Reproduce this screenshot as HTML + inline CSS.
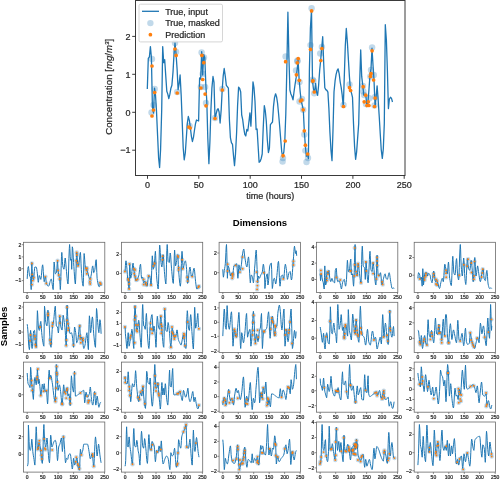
<!DOCTYPE html><html><head><meta charset="utf-8"><style>html,body{margin:0;padding:0;background:#fff;width:500px;height:479px;overflow:hidden;position:relative}</style></head><body><svg width="500" height="479" viewBox="0 0 500 479" style="position:absolute;left:0;top:0;will-change:transform;font-family:'Liberation Sans', sans-serif">
<style>text.t{stroke:#262626;stroke-width:0.22px;paint-order:stroke}</style>
<rect width="500" height="479" fill="#fff"/>
<g>
<defs><clipPath id="ct"><rect x="135.5" y="0.5" width="269.5" height="175.0"/></clipPath></defs>
<g clip-path="url(#ct)">
<polyline points="147.3,89.0 148.3,58.3 149.4,56.8 150.4,46.6 151.4,57.5 152.4,107.0 153.5,113.0 154.5,88.2 155.5,95.0 156.5,111.4 157.6,135.8 158.6,157.9 159.6,167.5 160.6,149.1 161.7,110.0 162.7,46.6 163.7,62.7 164.7,59.7 165.8,76.5 166.8,91.2 167.8,94.1 168.8,98.5 169.9,94.2 170.9,88.2 171.9,85.3 173.0,72.1 174.0,54.6 175.0,43.0 176.0,53.2 177.1,69.2 178.1,89.7 179.1,83.9 180.1,75.0 181.2,95.6 182.2,121.5 183.2,147.8 184.2,159.8 185.3,153.0 186.3,138.2 187.3,123.3 188.3,116.5 189.4,120.7 190.4,128.0 191.4,136.3 192.4,141.5 193.5,137.1 194.5,130.0 195.5,123.7 196.5,120.0 197.6,120.5 198.6,121.0 199.6,78.0 200.7,79.0 201.7,51.7 202.7,75.0 203.7,54.6 204.8,57.5 205.8,83.9 206.8,101.4 207.8,138.0 208.9,163.7 209.9,142.0 210.9,110.0 211.9,88.1 213.0,76.5 214.0,82.4 215.0,118.5 216.0,114.7 217.1,110.0 218.1,108.7 219.1,112.0 220.1,123.0 221.2,109.6 222.2,89.7 223.2,75.9 224.2,68.5 225.3,76.3 226.3,85.3 227.3,86.6 228.4,88.2 229.4,119.7 230.4,137.7 231.4,142.6 232.5,144.3 233.5,155.6 234.5,165.6 235.5,154.0 236.6,132.8 237.6,105.2 238.6,87.1 239.6,88.3 240.7,92.0 241.7,115.0 242.7,119.7 243.7,127.8 244.8,134.4 245.8,136.0 246.8,129.5 247.8,131.0 248.9,122.0 249.9,113.0 250.9,126.2 252.0,104.1 253.0,81.9 254.0,87.9 255.0,101.5 256.1,129.5 257.1,129.0 258.1,145.7 259.1,162.3 260.2,161.3 261.2,158.5 262.2,154.0 263.2,128.5 264.3,105.7 265.3,110.9 266.3,121.3 267.3,139.5 268.4,152.5 269.4,148.4 270.4,124.6 271.4,123.3 272.5,122.0 273.5,106.3 274.5,97.7 275.6,93.8 276.6,96.9 277.6,103.5 278.6,114.0 279.7,126.5 280.7,139.2 281.7,151.5 282.7,157.0 283.8,152.2 284.8,140.8 285.8,114.0 286.8,70.0 287.9,12.2 288.9,56.4 289.9,90.0 290.9,94.0 292.0,96.5 293.0,99.9 294.0,92.0 295.0,84.8 296.1,77.9 297.1,70.0 298.1,60.0 299.1,79.0 300.2,92.0 301.2,101.0 302.2,105.0 303.3,109.8 304.3,130.8 305.3,145.2 306.3,156.3 307.4,154.0 308.4,158.5 309.4,70.0 310.4,28.3 311.5,10.3 312.5,80.8 313.5,89.3 314.5,92.1 315.6,83.3 316.6,92.1 317.6,95.4 318.6,85.5 319.7,70.0 320.7,60.0 321.7,48.0 322.7,36.7 323.8,65.8 324.8,87.7 325.8,89.6 326.9,90.4 327.9,92.1 328.9,108.6 329.9,132.0 331.0,150.5 332.0,160.7 333.0,129.9 334.0,92.0 335.1,80.7 336.1,74.4 337.1,70.6 338.1,68.9 339.2,73.9 340.2,82.0 341.2,87.7 342.2,95.2 343.3,106.7 344.3,76.4 345.3,45.7 346.3,28.5 347.4,42.6 348.4,59.7 349.4,76.4 350.4,89.5 351.5,93.1 352.5,97.3 353.5,123.6 354.6,146.9 355.6,159.3 356.6,152.1 357.6,138.6 358.7,123.6 359.7,81.7 360.7,50.0 361.7,76.4 362.8,85.8 363.8,95.2 364.8,95.2 365.8,95.2 366.9,106.7 367.9,102.7 368.9,90.4 369.9,76.4 371.0,68.9 372.0,48.2 373.0,65.0 374.0,80.0 375.1,106.7 376.1,97.3 377.1,85.8 378.1,99.0 379.2,116.0 380.2,133.0 381.2,149.3 382.3,158.4 383.3,149.0 384.3,123.6 385.3,24.7 386.4,40.4 387.4,70.8 388.4,108.6 389.4,99.0 390.5,97.3 391.5,98.4 392.5,102.0" fill="none" stroke="#1f77b4" stroke-width="1.3" stroke-linejoin="round"/>
<circle cx="215" cy="118" r="3.2" fill="#1f77b4" fill-opacity="0.28"/>
<circle cx="152" cy="59" r="3.2" fill="#1f77b4" fill-opacity="0.28"/>
<circle cx="154.7" cy="89" r="3.2" fill="#1f77b4" fill-opacity="0.28"/>
<circle cx="153.5" cy="105" r="3.2" fill="#1f77b4" fill-opacity="0.28"/>
<circle cx="151.5" cy="112.5" r="3.2" fill="#1f77b4" fill-opacity="0.28"/>
<circle cx="175" cy="43" r="3.2" fill="#1f77b4" fill-opacity="0.28"/>
<circle cx="176" cy="51.7" r="3.2" fill="#1f77b4" fill-opacity="0.28"/>
<circle cx="177.2" cy="92" r="3.2" fill="#1f77b4" fill-opacity="0.28"/>
<circle cx="189.6" cy="126" r="3.2" fill="#1f77b4" fill-opacity="0.28"/>
<circle cx="201.6" cy="52.5" r="3.2" fill="#1f77b4" fill-opacity="0.28"/>
<circle cx="204" cy="57.5" r="3.2" fill="#1f77b4" fill-opacity="0.28"/>
<circle cx="202.7" cy="74" r="3.2" fill="#1f77b4" fill-opacity="0.28"/>
<circle cx="200.9" cy="87" r="3.2" fill="#1f77b4" fill-opacity="0.28"/>
<circle cx="205.1" cy="87" r="3.2" fill="#1f77b4" fill-opacity="0.28"/>
<circle cx="206" cy="103" r="3.2" fill="#1f77b4" fill-opacity="0.28"/>
<circle cx="222.3" cy="89" r="3.2" fill="#1f77b4" fill-opacity="0.28"/>
<circle cx="283" cy="158" r="3.2" fill="#1f77b4" fill-opacity="0.28"/>
<circle cx="282.6" cy="161.5" r="3.2" fill="#1f77b4" fill-opacity="0.28"/>
<circle cx="285.6" cy="56.4" r="3.2" fill="#1f77b4" fill-opacity="0.28"/>
<circle cx="297.5" cy="60.5" r="3.2" fill="#1f77b4" fill-opacity="0.28"/>
<circle cx="297.3" cy="61.5" r="3.2" fill="#1f77b4" fill-opacity="0.28"/>
<circle cx="296" cy="70.5" r="3.2" fill="#1f77b4" fill-opacity="0.28"/>
<circle cx="299.5" cy="82" r="3.2" fill="#1f77b4" fill-opacity="0.28"/>
<circle cx="311.6" cy="8.3" r="3.2" fill="#1f77b4" fill-opacity="0.28"/>
<circle cx="310.5" cy="45.1" r="3.2" fill="#1f77b4" fill-opacity="0.28"/>
<circle cx="313.5" cy="81" r="3.2" fill="#1f77b4" fill-opacity="0.28"/>
<circle cx="321.9" cy="47" r="3.2" fill="#1f77b4" fill-opacity="0.28"/>
<circle cx="320.2" cy="53.5" r="3.2" fill="#1f77b4" fill-opacity="0.28"/>
<circle cx="299.5" cy="101.5" r="3.2" fill="#1f77b4" fill-opacity="0.28"/>
<circle cx="302" cy="99" r="3.2" fill="#1f77b4" fill-opacity="0.28"/>
<circle cx="303.2" cy="109.8" r="3.2" fill="#1f77b4" fill-opacity="0.28"/>
<circle cx="304.3" cy="134.5" r="3.2" fill="#1f77b4" fill-opacity="0.28"/>
<circle cx="305.4" cy="150.6" r="3.2" fill="#1f77b4" fill-opacity="0.28"/>
<circle cx="306.5" cy="162" r="3.2" fill="#1f77b4" fill-opacity="0.28"/>
<circle cx="308" cy="158" r="3.2" fill="#1f77b4" fill-opacity="0.28"/>
<circle cx="312.7" cy="79.7" r="3.2" fill="#1f77b4" fill-opacity="0.28"/>
<circle cx="314.3" cy="93.3" r="3.2" fill="#1f77b4" fill-opacity="0.28"/>
<circle cx="343.5" cy="105" r="3.2" fill="#1f77b4" fill-opacity="0.28"/>
<circle cx="349.5" cy="84.4" r="3.2" fill="#1f77b4" fill-opacity="0.28"/>
<circle cx="363" cy="86" r="3.2" fill="#1f77b4" fill-opacity="0.28"/>
<circle cx="363.4" cy="91.4" r="3.2" fill="#1f77b4" fill-opacity="0.28"/>
<circle cx="364.2" cy="95" r="3.2" fill="#1f77b4" fill-opacity="0.28"/>
<circle cx="366" cy="104" r="3.2" fill="#1f77b4" fill-opacity="0.28"/>
<circle cx="369.3" cy="98.3" r="3.2" fill="#1f77b4" fill-opacity="0.28"/>
<circle cx="371" cy="70" r="3.2" fill="#1f77b4" fill-opacity="0.28"/>
<circle cx="370.4" cy="76.4" r="3.2" fill="#1f77b4" fill-opacity="0.28"/>
<circle cx="373.8" cy="75" r="3.2" fill="#1f77b4" fill-opacity="0.28"/>
<circle cx="372.1" cy="47.4" r="3.2" fill="#1f77b4" fill-opacity="0.28"/>
<circle cx="375.1" cy="97" r="3.2" fill="#1f77b4" fill-opacity="0.28"/>
<circle cx="374.5" cy="105.5" r="3.2" fill="#1f77b4" fill-opacity="0.28"/>
<circle cx="215" cy="118.5" r="1.85" fill="#ff7f0e"/>
<circle cx="152" cy="66" r="1.85" fill="#ff7f0e"/>
<circle cx="154.7" cy="92.5" r="1.85" fill="#ff7f0e"/>
<circle cx="153.5" cy="110" r="1.85" fill="#ff7f0e"/>
<circle cx="152" cy="116" r="1.85" fill="#ff7f0e"/>
<circle cx="175" cy="49" r="1.85" fill="#ff7f0e"/>
<circle cx="176.1" cy="55.4" r="1.85" fill="#ff7f0e"/>
<circle cx="177.2" cy="93" r="1.85" fill="#ff7f0e"/>
<circle cx="188.8" cy="127" r="1.85" fill="#ff7f0e"/>
<circle cx="190.2" cy="128" r="1.85" fill="#ff7f0e"/>
<circle cx="201.9" cy="55.4" r="1.85" fill="#ff7f0e"/>
<circle cx="203.8" cy="62.7" r="1.85" fill="#ff7f0e"/>
<circle cx="202.7" cy="79.5" r="1.85" fill="#ff7f0e"/>
<circle cx="200.9" cy="88" r="1.85" fill="#ff7f0e"/>
<circle cx="205.1" cy="94.1" r="1.85" fill="#ff7f0e"/>
<circle cx="206" cy="105.8" r="1.85" fill="#ff7f0e"/>
<circle cx="222.3" cy="90" r="1.85" fill="#ff7f0e"/>
<circle cx="283.1" cy="155.7" r="1.85" fill="#ff7f0e"/>
<circle cx="285.2" cy="141" r="1.85" fill="#ff7f0e"/>
<circle cx="285.6" cy="61.7" r="1.85" fill="#ff7f0e"/>
<circle cx="298.2" cy="58.6" r="1.85" fill="#ff7f0e"/>
<circle cx="297.3" cy="62.8" r="1.85" fill="#ff7f0e"/>
<circle cx="296.4" cy="74.8" r="1.85" fill="#ff7f0e"/>
<circle cx="299.3" cy="80.3" r="1.85" fill="#ff7f0e"/>
<circle cx="311.6" cy="10.9" r="1.85" fill="#ff7f0e"/>
<circle cx="310.5" cy="49.4" r="1.85" fill="#ff7f0e"/>
<circle cx="313" cy="80.8" r="1.85" fill="#ff7f0e"/>
<circle cx="321.9" cy="48.5" r="1.85" fill="#ff7f0e"/>
<circle cx="320.8" cy="60.5" r="1.85" fill="#ff7f0e"/>
<circle cx="300.4" cy="101" r="1.85" fill="#ff7f0e"/>
<circle cx="301.9" cy="100" r="1.85" fill="#ff7f0e"/>
<circle cx="303.2" cy="109.8" r="1.85" fill="#ff7f0e"/>
<circle cx="304.3" cy="130.8" r="1.85" fill="#ff7f0e"/>
<circle cx="305.4" cy="145.2" r="1.85" fill="#ff7f0e"/>
<circle cx="307.7" cy="154" r="1.85" fill="#ff7f0e"/>
<circle cx="312.7" cy="81" r="1.85" fill="#ff7f0e"/>
<circle cx="314.3" cy="92" r="1.85" fill="#ff7f0e"/>
<circle cx="343.5" cy="106.5" r="1.85" fill="#ff7f0e"/>
<circle cx="349.5" cy="87.7" r="1.85" fill="#ff7f0e"/>
<circle cx="350.6" cy="90.5" r="1.85" fill="#ff7f0e"/>
<circle cx="363.2" cy="86.7" r="1.85" fill="#ff7f0e"/>
<circle cx="365.7" cy="95.2" r="1.85" fill="#ff7f0e"/>
<circle cx="364.2" cy="101.8" r="1.85" fill="#ff7f0e"/>
<circle cx="367" cy="105.5" r="1.85" fill="#ff7f0e"/>
<circle cx="368.9" cy="105.5" r="1.85" fill="#ff7f0e"/>
<circle cx="368.3" cy="101.8" r="1.85" fill="#ff7f0e"/>
<circle cx="371" cy="73.6" r="1.85" fill="#ff7f0e"/>
<circle cx="370.4" cy="76.4" r="1.85" fill="#ff7f0e"/>
<circle cx="373.6" cy="80" r="1.85" fill="#ff7f0e"/>
<circle cx="372.1" cy="50.8" r="1.85" fill="#ff7f0e"/>
<circle cx="375.1" cy="98" r="1.85" fill="#ff7f0e"/>
<circle cx="374.5" cy="106.5" r="1.85" fill="#ff7f0e"/>
</g>
<rect x="135.5" y="0.5" width="269.5" height="175.0" fill="none" stroke="#3a3a3a" stroke-width="1"/>
<line x1="147.5" y1="175.5" x2="147.5" y2="178.8" stroke="#262626" stroke-width="0.9"/>
<text x="147.5" y="188" font-size="9" text-anchor="middle" fill="#262626" class="t">0</text>
<line x1="198.8" y1="175.5" x2="198.8" y2="178.8" stroke="#262626" stroke-width="0.9"/>
<text x="198.8" y="188" font-size="9" text-anchor="middle" fill="#262626" class="t">50</text>
<line x1="250.2" y1="175.5" x2="250.2" y2="178.8" stroke="#262626" stroke-width="0.9"/>
<text x="250.2" y="188" font-size="9" text-anchor="middle" fill="#262626" class="t">100</text>
<line x1="301.5" y1="175.5" x2="301.5" y2="178.8" stroke="#262626" stroke-width="0.9"/>
<text x="301.5" y="188" font-size="9" text-anchor="middle" fill="#262626" class="t">150</text>
<line x1="352.9" y1="175.5" x2="352.9" y2="178.8" stroke="#262626" stroke-width="0.9"/>
<text x="352.9" y="188" font-size="9" text-anchor="middle" fill="#262626" class="t">200</text>
<line x1="404.2" y1="175.5" x2="404.2" y2="178.8" stroke="#262626" stroke-width="0.9"/>
<text x="404.2" y="188" font-size="9" text-anchor="middle" fill="#262626" class="t">250</text>
<line x1="132.2" y1="36.4" x2="135.5" y2="36.4" stroke="#262626" stroke-width="0.9"/>
<text x="130.5" y="39.6" font-size="9" text-anchor="end" fill="#262626" class="t">2</text>
<line x1="132.2" y1="74.3" x2="135.5" y2="74.3" stroke="#262626" stroke-width="0.9"/>
<text x="130.5" y="77.5" font-size="9" text-anchor="end" fill="#262626" class="t">1</text>
<line x1="132.2" y1="112.3" x2="135.5" y2="112.3" stroke="#262626" stroke-width="0.9"/>
<text x="130.5" y="115.5" font-size="9" text-anchor="end" fill="#262626" class="t">0</text>
<line x1="132.2" y1="150.2" x2="135.5" y2="150.2" stroke="#262626" stroke-width="0.9"/>
<text x="130.5" y="153.4" font-size="9" text-anchor="end" fill="#262626" class="t">−1</text>
<text x="270.3" y="198.5" font-size="9" text-anchor="middle" fill="#262626" class="t">time (hours)</text>
<text transform="translate(112.3,86.8) rotate(-90)" font-size="9.7" text-anchor="middle" fill="#262626" class="t">Concentration [<tspan font-style="italic">mg</tspan>/<tspan font-style="italic">m</tspan><tspan font-size="6" dy="-3">3</tspan><tspan dy="3">]</tspan></text>
<rect x="139" y="4.2" width="83.5" height="37.7" rx="1.5" fill="#fff" fill-opacity="0.8" stroke="#cccccc" stroke-width="0.8"/>
<line x1="142" y1="11.3" x2="159" y2="11.3" stroke="#1f77b4" stroke-width="1.3"/>
<circle cx="150.4" cy="23.1" r="3.2" fill="#1f77b4" fill-opacity="0.28"/>
<circle cx="150.4" cy="34.7" r="1.85" fill="#ff7f0e"/>
<text x="165.2" y="14.6" font-size="9" fill="#262626" class="t">True, input</text>
<text x="165.2" y="26.2" font-size="9" fill="#262626" class="t">True, masked</text>
<text x="165.2" y="37.8" font-size="9" fill="#262626" class="t">Prediction</text>
</g>
<text x="259.9" y="225.8" font-size="9.6" font-weight="bold" text-anchor="middle" fill="#000">Dimensions</text>
<text transform="translate(7.2,326.5) rotate(-90)" font-size="9.6" font-weight="bold" text-anchor="middle" fill="#000">Samples</text>
<defs><clipPath id="c00"><rect x="23.5" y="242.3" width="81.3" height="50.1"/></clipPath></defs>
<g clip-path="url(#c00)">
<polyline points="27.2,278.9 27.5,273.3 27.8,269.5 28.1,267.2 28.4,266.5 28.7,268.4 29.1,272.1 29.4,274.9 29.7,275.9 30.0,276.5 30.3,277.1 30.6,278.3 30.9,284.4 31.2,289.6 31.5,276.0 31.8,262.5 32.1,268.7 32.5,276.0 32.8,277.8 33.1,279.0 33.4,279.4 33.7,278.1 34.0,275.0 34.3,271.4 34.6,268.3 34.9,267.0 35.2,267.0 35.5,267.0 35.9,267.0 36.2,267.0 36.5,267.7 36.8,269.3 37.1,271.5 37.4,273.8 37.7,277.0 38.0,280.6 38.3,282.3 38.6,280.5 38.9,277.3 39.3,275.5 39.6,275.9 39.9,276.9 40.2,278.0 40.5,279.0 40.8,279.4 41.1,278.3 41.4,275.6 41.7,272.1 42.0,268.6 42.3,265.9 42.7,264.8 43.0,267.0 43.3,271.7 43.6,276.0 43.9,279.7 44.2,281.7 44.5,280.9 44.8,279.1 45.1,277.4 45.4,276.6 45.8,278.2 46.1,281.3 46.4,283.4 46.7,284.1 47.0,284.7 47.3,285.2 47.6,285.6 47.9,286.0 48.2,286.1 48.5,286.2 48.8,285.9 49.2,285.1 49.5,283.9 49.8,282.7 50.1,281.5 50.4,280.6 50.7,279.9 51.0,279.2 51.3,278.9 51.6,279.7 51.9,281.7 52.2,284.2 52.6,286.8 52.9,288.8 53.2,289.6 53.5,282.4 53.8,269.2 54.1,262.0 54.4,263.8 54.7,267.9 55.0,272.0 55.3,273.8 55.6,273.7 56.0,273.3 56.3,272.8 56.6,272.0 56.9,268.7 57.2,263.5 57.5,260.8 57.8,264.8 58.1,270.4 58.4,273.0 58.7,274.9 59.0,276.2 59.4,277.3 59.7,278.9 60.0,284.8 60.3,289.6 60.6,285.7 60.9,276.5 61.2,265.5 61.5,256.3 61.8,252.4 62.1,255.6 62.4,261.7 62.8,265.9 63.1,267.3 63.4,268.3 63.7,269.0 64.0,269.3 64.3,267.5 64.6,263.6 64.9,259.8 65.2,258.0 65.5,260.0 65.9,264.2 66.2,268.2 66.5,271.5 66.8,275.0 67.1,278.4 67.4,281.2 67.7,283.2 68.0,284.0 68.3,279.9 68.6,270.1 68.9,258.4 69.3,248.6 69.6,244.5 69.9,248.6 70.2,256.2 70.5,260.3 70.8,260.0 71.1,259.5 71.4,259.2 71.7,269.3 72.0,258.1 72.3,246.8 72.7,248.5 73.0,252.8 73.3,257.9 73.6,262.5 73.9,266.7 74.2,271.4 74.5,276.1 74.8,280.1 75.1,282.9 75.4,284.0 75.7,279.1 76.1,268.2 76.4,257.3 76.7,252.4 77.0,254.6 77.3,259.1 77.6,262.5 77.9,264.1 78.2,265.4 78.5,265.9 78.8,264.9 79.1,262.4 79.5,259.1 79.8,255.9 80.1,253.4 80.4,252.4 80.7,255.9 81.0,263.2 81.3,269.3 81.6,273.3 81.9,277.1 82.2,280.7 82.5,283.6 82.9,285.5 83.2,286.2 83.5,277.7 83.8,262.0 84.1,253.5 84.4,255.4 84.7,259.8 85.0,264.3 85.3,267.0 85.6,267.8 86.0,268.3 86.3,268.7 86.6,269.3 86.9,270.1 87.2,270.9 87.5,271.9 87.8,272.9 88.1,273.8 88.4,274.9 88.7,276.1 89.0,277.3 89.4,278.4 89.7,279.1 90.0,279.4 90.3,279.0 90.6,277.9 90.9,276.5 91.2,275.0 91.5,273.2 91.8,270.8 92.1,268.5 92.4,266.6 92.8,265.9 93.1,267.7 93.4,270.9 93.7,272.7 94.0,272.4 94.3,271.6 94.6,270.5 94.9,269.3 95.2,267.1 95.5,263.9 95.8,261.0 96.2,259.7 96.5,264.0 96.8,272.5 97.1,278.3 97.4,280.4 97.7,282.3 98.0,283.8 98.3,285.1 98.6,286.0 98.9,286.6 99.2,286.8 99.6,286.4 99.9,285.4 100.2,284.4 100.5,284.0 100.8,284.5 101.1,285.6" fill="none" stroke="#1f77b4" stroke-width="1.0" stroke-linejoin="round"/>
<circle cx="31.9" cy="263.5" r="2.2" fill="#1f77b4" fill-opacity="0.28"/>
<circle cx="32.2" cy="274.4" r="2.2" fill="#1f77b4" fill-opacity="0.28"/>
<circle cx="32.8" cy="280.6" r="2.2" fill="#1f77b4" fill-opacity="0.28"/>
<circle cx="33.7" cy="277.7" r="2.2" fill="#1f77b4" fill-opacity="0.28"/>
<circle cx="32" cy="284.6" r="2.2" fill="#1f77b4" fill-opacity="0.28"/>
<circle cx="45.4" cy="276.6" r="2.2" fill="#1f77b4" fill-opacity="0.28"/>
<circle cx="46.3" cy="283.4" r="2.2" fill="#1f77b4" fill-opacity="0.28"/>
<circle cx="57.6" cy="260.8" r="2.2" fill="#1f77b4" fill-opacity="0.28"/>
<circle cx="58.1" cy="270.4" r="2.2" fill="#1f77b4" fill-opacity="0.28"/>
<circle cx="58.7" cy="274.9" r="2.2" fill="#1f77b4" fill-opacity="0.28"/>
<circle cx="59.6" cy="278.9" r="2.2" fill="#1f77b4" fill-opacity="0.28"/>
<circle cx="76.7" cy="252.4" r="2.2" fill="#1f77b4" fill-opacity="0.28"/>
<circle cx="76.9" cy="255" r="2.2" fill="#1f77b4" fill-opacity="0.28"/>
<circle cx="76.3" cy="260.8" r="2.2" fill="#1f77b4" fill-opacity="0.28"/>
<circle cx="77.5" cy="263" r="2.2" fill="#1f77b4" fill-opacity="0.28"/>
<circle cx="78" cy="265.9" r="2.2" fill="#1f77b4" fill-opacity="0.28"/>
<circle cx="85.9" cy="268.2" r="2.2" fill="#1f77b4" fill-opacity="0.28"/>
<circle cx="87" cy="268.2" r="2.2" fill="#1f77b4" fill-opacity="0.28"/>
<circle cx="86.5" cy="270.4" r="2.2" fill="#1f77b4" fill-opacity="0.28"/>
<circle cx="86.8" cy="273.8" r="2.2" fill="#1f77b4" fill-opacity="0.28"/>
<circle cx="90.4" cy="278.9" r="2.2" fill="#1f77b4" fill-opacity="0.28"/>
<circle cx="89.9" cy="281.7" r="2.2" fill="#1f77b4" fill-opacity="0.28"/>
<circle cx="90.2" cy="284" r="2.2" fill="#1f77b4" fill-opacity="0.28"/>
<circle cx="100" cy="282.8" r="2.2" fill="#1f77b4" fill-opacity="0.28"/>
<circle cx="100.8" cy="284" r="2.2" fill="#1f77b4" fill-opacity="0.28"/>
<circle cx="31.9" cy="263.5" r="0.95" fill="#ff7f0e"/>
<circle cx="32.2" cy="274.4" r="0.95" fill="#ff7f0e"/>
<circle cx="32.8" cy="280.6" r="0.95" fill="#ff7f0e"/>
<circle cx="33.7" cy="277.7" r="0.95" fill="#ff7f0e"/>
<circle cx="32" cy="284.6" r="0.95" fill="#ff7f0e"/>
<circle cx="45.4" cy="276.6" r="0.95" fill="#ff7f0e"/>
<circle cx="46.3" cy="283.4" r="0.95" fill="#ff7f0e"/>
<circle cx="57.6" cy="260.8" r="0.95" fill="#ff7f0e"/>
<circle cx="58.1" cy="270.4" r="0.95" fill="#ff7f0e"/>
<circle cx="58.7" cy="274.9" r="0.95" fill="#ff7f0e"/>
<circle cx="59.6" cy="278.9" r="0.95" fill="#ff7f0e"/>
<circle cx="76.7" cy="252.4" r="0.95" fill="#ff7f0e"/>
<circle cx="76.9" cy="255" r="0.95" fill="#ff7f0e"/>
<circle cx="76.3" cy="260.8" r="0.95" fill="#ff7f0e"/>
<circle cx="77.5" cy="263" r="0.95" fill="#ff7f0e"/>
<circle cx="78" cy="265.9" r="0.95" fill="#ff7f0e"/>
<circle cx="85.9" cy="268.2" r="0.95" fill="#ff7f0e"/>
<circle cx="87" cy="268.2" r="0.95" fill="#ff7f0e"/>
<circle cx="86.5" cy="270.4" r="0.95" fill="#ff7f0e"/>
<circle cx="86.8" cy="273.8" r="0.95" fill="#ff7f0e"/>
<circle cx="90.4" cy="278.9" r="0.95" fill="#ff7f0e"/>
<circle cx="89.9" cy="281.7" r="0.95" fill="#ff7f0e"/>
<circle cx="90.2" cy="284" r="0.95" fill="#ff7f0e"/>
<circle cx="100" cy="282.8" r="0.95" fill="#ff7f0e"/>
<circle cx="100.8" cy="284" r="0.95" fill="#ff7f0e"/>
</g>
<rect x="23.5" y="242.3" width="81.3" height="50.1" fill="none" stroke="#6a6a6a" stroke-width="0.8"/>
<line x1="27.2" y1="292.40000000000003" x2="27.2" y2="294.20000000000005" stroke="#6a6a6a" stroke-width="0.8"/>
<text x="27.2" y="298.8" font-size="5" text-anchor="middle" fill="#262626" class="t">0</text>
<line x1="42.7" y1="292.40000000000003" x2="42.7" y2="294.20000000000005" stroke="#6a6a6a" stroke-width="0.8"/>
<text x="42.7" y="298.8" font-size="5" text-anchor="middle" fill="#262626" class="t">50</text>
<line x1="58.1" y1="292.40000000000003" x2="58.1" y2="294.20000000000005" stroke="#6a6a6a" stroke-width="0.8"/>
<text x="58.1" y="298.8" font-size="5" text-anchor="middle" fill="#262626" class="t">100</text>
<line x1="73.6" y1="292.40000000000003" x2="73.6" y2="294.20000000000005" stroke="#6a6a6a" stroke-width="0.8"/>
<text x="73.6" y="298.8" font-size="5" text-anchor="middle" fill="#262626" class="t">150</text>
<line x1="89.0" y1="292.40000000000003" x2="89.0" y2="294.20000000000005" stroke="#6a6a6a" stroke-width="0.8"/>
<text x="89.0" y="298.8" font-size="5" text-anchor="middle" fill="#262626" class="t">200</text>
<line x1="104.5" y1="292.40000000000003" x2="104.5" y2="294.20000000000005" stroke="#6a6a6a" stroke-width="0.8"/>
<text x="104.5" y="298.8" font-size="5" text-anchor="middle" fill="#262626" class="t">250</text>
<line x1="21.7" y1="244.7" x2="23.5" y2="244.7" stroke="#6a6a6a" stroke-width="0.8"/>
<text x="21.2" y="246.5" font-size="5" text-anchor="end" fill="#262626" class="t">2</text>
<line x1="21.7" y1="256.9" x2="23.5" y2="256.9" stroke="#6a6a6a" stroke-width="0.8"/>
<text x="21.2" y="258.7" font-size="5" text-anchor="end" fill="#262626" class="t">1</text>
<line x1="21.7" y1="268.7" x2="23.5" y2="268.7" stroke="#6a6a6a" stroke-width="0.8"/>
<text x="21.2" y="270.5" font-size="5" text-anchor="end" fill="#262626" class="t">0</text>
<line x1="21.7" y1="280.6" x2="23.5" y2="280.6" stroke="#6a6a6a" stroke-width="0.8"/>
<text x="21.2" y="282.4" font-size="5" text-anchor="end" fill="#262626" class="t">−1</text>
<defs><clipPath id="c01"><rect x="121.4" y="242.3" width="81.3" height="50.1"/></clipPath></defs>
<g clip-path="url(#c01)">
<polyline points="125.1,271.5 125.4,265.7 125.7,262.1 126.0,260.8 126.3,262.2 126.6,265.5 127.0,269.3 127.3,274.2 127.6,278.3 127.9,279.5 128.2,280.6 128.5,283.5 128.8,287.2 129.1,289.0 129.4,276.3 129.7,263.7 130.0,267.5 130.4,274.5 130.7,278.3 131.0,277.5 131.3,275.7 131.6,273.8 131.9,271.6 132.2,268.8 132.5,266.0 132.8,263.9 133.1,263.1 133.4,265.6 133.8,269.3 134.1,271.4 134.4,273.3 134.7,274.9 135.0,276.7 135.3,278.6 135.6,280.0 135.9,280.6 136.2,280.5 136.5,280.2 136.8,279.8 137.2,279.4 137.5,278.9 137.8,278.4 138.1,277.7 138.4,276.9 138.7,276.0 139.0,274.4 139.3,272.1 139.6,269.4 139.9,266.8 140.2,264.9 140.6,264.2 140.9,267.9 141.2,274.6 141.5,278.3 141.8,278.1 142.1,277.8 142.4,277.4 142.7,277.2 143.0,278.7 143.3,281.3 143.7,282.8 144.0,282.5 144.3,282.0 144.6,281.4 144.9,281.1 145.2,281.6 145.5,282.8 145.8,284.1 146.1,285.0 146.4,285.6 146.7,286.0 147.1,286.2 147.4,285.1 147.7,282.6 148.0,279.6 148.3,277.1 148.6,276.0 148.9,276.0 149.2,276.0 149.5,276.0 149.8,276.0 150.1,277.5 150.5,280.8 150.8,284.1 151.1,285.6 151.4,280.9 151.7,270.7 152.0,260.5 152.3,255.8 152.6,259.3 152.9,265.8 153.2,269.3 153.5,268.7 153.9,267.3 154.2,265.3 154.5,263.0 154.8,258.9 155.1,253.8 155.4,251.3 155.7,255.6 156.0,264.4 156.3,271.5 156.6,275.8 156.9,279.8 157.3,283.4 157.6,286.4 157.9,288.3 158.2,289.0 158.5,284.4 158.8,273.5 159.1,260.6 159.4,249.7 159.7,245.1 160.0,247.4 160.3,252.7 160.7,258.6 161.0,262.5 161.3,264.6 161.6,266.3 161.9,267.0 162.2,265.1 162.5,260.8 162.8,256.6 163.1,254.7 163.4,256.7 163.8,261.5 164.1,267.1 164.4,271.5 164.7,274.8 165.0,278.2 165.3,281.1 165.6,283.2 165.9,284.0 166.2,277.8 166.5,264.2 166.8,250.7 167.2,244.5 167.5,248.8 167.8,256.8 168.1,261.4 168.4,261.9 168.7,262.2 169.0,262.4 169.3,262.5 169.6,260.0 169.9,255.5 170.2,253.0 170.6,254.8 170.9,259.1 171.2,264.1 171.5,268.2 171.8,271.5 172.1,274.9 172.4,278.1 172.7,280.8 173.0,282.7 173.3,283.4 173.6,278.2 174.0,266.8 174.3,255.3 174.6,250.1 174.9,254.2 175.2,261.8 175.5,265.9 175.8,265.3 176.1,264.0 176.4,262.5 176.7,260.5 177.0,257.9 177.4,255.7 177.7,254.7 178.0,258.0 178.3,264.7 178.6,270.4 178.9,274.1 179.2,277.7 179.5,281.0 179.8,283.7 180.1,285.5 180.4,286.2 180.8,282.6 181.1,273.9 181.4,263.6 181.7,254.9 182.0,251.3 182.3,253.9 182.6,259.8 182.9,265.6 183.2,268.2 183.5,267.5 183.9,265.7 184.2,263.8 184.5,262.5 184.8,261.7 185.1,261.1 185.4,260.8 185.7,261.6 186.0,263.6 186.3,266.3 186.6,269.3 186.9,274.3 187.3,280.4 187.6,283.4 187.9,282.7 188.2,280.8 188.5,278.2 188.8,275.2 189.1,272.2 189.4,269.6 189.7,267.7 190.0,267.0 190.3,268.4 190.7,271.5 191.0,274.6 191.3,276.0 191.6,276.0 191.9,276.0 192.2,276.0 192.5,275.4 192.8,274.0 193.1,272.1 193.4,270.2 193.7,268.8 194.1,268.2 194.4,269.3 194.7,271.9 195.0,275.4 195.3,278.9 195.6,281.7 195.9,284.1 196.2,286.4 196.5,288.3 196.8,289.0 197.1,288.9 197.5,288.6 197.8,288.3 198.1,287.8 198.4,287.3 198.7,286.6 199.0,285.6" fill="none" stroke="#1f77b4" stroke-width="1.0" stroke-linejoin="round"/>
<circle cx="124.9" cy="271.5" r="2.2" fill="#1f77b4" fill-opacity="0.28"/>
<circle cx="129.4" cy="263.9" r="2.2" fill="#1f77b4" fill-opacity="0.28"/>
<circle cx="128.1" cy="279" r="2.2" fill="#1f77b4" fill-opacity="0.28"/>
<circle cx="128.6" cy="280.6" r="2.2" fill="#1f77b4" fill-opacity="0.28"/>
<circle cx="129.1" cy="284" r="2.2" fill="#1f77b4" fill-opacity="0.28"/>
<circle cx="129.1" cy="289" r="2.2" fill="#1f77b4" fill-opacity="0.28"/>
<circle cx="133.9" cy="268.7" r="2.2" fill="#1f77b4" fill-opacity="0.28"/>
<circle cx="135.1" cy="269.9" r="2.2" fill="#1f77b4" fill-opacity="0.28"/>
<circle cx="134.2" cy="273.8" r="2.2" fill="#1f77b4" fill-opacity="0.28"/>
<circle cx="135.3" cy="276.6" r="2.2" fill="#1f77b4" fill-opacity="0.28"/>
<circle cx="136.2" cy="280" r="2.2" fill="#1f77b4" fill-opacity="0.28"/>
<circle cx="137.5" cy="279.4" r="2.2" fill="#1f77b4" fill-opacity="0.28"/>
<circle cx="143.7" cy="279.4" r="2.2" fill="#1f77b4" fill-opacity="0.28"/>
<circle cx="143.7" cy="284.5" r="2.2" fill="#1f77b4" fill-opacity="0.28"/>
<circle cx="146" cy="282.8" r="2.2" fill="#1f77b4" fill-opacity="0.28"/>
<circle cx="146.5" cy="285" r="2.2" fill="#1f77b4" fill-opacity="0.28"/>
<circle cx="148.6" cy="276" r="2.2" fill="#1f77b4" fill-opacity="0.28"/>
<circle cx="151.1" cy="285" r="2.2" fill="#1f77b4" fill-opacity="0.28"/>
<circle cx="153.3" cy="265.9" r="2.2" fill="#1f77b4" fill-opacity="0.28"/>
<circle cx="154.5" cy="263.1" r="2.2" fill="#1f77b4" fill-opacity="0.28"/>
<circle cx="154.6" cy="263.7" r="2.2" fill="#1f77b4" fill-opacity="0.28"/>
<circle cx="162.5" cy="256.3" r="2.2" fill="#1f77b4" fill-opacity="0.28"/>
<circle cx="162.5" cy="259.7" r="2.2" fill="#1f77b4" fill-opacity="0.28"/>
<circle cx="177.7" cy="255.8" r="2.2" fill="#1f77b4" fill-opacity="0.28"/>
<circle cx="178.2" cy="257" r="2.2" fill="#1f77b4" fill-opacity="0.28"/>
<circle cx="178.8" cy="267.6" r="2.2" fill="#1f77b4" fill-opacity="0.28"/>
<circle cx="178.6" cy="269.9" r="2.2" fill="#1f77b4" fill-opacity="0.28"/>
<circle cx="182.2" cy="259.7" r="2.2" fill="#1f77b4" fill-opacity="0.28"/>
<circle cx="182.7" cy="268.7" r="2.2" fill="#1f77b4" fill-opacity="0.28"/>
<circle cx="187.3" cy="277.2" r="2.2" fill="#1f77b4" fill-opacity="0.28"/>
<circle cx="187.6" cy="281.1" r="2.2" fill="#1f77b4" fill-opacity="0.28"/>
<circle cx="192.3" cy="276.6" r="2.2" fill="#1f77b4" fill-opacity="0.28"/>
<circle cx="198.9" cy="286.2" r="2.2" fill="#1f77b4" fill-opacity="0.28"/>
<circle cx="198.3" cy="287.3" r="2.2" fill="#1f77b4" fill-opacity="0.28"/>
<circle cx="124.9" cy="271.5" r="0.95" fill="#ff7f0e"/>
<circle cx="129.4" cy="263.9" r="0.95" fill="#ff7f0e"/>
<circle cx="128.1" cy="279" r="0.95" fill="#ff7f0e"/>
<circle cx="128.6" cy="280.6" r="0.95" fill="#ff7f0e"/>
<circle cx="129.1" cy="284" r="0.95" fill="#ff7f0e"/>
<circle cx="129.1" cy="289" r="0.95" fill="#ff7f0e"/>
<circle cx="133.9" cy="268.7" r="0.95" fill="#ff7f0e"/>
<circle cx="135.1" cy="269.9" r="0.95" fill="#ff7f0e"/>
<circle cx="134.2" cy="273.8" r="0.95" fill="#ff7f0e"/>
<circle cx="135.3" cy="276.6" r="0.95" fill="#ff7f0e"/>
<circle cx="136.2" cy="280" r="0.95" fill="#ff7f0e"/>
<circle cx="137.5" cy="279.4" r="0.95" fill="#ff7f0e"/>
<circle cx="143.7" cy="279.4" r="0.95" fill="#ff7f0e"/>
<circle cx="143.7" cy="284.5" r="0.95" fill="#ff7f0e"/>
<circle cx="146" cy="282.8" r="0.95" fill="#ff7f0e"/>
<circle cx="146.5" cy="285" r="0.95" fill="#ff7f0e"/>
<circle cx="148.6" cy="276" r="0.95" fill="#ff7f0e"/>
<circle cx="151.1" cy="285" r="0.95" fill="#ff7f0e"/>
<circle cx="153.3" cy="265.9" r="0.95" fill="#ff7f0e"/>
<circle cx="154.5" cy="263.1" r="0.95" fill="#ff7f0e"/>
<circle cx="154.6" cy="263.7" r="0.95" fill="#ff7f0e"/>
<circle cx="162.5" cy="256.3" r="0.95" fill="#ff7f0e"/>
<circle cx="162.5" cy="259.7" r="0.95" fill="#ff7f0e"/>
<circle cx="177.7" cy="255.8" r="0.95" fill="#ff7f0e"/>
<circle cx="178.2" cy="257" r="0.95" fill="#ff7f0e"/>
<circle cx="178.8" cy="267.6" r="0.95" fill="#ff7f0e"/>
<circle cx="178.6" cy="269.9" r="0.95" fill="#ff7f0e"/>
<circle cx="182.2" cy="259.7" r="0.95" fill="#ff7f0e"/>
<circle cx="182.7" cy="268.7" r="0.95" fill="#ff7f0e"/>
<circle cx="187.3" cy="277.2" r="0.95" fill="#ff7f0e"/>
<circle cx="187.6" cy="281.1" r="0.95" fill="#ff7f0e"/>
<circle cx="192.3" cy="276.6" r="0.95" fill="#ff7f0e"/>
<circle cx="198.9" cy="286.2" r="0.95" fill="#ff7f0e"/>
<circle cx="198.3" cy="287.3" r="0.95" fill="#ff7f0e"/>
</g>
<rect x="121.4" y="242.3" width="81.3" height="50.1" fill="none" stroke="#6a6a6a" stroke-width="0.8"/>
<line x1="125.1" y1="292.40000000000003" x2="125.1" y2="294.20000000000005" stroke="#6a6a6a" stroke-width="0.8"/>
<text x="125.1" y="298.8" font-size="5" text-anchor="middle" fill="#262626" class="t">0</text>
<line x1="140.6" y1="292.40000000000003" x2="140.6" y2="294.20000000000005" stroke="#6a6a6a" stroke-width="0.8"/>
<text x="140.6" y="298.8" font-size="5" text-anchor="middle" fill="#262626" class="t">50</text>
<line x1="156.0" y1="292.40000000000003" x2="156.0" y2="294.20000000000005" stroke="#6a6a6a" stroke-width="0.8"/>
<text x="156.0" y="298.8" font-size="5" text-anchor="middle" fill="#262626" class="t">100</text>
<line x1="171.5" y1="292.40000000000003" x2="171.5" y2="294.20000000000005" stroke="#6a6a6a" stroke-width="0.8"/>
<text x="171.5" y="298.8" font-size="5" text-anchor="middle" fill="#262626" class="t">150</text>
<line x1="186.9" y1="292.40000000000003" x2="186.9" y2="294.20000000000005" stroke="#6a6a6a" stroke-width="0.8"/>
<text x="186.9" y="298.8" font-size="5" text-anchor="middle" fill="#262626" class="t">200</text>
<line x1="202.4" y1="292.40000000000003" x2="202.4" y2="294.20000000000005" stroke="#6a6a6a" stroke-width="0.8"/>
<text x="202.4" y="298.8" font-size="5" text-anchor="middle" fill="#262626" class="t">250</text>
<line x1="119.60000000000001" y1="254.4" x2="121.4" y2="254.4" stroke="#6a6a6a" stroke-width="0.8"/>
<text x="119.10000000000001" y="256.2" font-size="5" text-anchor="end" fill="#262626" class="t">2</text>
<line x1="119.60000000000001" y1="273.4" x2="121.4" y2="273.4" stroke="#6a6a6a" stroke-width="0.8"/>
<text x="119.10000000000001" y="275.2" font-size="5" text-anchor="end" fill="#262626" class="t">0</text>
<defs><clipPath id="c02"><rect x="219.1" y="242.3" width="81.3" height="50.1"/></clipPath></defs>
<g clip-path="url(#c02)">
<polyline points="222.8,269.3 223.1,274.9 223.4,277.2 223.7,275.9 224.0,273.2 224.3,270.4 224.7,268.3 225.0,266.3 225.3,263.7 225.6,259.0 225.9,252.6 226.2,246.9 226.5,244.5 226.8,252.3 227.1,265.9 227.4,278.3 227.7,272.1 228.1,265.9 228.4,266.2 228.7,267.0 229.0,268.1 229.3,269.3 229.6,271.0 229.9,273.2 230.2,275.2 230.5,276.0 230.8,275.4 231.1,274.1 231.5,273.5 231.8,273.7 232.1,274.2 232.4,274.7 232.7,274.9 233.0,273.6 233.3,270.6 233.6,267.5 233.9,265.9 234.2,265.6 234.5,265.3 234.9,265.2 235.2,265.0 235.5,264.8 235.8,264.5 236.1,264.1 236.4,263.8 236.7,263.7 237.0,266.0 237.3,271.0 237.6,276.0 237.9,278.3 238.3,274.8 238.6,268.3 238.9,264.8 239.2,265.7 239.5,267.6 239.8,269.5 240.1,270.4 240.4,269.9 240.7,268.6 241.0,266.8 241.4,264.8 241.7,262.0 242.0,258.6 242.3,255.8 242.6,253.9 242.9,252.0 243.2,250.5 243.5,249.4 243.8,249.0 244.1,250.6 244.4,254.0 244.8,256.9 245.1,258.9 245.4,260.9 245.7,262.8 246.0,264.4 246.3,265.8 246.6,266.7 246.9,267.0 247.2,265.9 247.5,263.4 247.8,260.5 248.2,258.0 248.5,256.9 248.8,258.7 249.1,263.2 249.4,268.7 249.7,273.8 250.0,279.4 250.3,282.8 250.6,280.8 250.9,277.0 251.2,275.0 251.6,275.2 251.9,275.7 252.2,276.4 252.5,277.2 252.8,279.0 253.1,281.5 253.4,282.8 253.7,281.2 254.0,277.3 254.3,272.5 254.6,268.2 255.0,264.0 255.3,259.2 255.6,254.7 255.9,251.4 256.2,250.1 256.5,253.6 256.8,261.4 257.1,269.3 257.4,277.7 257.7,282.8 258.0,279.4 258.4,276.0 258.7,276.6 259.0,277.7 259.3,278.3 259.6,278.1 259.9,277.5 260.2,276.7 260.5,275.8 260.8,275.0 261.1,274.4 261.5,273.8 261.8,273.2 262.1,272.5 262.4,271.5 262.7,269.1 263.0,265.8 263.3,264.2 263.6,264.9 263.9,267.0 264.2,270.4 264.5,275.0 264.9,288.5 265.2,286.5 265.5,282.5 265.8,279.4 266.1,277.7 266.4,276.2 266.7,275.0 267.0,274.1 267.3,273.8 267.6,279.4 267.9,285.0 268.3,283.7 268.6,280.5 268.9,276.1 269.2,271.7 269.5,268.0 269.8,265.9 270.1,265.0 270.4,264.2 270.7,263.6 271.0,263.2 271.3,263.1 271.7,269.7 272.0,281.9 272.3,288.5 272.6,287.2 272.9,284.3 273.2,281.2 273.5,279.4 273.8,278.8 274.1,278.4 274.4,278.3 274.7,279.2 275.1,281.1 275.4,283.1 275.7,284.0 276.0,283.1 276.3,281.0 276.6,278.2 276.9,275.5 277.2,272.5 277.5,268.8 277.8,265.2 278.1,262.5 278.5,261.4 278.8,264.0 279.1,270.1 279.4,277.5 279.7,283.6 280.0,286.2 280.3,284.7 280.6,281.3 280.9,277.8 281.2,276.0 281.6,275.6 281.9,275.3 282.2,275.1 282.5,275.0 282.8,275.6 283.1,276.9 283.4,278.3 283.7,278.9 284.0,277.4 284.3,273.7 284.6,269.4 285.0,265.7 285.3,264.2 285.6,264.8 285.9,266.3 286.2,268.3 286.5,270.4 286.8,273.7 287.1,277.5 287.4,279.4 287.7,278.8 288.0,277.3 288.4,275.4 288.7,273.7 289.0,272.7 289.3,272.2 289.6,271.9 289.9,271.6 290.2,271.5 290.5,272.8 290.8,275.8 291.1,278.7 291.4,280.0 291.8,279.0 292.1,276.4 292.4,272.7 292.7,268.4 293.0,264.1 293.3,260.3 293.6,256.2 293.9,251.5 294.2,247.8 294.5,246.2 294.8,248.1 295.2,251.6 295.5,253.5 295.8,252.1 296.1,250.7 296.4,252.1 296.7,255.8" fill="none" stroke="#1f77b4" stroke-width="1.0" stroke-linejoin="round"/>
<circle cx="227.7" cy="264.2" r="2.2" fill="#1f77b4" fill-opacity="0.28"/>
<circle cx="227.5" cy="271" r="2.2" fill="#1f77b4" fill-opacity="0.28"/>
<circle cx="232.2" cy="274.4" r="2.2" fill="#1f77b4" fill-opacity="0.28"/>
<circle cx="232.7" cy="273.8" r="2.2" fill="#1f77b4" fill-opacity="0.28"/>
<circle cx="232.7" cy="276" r="2.2" fill="#1f77b4" fill-opacity="0.28"/>
<circle cx="232.2" cy="278.3" r="2.2" fill="#1f77b4" fill-opacity="0.28"/>
<circle cx="235.6" cy="265.4" r="2.2" fill="#1f77b4" fill-opacity="0.28"/>
<circle cx="239.9" cy="272.1" r="2.2" fill="#1f77b4" fill-opacity="0.28"/>
<circle cx="242.6" cy="268.7" r="2.2" fill="#1f77b4" fill-opacity="0.28"/>
<circle cx="242.6" cy="257.1" r="2.2" fill="#1f77b4" fill-opacity="0.28"/>
<circle cx="256.5" cy="272.1" r="2.2" fill="#1f77b4" fill-opacity="0.28"/>
<circle cx="257.3" cy="281.4" r="2.2" fill="#1f77b4" fill-opacity="0.28"/>
<circle cx="257.4" cy="285.6" r="2.2" fill="#1f77b4" fill-opacity="0.28"/>
<circle cx="257.1" cy="289.4" r="2.2" fill="#1f77b4" fill-opacity="0.28"/>
<circle cx="263.8" cy="272.7" r="2.2" fill="#1f77b4" fill-opacity="0.28"/>
<circle cx="283.3" cy="278.9" r="2.2" fill="#1f77b4" fill-opacity="0.28"/>
<circle cx="293.5" cy="261.2" r="2.2" fill="#1f77b4" fill-opacity="0.28"/>
<circle cx="293.5" cy="265" r="2.2" fill="#1f77b4" fill-opacity="0.28"/>
<circle cx="227.7" cy="264.2" r="0.95" fill="#ff7f0e"/>
<circle cx="227.5" cy="271" r="0.95" fill="#ff7f0e"/>
<circle cx="232.2" cy="274.4" r="0.95" fill="#ff7f0e"/>
<circle cx="232.7" cy="273.8" r="0.95" fill="#ff7f0e"/>
<circle cx="232.7" cy="276" r="0.95" fill="#ff7f0e"/>
<circle cx="232.2" cy="278.3" r="0.95" fill="#ff7f0e"/>
<circle cx="235.6" cy="265.4" r="0.95" fill="#ff7f0e"/>
<circle cx="239.9" cy="272.1" r="0.95" fill="#ff7f0e"/>
<circle cx="242.6" cy="268.7" r="0.95" fill="#ff7f0e"/>
<circle cx="242.6" cy="257.1" r="0.95" fill="#ff7f0e"/>
<circle cx="256.5" cy="272.1" r="0.95" fill="#ff7f0e"/>
<circle cx="257.3" cy="281.4" r="0.95" fill="#ff7f0e"/>
<circle cx="257.4" cy="285.6" r="0.95" fill="#ff7f0e"/>
<circle cx="257.1" cy="289.4" r="0.95" fill="#ff7f0e"/>
<circle cx="263.8" cy="272.7" r="0.95" fill="#ff7f0e"/>
<circle cx="283.3" cy="278.9" r="0.95" fill="#ff7f0e"/>
<circle cx="293.5" cy="261.2" r="0.95" fill="#ff7f0e"/>
<circle cx="293.5" cy="265" r="0.95" fill="#ff7f0e"/>
</g>
<rect x="219.1" y="242.3" width="81.3" height="50.1" fill="none" stroke="#6a6a6a" stroke-width="0.8"/>
<line x1="222.8" y1="292.40000000000003" x2="222.8" y2="294.20000000000005" stroke="#6a6a6a" stroke-width="0.8"/>
<text x="222.8" y="298.8" font-size="5" text-anchor="middle" fill="#262626" class="t">0</text>
<line x1="238.3" y1="292.40000000000003" x2="238.3" y2="294.20000000000005" stroke="#6a6a6a" stroke-width="0.8"/>
<text x="238.3" y="298.8" font-size="5" text-anchor="middle" fill="#262626" class="t">50</text>
<line x1="253.7" y1="292.40000000000003" x2="253.7" y2="294.20000000000005" stroke="#6a6a6a" stroke-width="0.8"/>
<text x="253.7" y="298.8" font-size="5" text-anchor="middle" fill="#262626" class="t">100</text>
<line x1="269.2" y1="292.40000000000003" x2="269.2" y2="294.20000000000005" stroke="#6a6a6a" stroke-width="0.8"/>
<text x="269.2" y="298.8" font-size="5" text-anchor="middle" fill="#262626" class="t">150</text>
<line x1="284.6" y1="292.40000000000003" x2="284.6" y2="294.20000000000005" stroke="#6a6a6a" stroke-width="0.8"/>
<text x="284.6" y="298.8" font-size="5" text-anchor="middle" fill="#262626" class="t">200</text>
<line x1="300.1" y1="292.40000000000003" x2="300.1" y2="294.20000000000005" stroke="#6a6a6a" stroke-width="0.8"/>
<text x="300.1" y="298.8" font-size="5" text-anchor="middle" fill="#262626" class="t">250</text>
<line x1="217.29999999999998" y1="253.0" x2="219.1" y2="253.0" stroke="#6a6a6a" stroke-width="0.8"/>
<text x="216.79999999999998" y="254.8" font-size="5" text-anchor="end" fill="#262626" class="t">2</text>
<line x1="217.29999999999998" y1="272.7" x2="219.1" y2="272.7" stroke="#6a6a6a" stroke-width="0.8"/>
<text x="216.79999999999998" y="274.5" font-size="5" text-anchor="end" fill="#262626" class="t">0</text>
<defs><clipPath id="c03"><rect x="316.5" y="242.3" width="81.3" height="50.1"/></clipPath></defs>
<g clip-path="url(#c03)">
<polyline points="320.2,273.8 320.5,280.6 320.8,278.8 321.1,275.6 321.4,273.8 321.7,275.1 322.1,277.8 322.4,280.0 322.7,281.0 323.0,281.8 323.3,282.8 323.6,285.0 323.9,287.7 324.2,289.0 324.5,277.4 324.8,265.9 325.1,275.5 325.5,285.0 325.8,284.7 326.1,284.0 326.4,280.4 326.7,274.6 327.0,271.6 327.3,271.9 327.6,272.7 327.9,273.5 328.2,273.8 328.5,272.1 328.9,270.4 329.2,272.7 329.5,276.0 329.8,278.0 330.1,279.8 330.4,281.2 330.7,281.7 331.0,281.2 331.3,280.0 331.6,278.8 331.9,278.3 332.3,278.8 332.6,279.8 332.9,281.0 333.2,281.7 333.5,282.0 333.8,282.3 334.1,282.6 334.4,282.7 334.7,282.8 335.0,276.9 335.3,270.4 335.7,269.2 336.0,268.5 336.3,268.2 336.6,272.1 336.9,277.2 337.2,279.4 337.5,281.1 337.8,281.7 338.1,281.5 338.4,281.1 338.8,280.8 339.1,280.6 339.4,280.9 339.7,281.8 340.0,282.9 340.3,284.0 340.6,285.4 340.9,287.0 341.2,288.4 341.5,289.0 341.8,287.6 342.2,284.8 342.5,282.8 342.8,281.9 343.1,281.1 343.4,280.4 343.7,279.9 344.0,279.5 344.3,279.4 344.6,280.5 344.9,282.8 345.2,285.1 345.6,286.2 345.9,285.2 346.2,282.6 346.5,279.4 346.8,273.0 347.1,264.5 347.4,260.3 347.7,263.2 348.0,268.7 348.3,271.6 348.6,271.4 349.0,271.0 349.3,270.4 349.6,268.8 349.9,266.0 350.2,262.8 350.5,260.3 350.8,259.2 351.1,267.1 351.4,275.0 351.7,274.7 352.0,274.1 352.4,273.8 352.7,275.7 353.0,280.0 353.3,284.3 353.6,286.2 353.9,281.9 354.2,272.4 354.5,262.5 354.8,251.4 355.1,244.5 355.4,265.9 355.8,271.4 356.1,273.8 356.4,274.7 356.7,275.4 357.0,275.9 357.3,276.0 357.6,272.8 357.9,266.9 358.2,263.7 358.5,265.4 358.9,268.2 359.2,270.6 359.5,273.3 359.8,276.1 360.1,278.7 360.4,280.8 360.7,282.3 361.0,282.8 361.3,277.1 361.6,264.5 361.9,251.9 362.3,246.2 362.6,251.1 362.9,260.4 363.2,265.9 363.5,266.6 363.8,266.9 364.1,267.1 364.4,267.5 364.7,268.2 365.0,274.0 365.3,279.4 365.7,270.4 366.0,261.4 366.3,263.7 366.6,268.4 366.9,272.7 367.2,276.0 367.5,279.3 367.8,281.8 368.1,282.8 368.4,280.5 368.7,274.6 369.1,267.1 369.4,259.5 369.7,253.6 370.0,251.3 370.3,255.7 370.6,264.1 370.9,269.3 371.2,270.3 371.5,271.0 371.8,271.4 372.1,271.6 372.5,269.2 372.8,264.9 373.1,262.5 373.4,263.6 373.7,266.3 374.0,269.7 374.3,272.7 374.6,275.6 374.9,278.8 375.2,281.9 375.5,284.1 375.9,285.0 376.2,280.3 376.5,270.1 376.8,259.9 377.1,255.2 377.4,259.8 377.7,268.5 378.0,273.8 378.3,274.7 378.6,275.4 379.0,275.9 379.3,276.0 379.6,275.5 379.9,274.3 380.2,273.2 380.5,272.7 380.8,274.0 381.1,277.0 381.4,280.7 381.7,283.7 382.0,285.0 382.4,284.3 382.7,282.8 383.0,280.9 383.3,279.4 383.6,278.2 383.9,276.9 384.2,275.7 384.5,274.7 384.8,274.1 385.1,273.8 385.4,274.9 385.8,276.9 386.1,278.3 386.4,278.7 386.7,279.1 387.0,279.3 387.3,279.4 387.6,278.9 387.9,277.7 388.2,276.1 388.5,274.4 388.8,273.2 389.2,272.7 389.5,273.4 389.8,275.1 390.1,277.4 390.4,279.8 390.7,281.7 391.0,283.4 391.3,285.2 391.6,286.9 391.9,288.0 392.2,288.5 392.6,288.4 392.9,288.3 393.2,288.1 393.5,288.0 393.8,287.9 394.1,288.5" fill="none" stroke="#1f77b4" stroke-width="1.0" stroke-linejoin="round"/>
<circle cx="320.9" cy="270.4" r="2.2" fill="#1f77b4" fill-opacity="0.28"/>
<circle cx="321.1" cy="274" r="2.2" fill="#1f77b4" fill-opacity="0.28"/>
<circle cx="327" cy="278.1" r="2.2" fill="#1f77b4" fill-opacity="0.28"/>
<circle cx="327" cy="280.6" r="2.2" fill="#1f77b4" fill-opacity="0.28"/>
<circle cx="327.9" cy="271.6" r="2.2" fill="#1f77b4" fill-opacity="0.28"/>
<circle cx="327.9" cy="274.4" r="2.2" fill="#1f77b4" fill-opacity="0.28"/>
<circle cx="336.4" cy="277.4" r="2.2" fill="#1f77b4" fill-opacity="0.28"/>
<circle cx="340.3" cy="280" r="2.2" fill="#1f77b4" fill-opacity="0.28"/>
<circle cx="350.3" cy="270.7" r="2.2" fill="#1f77b4" fill-opacity="0.28"/>
<circle cx="350.6" cy="271" r="2.2" fill="#1f77b4" fill-opacity="0.28"/>
<circle cx="354.7" cy="247.9" r="2.2" fill="#1f77b4" fill-opacity="0.28"/>
<circle cx="354.7" cy="264.8" r="2.2" fill="#1f77b4" fill-opacity="0.28"/>
<circle cx="354.3" cy="276" r="2.2" fill="#1f77b4" fill-opacity="0.28"/>
<circle cx="356.2" cy="271.6" r="2.2" fill="#1f77b4" fill-opacity="0.28"/>
<circle cx="357" cy="275" r="2.2" fill="#1f77b4" fill-opacity="0.28"/>
<circle cx="358.1" cy="263.7" r="2.2" fill="#1f77b4" fill-opacity="0.28"/>
<circle cx="358.1" cy="266.5" r="2.2" fill="#1f77b4" fill-opacity="0.28"/>
<circle cx="361" cy="282.8" r="2.2" fill="#1f77b4" fill-opacity="0.28"/>
<circle cx="365.8" cy="262" r="2.2" fill="#1f77b4" fill-opacity="0.28"/>
<circle cx="366.3" cy="271" r="2.2" fill="#1f77b4" fill-opacity="0.28"/>
<circle cx="373.1" cy="263.1" r="2.2" fill="#1f77b4" fill-opacity="0.28"/>
<circle cx="373.1" cy="273.6" r="2.2" fill="#1f77b4" fill-opacity="0.28"/>
<circle cx="377.1" cy="257.5" r="2.2" fill="#1f77b4" fill-opacity="0.28"/>
<circle cx="377.1" cy="260.9" r="2.2" fill="#1f77b4" fill-opacity="0.28"/>
<circle cx="377.3" cy="265.4" r="2.2" fill="#1f77b4" fill-opacity="0.28"/>
<circle cx="376.5" cy="278.9" r="2.2" fill="#1f77b4" fill-opacity="0.28"/>
<circle cx="378.5" cy="275.5" r="2.2" fill="#1f77b4" fill-opacity="0.28"/>
<circle cx="382.1" cy="281.7" r="2.2" fill="#1f77b4" fill-opacity="0.28"/>
<circle cx="382.7" cy="284.5" r="2.2" fill="#1f77b4" fill-opacity="0.28"/>
<circle cx="320.9" cy="270.4" r="0.95" fill="#ff7f0e"/>
<circle cx="321.1" cy="274" r="0.95" fill="#ff7f0e"/>
<circle cx="327" cy="278.1" r="0.95" fill="#ff7f0e"/>
<circle cx="327" cy="280.6" r="0.95" fill="#ff7f0e"/>
<circle cx="327.9" cy="271.6" r="0.95" fill="#ff7f0e"/>
<circle cx="327.9" cy="274.4" r="0.95" fill="#ff7f0e"/>
<circle cx="336.4" cy="277.4" r="0.95" fill="#ff7f0e"/>
<circle cx="340.3" cy="280" r="0.95" fill="#ff7f0e"/>
<circle cx="350.3" cy="270.7" r="0.95" fill="#ff7f0e"/>
<circle cx="350.6" cy="271" r="0.95" fill="#ff7f0e"/>
<circle cx="354.7" cy="247.9" r="0.95" fill="#ff7f0e"/>
<circle cx="354.7" cy="264.8" r="0.95" fill="#ff7f0e"/>
<circle cx="354.3" cy="276" r="0.95" fill="#ff7f0e"/>
<circle cx="356.2" cy="271.6" r="0.95" fill="#ff7f0e"/>
<circle cx="357" cy="275" r="0.95" fill="#ff7f0e"/>
<circle cx="358.1" cy="263.7" r="0.95" fill="#ff7f0e"/>
<circle cx="358.1" cy="266.5" r="0.95" fill="#ff7f0e"/>
<circle cx="361" cy="282.8" r="0.95" fill="#ff7f0e"/>
<circle cx="365.8" cy="262" r="0.95" fill="#ff7f0e"/>
<circle cx="366.3" cy="271" r="0.95" fill="#ff7f0e"/>
<circle cx="373.1" cy="263.1" r="0.95" fill="#ff7f0e"/>
<circle cx="373.1" cy="273.6" r="0.95" fill="#ff7f0e"/>
<circle cx="377.1" cy="257.5" r="0.95" fill="#ff7f0e"/>
<circle cx="377.1" cy="260.9" r="0.95" fill="#ff7f0e"/>
<circle cx="377.3" cy="265.4" r="0.95" fill="#ff7f0e"/>
<circle cx="376.5" cy="278.9" r="0.95" fill="#ff7f0e"/>
<circle cx="378.5" cy="275.5" r="0.95" fill="#ff7f0e"/>
<circle cx="382.1" cy="281.7" r="0.95" fill="#ff7f0e"/>
<circle cx="382.7" cy="284.5" r="0.95" fill="#ff7f0e"/>
</g>
<rect x="316.5" y="242.3" width="81.3" height="50.1" fill="none" stroke="#6a6a6a" stroke-width="0.8"/>
<line x1="320.2" y1="292.40000000000003" x2="320.2" y2="294.20000000000005" stroke="#6a6a6a" stroke-width="0.8"/>
<text x="320.2" y="298.8" font-size="5" text-anchor="middle" fill="#262626" class="t">0</text>
<line x1="335.7" y1="292.40000000000003" x2="335.7" y2="294.20000000000005" stroke="#6a6a6a" stroke-width="0.8"/>
<text x="335.7" y="298.8" font-size="5" text-anchor="middle" fill="#262626" class="t">50</text>
<line x1="351.1" y1="292.40000000000003" x2="351.1" y2="294.20000000000005" stroke="#6a6a6a" stroke-width="0.8"/>
<text x="351.1" y="298.8" font-size="5" text-anchor="middle" fill="#262626" class="t">100</text>
<line x1="366.6" y1="292.40000000000003" x2="366.6" y2="294.20000000000005" stroke="#6a6a6a" stroke-width="0.8"/>
<text x="366.6" y="298.8" font-size="5" text-anchor="middle" fill="#262626" class="t">150</text>
<line x1="382.0" y1="292.40000000000003" x2="382.0" y2="294.20000000000005" stroke="#6a6a6a" stroke-width="0.8"/>
<text x="382.0" y="298.8" font-size="5" text-anchor="middle" fill="#262626" class="t">200</text>
<line x1="397.5" y1="292.40000000000003" x2="397.5" y2="294.20000000000005" stroke="#6a6a6a" stroke-width="0.8"/>
<text x="397.5" y="298.8" font-size="5" text-anchor="middle" fill="#262626" class="t">250</text>
<line x1="314.7" y1="247.0" x2="316.5" y2="247.0" stroke="#6a6a6a" stroke-width="0.8"/>
<text x="314.2" y="248.8" font-size="5" text-anchor="end" fill="#262626" class="t">4</text>
<line x1="314.7" y1="263.1" x2="316.5" y2="263.1" stroke="#6a6a6a" stroke-width="0.8"/>
<text x="314.2" y="264.9" font-size="5" text-anchor="end" fill="#262626" class="t">2</text>
<line x1="314.7" y1="279.5" x2="316.5" y2="279.5" stroke="#6a6a6a" stroke-width="0.8"/>
<text x="314.2" y="281.3" font-size="5" text-anchor="end" fill="#262626" class="t">0</text>
<defs><clipPath id="c04"><rect x="414.2" y="242.3" width="81.3" height="50.1"/></clipPath></defs>
<g clip-path="url(#c04)">
<polyline points="417.9,278.3 418.2,274.5 418.5,272.7 418.8,272.8 419.1,273.2 419.4,273.8 419.8,275.5 420.1,278.1 420.4,279.4 420.7,278.8 421.0,277.8 421.3,277.2 421.6,279.5 421.9,283.9 422.2,286.2 422.5,277.4 422.8,268.7 423.2,276.9 423.5,285.0 423.8,282.2 424.1,278.3 424.4,276.3 424.7,274.5 425.0,273.2 425.3,272.7 425.6,272.7 425.9,272.7 426.2,272.7 426.6,272.7 426.9,272.7 427.2,274.4 427.5,276.0 427.8,275.6 428.1,274.7 428.4,273.7 428.7,273.3 429.0,273.4 429.3,273.8 429.6,274.4 430.0,275.0 430.3,276.2 430.6,277.9 430.9,279.4 431.2,280.5 431.5,281.6 431.8,282.5 432.1,282.8 432.4,281.6 432.7,278.6 433.0,275.2 433.4,272.2 433.7,271.0 434.0,272.1 434.3,274.0 434.6,276.1 434.9,278.7 435.2,280.8 435.5,281.7 435.8,281.5 436.1,281.1 436.5,280.8 436.8,280.6 437.1,280.9 437.4,281.7 437.7,282.8 438.0,284.0 438.3,285.0 438.6,286.0 438.9,287.2 439.2,288.1 439.5,288.5 439.9,287.8 440.2,286.2 440.5,284.3 440.8,282.8 441.1,281.6 441.4,280.4 441.7,279.3 442.0,278.6 442.3,278.3 442.6,279.2 442.9,280.8 443.3,281.7 443.6,279.9 443.9,275.5 444.2,270.4 444.5,266.0 444.8,264.2 445.1,264.8 445.4,266.3 445.7,268.3 446.0,270.2 446.3,271.6 446.7,272.6 447.0,273.4 447.3,273.8 447.6,272.0 447.9,267.9 448.2,263.8 448.5,262.0 448.8,265.1 449.1,271.3 449.4,276.0 449.7,278.5 450.1,280.7 450.4,282.7 450.7,284.2 451.0,285.2 451.3,285.6 451.6,282.6 451.9,275.3 452.2,266.6 452.5,259.3 452.8,256.3 453.1,260.3 453.5,268.0 453.8,272.7 454.1,273.7 454.4,274.4 454.7,274.8 455.0,275.0 455.3,273.3 455.6,269.2 455.9,264.4 456.2,260.3 456.6,258.6 456.9,262.0 457.2,268.8 457.5,273.8 457.8,276.1 458.1,278.1 458.4,279.5 458.7,280.0 459.0,276.3 459.3,267.5 459.6,257.0 460.0,248.2 460.3,244.5 460.6,249.2 460.9,258.7 461.2,265.9 461.5,269.6 461.8,272.9 462.1,275.1 462.4,276.0 462.7,273.2 463.0,267.0 463.4,260.8 463.7,258.0 464.0,260.6 464.3,266.7 464.6,273.5 464.9,278.3 465.2,281.2 465.5,283.5 465.8,284.5 466.1,281.8 466.4,275.4 466.8,267.7 467.1,261.3 467.4,258.6 467.7,260.5 468.0,264.3 468.3,267.0 468.6,268.1 468.9,269.0 469.2,269.8 469.5,270.2 469.8,270.4 470.2,268.8 470.5,265.3 470.8,261.9 471.1,260.3 471.4,261.3 471.7,263.8 472.0,267.1 472.3,270.4 472.6,274.7 472.9,279.4 473.2,281.7 473.6,279.2 473.9,273.2 474.2,266.0 474.5,260.0 474.8,257.5 475.1,260.4 475.4,266.8 475.7,273.1 476.0,276.0 476.3,274.9 476.7,272.4 477.0,269.5 477.3,267.0 477.6,265.9 477.9,266.8 478.2,269.0 478.5,271.6 478.8,273.8 479.1,275.7 479.4,277.9 479.7,279.8 480.1,281.2 480.4,281.7 480.7,281.0 481.0,279.1 481.3,276.8 481.6,274.5 481.9,272.7 482.2,271.4 482.5,270.1 482.8,269.1 483.1,268.7 483.5,271.0 483.8,275.4 484.1,278.3 484.4,279.2 484.7,280.0 485.0,280.4 485.3,280.6 485.6,279.5 485.9,277.0 486.2,274.0 486.5,271.5 486.9,270.4 487.2,272.3 487.5,276.5 487.8,281.1 488.1,284.0 488.4,285.4 488.7,286.6 489.0,287.6 489.3,288.3 489.6,288.5 489.9,288.4 490.3,288.2 490.6,288.0 490.9,287.9 491.2,288.0 491.5,288.2 491.8,288.5" fill="none" stroke="#1f77b4" stroke-width="1.0" stroke-linejoin="round"/>
<circle cx="419.7" cy="278.9" r="2.2" fill="#1f77b4" fill-opacity="0.28"/>
<circle cx="424.6" cy="277.5" r="2.2" fill="#1f77b4" fill-opacity="0.28"/>
<circle cx="424.6" cy="280" r="2.2" fill="#1f77b4" fill-opacity="0.28"/>
<circle cx="425.9" cy="273.5" r="2.2" fill="#1f77b4" fill-opacity="0.28"/>
<circle cx="425.9" cy="275.8" r="2.2" fill="#1f77b4" fill-opacity="0.28"/>
<circle cx="433.6" cy="273.8" r="2.2" fill="#1f77b4" fill-opacity="0.28"/>
<circle cx="433.8" cy="276.6" r="2.2" fill="#1f77b4" fill-opacity="0.28"/>
<circle cx="436.1" cy="279.4" r="2.2" fill="#1f77b4" fill-opacity="0.28"/>
<circle cx="437.2" cy="281.1" r="2.2" fill="#1f77b4" fill-opacity="0.28"/>
<circle cx="436.1" cy="284" r="2.2" fill="#1f77b4" fill-opacity="0.28"/>
<circle cx="437.2" cy="285" r="2.2" fill="#1f77b4" fill-opacity="0.28"/>
<circle cx="446" cy="270.2" r="2.2" fill="#1f77b4" fill-opacity="0.28"/>
<circle cx="446" cy="273.3" r="2.2" fill="#1f77b4" fill-opacity="0.28"/>
<circle cx="446.2" cy="277.2" r="2.2" fill="#1f77b4" fill-opacity="0.28"/>
<circle cx="459.3" cy="275.2" r="2.2" fill="#1f77b4" fill-opacity="0.28"/>
<circle cx="463.8" cy="264.8" r="2.2" fill="#1f77b4" fill-opacity="0.28"/>
<circle cx="467.2" cy="266.2" r="2.2" fill="#1f77b4" fill-opacity="0.28"/>
<circle cx="468.1" cy="259.2" r="2.2" fill="#1f77b4" fill-opacity="0.28"/>
<circle cx="471.3" cy="263" r="2.2" fill="#1f77b4" fill-opacity="0.28"/>
<circle cx="471.5" cy="272.5" r="2.2" fill="#1f77b4" fill-opacity="0.28"/>
<circle cx="474.5" cy="261.4" r="2.2" fill="#1f77b4" fill-opacity="0.28"/>
<circle cx="474.2" cy="275.9" r="2.2" fill="#1f77b4" fill-opacity="0.28"/>
<circle cx="473.9" cy="279.2" r="2.2" fill="#1f77b4" fill-opacity="0.28"/>
<circle cx="481.7" cy="277" r="2.2" fill="#1f77b4" fill-opacity="0.28"/>
<circle cx="482.4" cy="272.9" r="2.2" fill="#1f77b4" fill-opacity="0.28"/>
<circle cx="482.7" cy="269.3" r="2.2" fill="#1f77b4" fill-opacity="0.28"/>
<circle cx="419.7" cy="278.9" r="0.95" fill="#ff7f0e"/>
<circle cx="424.6" cy="277.5" r="0.95" fill="#ff7f0e"/>
<circle cx="424.6" cy="280" r="0.95" fill="#ff7f0e"/>
<circle cx="425.9" cy="273.5" r="0.95" fill="#ff7f0e"/>
<circle cx="425.9" cy="275.8" r="0.95" fill="#ff7f0e"/>
<circle cx="433.6" cy="273.8" r="0.95" fill="#ff7f0e"/>
<circle cx="433.8" cy="276.6" r="0.95" fill="#ff7f0e"/>
<circle cx="436.1" cy="279.4" r="0.95" fill="#ff7f0e"/>
<circle cx="437.2" cy="281.1" r="0.95" fill="#ff7f0e"/>
<circle cx="436.1" cy="284" r="0.95" fill="#ff7f0e"/>
<circle cx="437.2" cy="285" r="0.95" fill="#ff7f0e"/>
<circle cx="446" cy="270.2" r="0.95" fill="#ff7f0e"/>
<circle cx="446" cy="273.3" r="0.95" fill="#ff7f0e"/>
<circle cx="446.2" cy="277.2" r="0.95" fill="#ff7f0e"/>
<circle cx="459.3" cy="275.2" r="0.95" fill="#ff7f0e"/>
<circle cx="463.8" cy="264.8" r="0.95" fill="#ff7f0e"/>
<circle cx="467.2" cy="266.2" r="0.95" fill="#ff7f0e"/>
<circle cx="468.1" cy="259.2" r="0.95" fill="#ff7f0e"/>
<circle cx="471.3" cy="263" r="0.95" fill="#ff7f0e"/>
<circle cx="471.5" cy="272.5" r="0.95" fill="#ff7f0e"/>
<circle cx="474.5" cy="261.4" r="0.95" fill="#ff7f0e"/>
<circle cx="474.2" cy="275.9" r="0.95" fill="#ff7f0e"/>
<circle cx="473.9" cy="279.2" r="0.95" fill="#ff7f0e"/>
<circle cx="481.7" cy="277" r="0.95" fill="#ff7f0e"/>
<circle cx="482.4" cy="272.9" r="0.95" fill="#ff7f0e"/>
<circle cx="482.7" cy="269.3" r="0.95" fill="#ff7f0e"/>
</g>
<rect x="414.2" y="242.3" width="81.3" height="50.1" fill="none" stroke="#6a6a6a" stroke-width="0.8"/>
<line x1="417.9" y1="292.40000000000003" x2="417.9" y2="294.20000000000005" stroke="#6a6a6a" stroke-width="0.8"/>
<text x="417.9" y="298.8" font-size="5" text-anchor="middle" fill="#262626" class="t">0</text>
<line x1="433.4" y1="292.40000000000003" x2="433.4" y2="294.20000000000005" stroke="#6a6a6a" stroke-width="0.8"/>
<text x="433.4" y="298.8" font-size="5" text-anchor="middle" fill="#262626" class="t">50</text>
<line x1="448.8" y1="292.40000000000003" x2="448.8" y2="294.20000000000005" stroke="#6a6a6a" stroke-width="0.8"/>
<text x="448.8" y="298.8" font-size="5" text-anchor="middle" fill="#262626" class="t">100</text>
<line x1="464.3" y1="292.40000000000003" x2="464.3" y2="294.20000000000005" stroke="#6a6a6a" stroke-width="0.8"/>
<text x="464.3" y="298.8" font-size="5" text-anchor="middle" fill="#262626" class="t">150</text>
<line x1="479.7" y1="292.40000000000003" x2="479.7" y2="294.20000000000005" stroke="#6a6a6a" stroke-width="0.8"/>
<text x="479.7" y="298.8" font-size="5" text-anchor="middle" fill="#262626" class="t">200</text>
<line x1="495.2" y1="292.40000000000003" x2="495.2" y2="294.20000000000005" stroke="#6a6a6a" stroke-width="0.8"/>
<text x="495.2" y="298.8" font-size="5" text-anchor="middle" fill="#262626" class="t">250</text>
<line x1="412.4" y1="257.5" x2="414.2" y2="257.5" stroke="#6a6a6a" stroke-width="0.8"/>
<text x="411.9" y="259.3" font-size="5" text-anchor="end" fill="#262626" class="t">2</text>
<line x1="412.4" y1="275.2" x2="414.2" y2="275.2" stroke="#6a6a6a" stroke-width="0.8"/>
<text x="411.9" y="277.0" font-size="5" text-anchor="end" fill="#262626" class="t">0</text>
<defs><clipPath id="c10"><rect x="23.5" y="302.3" width="81.3" height="50.1"/></clipPath></defs>
<g clip-path="url(#c10)">
<polyline points="27.2,324.2 27.5,326.5 27.8,329.8 28.1,333.8 28.4,339.7 28.7,345.1 29.1,348.2 29.4,349.6 29.7,346.6 30.0,340.0 30.3,333.4 30.6,330.4 30.9,332.7 31.2,338.0 31.5,343.7 31.8,347.3 32.1,348.5 32.5,346.3 32.8,341.6 33.1,337.2 33.4,333.4 33.7,331.0 34.0,330.7 34.3,330.5 34.6,330.4 34.9,333.9 35.2,340.7 35.5,345.1 35.9,346.2 36.2,347.0 36.5,347.3 36.8,337.8 37.1,320.2 37.4,310.7 37.7,314.1 38.0,320.9 38.3,325.9 38.6,328.1 38.9,329.7 39.3,330.4 39.6,329.5 39.9,327.2 40.2,324.6 40.5,322.3 40.8,321.4 41.1,323.7 41.4,328.4 41.7,332.7 42.0,335.7 42.3,338.5 42.7,340.9 43.0,342.8 43.3,344.4 43.6,345.7 43.9,346.2 44.2,326.2 44.5,306.2 44.8,308.5 45.1,313.6 45.4,319.2 45.8,322.5 46.1,323.8 46.4,324.9 46.7,325.6 47.0,325.9 47.3,321.8 47.6,314.2 47.9,310.1 48.2,311.6 48.5,315.3 48.8,320.1 49.2,324.8 49.5,330.1 49.8,336.2 50.1,341.8 50.4,345.1 50.7,346.6 51.0,347.3 51.3,345.4 51.6,340.7 51.9,334.8 52.2,329.3 52.6,325.9 52.9,324.4 53.2,323.3 53.5,322.0 53.8,319.7 54.1,316.4 54.4,312.8 54.7,309.6 55.0,307.1 55.3,306.2 55.6,311.2 56.0,320.5 56.3,325.9 56.6,326.3 56.9,326.5 57.2,326.6 57.5,327.0 57.8,328.8 58.1,331.6 58.4,333.0 58.7,330.3 59.0,324.4 59.4,318.5 59.7,315.8 60.0,317.3 60.3,320.8 60.6,324.6 60.9,327.0 61.2,328.1 61.5,329.1 61.8,329.8 62.1,330.0 62.4,326.2 62.8,319.0 63.1,315.2 63.4,315.9 63.7,317.8 64.0,320.1 64.3,322.5 64.6,324.8 64.9,327.3 65.2,330.4 65.5,335.7 65.9,342.1 66.2,345.1 66.5,334.7 66.8,315.5 67.1,305.1 67.4,309.0 67.7,316.7 68.0,322.5 68.3,324.9 68.6,326.6 68.9,328.2 69.3,330.0 69.6,331.8 69.9,333.2 70.2,333.8 70.5,333.6 70.8,333.2 71.1,332.9 71.4,332.7 71.7,333.2 72.0,334.5 72.3,336.0 72.7,338.6 73.0,342.4 73.3,345.8 73.6,347.3 73.9,342.0 74.2,332.3 74.5,327.0 74.8,327.5 75.1,328.8 75.4,330.7 75.7,332.7 76.1,336.2 76.4,340.6 76.7,342.8 77.0,342.5 77.3,341.7 77.6,340.6 77.9,339.4 78.2,337.5 78.5,334.5 78.8,331.2 79.1,328.0 79.5,325.7 79.8,324.8 80.1,332.1 80.4,339.4 80.7,339.2 81.0,338.6 81.3,338.0 81.6,337.4 81.9,337.2 82.2,338.0 82.5,340.1 82.9,342.9 83.2,345.6 83.5,347.7 83.8,348.5 84.1,348.2 84.4,347.4 84.7,346.3 85.0,345.1 85.3,343.4 85.6,340.8 86.0,338.0 86.3,335.4 86.6,333.5 86.9,332.7 87.2,334.5 87.5,338.6 87.8,343.7 88.1,347.8 88.4,349.6 88.7,340.8 89.0,324.6 89.4,315.8 89.7,318.4 90.0,324.2 90.3,330.1 90.6,332.7 90.9,331.5 91.2,328.6 91.5,324.8 91.8,321.0 92.1,318.1 92.4,316.9 92.8,319.0 93.1,323.9 93.4,329.5 93.7,333.8 94.0,336.9 94.3,340.0 94.6,342.8 94.9,345.1 95.2,346.7 95.5,347.3 95.8,337.2 96.2,318.6 96.5,308.5 96.8,310.1 97.1,314.0 97.4,318.7 97.7,322.5 98.0,325.8 98.3,329.1 98.6,331.7 98.9,332.7 99.2,329.3 99.6,323.1 99.9,319.7 100.2,320.4 100.5,322.7 100.8,327.1 101.1,333.8" fill="none" stroke="#1f77b4" stroke-width="1.0" stroke-linejoin="round"/>
<circle cx="30.5" cy="335" r="2.2" fill="#1f77b4" fill-opacity="0.28"/>
<circle cx="30" cy="340.8" r="2.2" fill="#1f77b4" fill-opacity="0.28"/>
<circle cx="34.8" cy="336" r="2.2" fill="#1f77b4" fill-opacity="0.28"/>
<circle cx="35" cy="338.9" r="2.2" fill="#1f77b4" fill-opacity="0.28"/>
<circle cx="35.3" cy="344.5" r="2.2" fill="#1f77b4" fill-opacity="0.28"/>
<circle cx="35.9" cy="346.8" r="2.2" fill="#1f77b4" fill-opacity="0.28"/>
<circle cx="40.1" cy="327" r="2.2" fill="#1f77b4" fill-opacity="0.28"/>
<circle cx="48" cy="313.5" r="2.2" fill="#1f77b4" fill-opacity="0.28"/>
<circle cx="48" cy="315.5" r="2.2" fill="#1f77b4" fill-opacity="0.28"/>
<circle cx="50.1" cy="340" r="2.2" fill="#1f77b4" fill-opacity="0.28"/>
<circle cx="50.6" cy="343.5" r="2.2" fill="#1f77b4" fill-opacity="0.28"/>
<circle cx="52.3" cy="326" r="2.2" fill="#1f77b4" fill-opacity="0.28"/>
<circle cx="52.6" cy="323" r="2.2" fill="#1f77b4" fill-opacity="0.28"/>
<circle cx="59.8" cy="316.3" r="2.2" fill="#1f77b4" fill-opacity="0.28"/>
<circle cx="59.8" cy="323.1" r="2.2" fill="#1f77b4" fill-opacity="0.28"/>
<circle cx="67" cy="307.3" r="2.2" fill="#1f77b4" fill-opacity="0.28"/>
<circle cx="67" cy="320.3" r="2.2" fill="#1f77b4" fill-opacity="0.28"/>
<circle cx="67.9" cy="323.7" r="2.2" fill="#1f77b4" fill-opacity="0.28"/>
<circle cx="68.3" cy="328" r="2.2" fill="#1f77b4" fill-opacity="0.28"/>
<circle cx="68.1" cy="330.4" r="2.2" fill="#1f77b4" fill-opacity="0.28"/>
<circle cx="66.5" cy="340" r="2.2" fill="#1f77b4" fill-opacity="0.28"/>
<circle cx="66.2" cy="345.6" r="2.2" fill="#1f77b4" fill-opacity="0.28"/>
<circle cx="73.5" cy="345.1" r="2.2" fill="#1f77b4" fill-opacity="0.28"/>
<circle cx="79.7" cy="325.9" r="2.2" fill="#1f77b4" fill-opacity="0.28"/>
<circle cx="80" cy="336" r="2.2" fill="#1f77b4" fill-opacity="0.28"/>
<circle cx="80.3" cy="338.9" r="2.2" fill="#1f77b4" fill-opacity="0.28"/>
<circle cx="80.8" cy="342.8" r="2.2" fill="#1f77b4" fill-opacity="0.28"/>
<circle cx="83.1" cy="338.5" r="2.2" fill="#1f77b4" fill-opacity="0.28"/>
<circle cx="83.1" cy="340.6" r="2.2" fill="#1f77b4" fill-opacity="0.28"/>
<circle cx="30.5" cy="335" r="0.95" fill="#ff7f0e"/>
<circle cx="30" cy="340.8" r="0.95" fill="#ff7f0e"/>
<circle cx="34.8" cy="336" r="0.95" fill="#ff7f0e"/>
<circle cx="35" cy="338.9" r="0.95" fill="#ff7f0e"/>
<circle cx="35.3" cy="344.5" r="0.95" fill="#ff7f0e"/>
<circle cx="35.9" cy="346.8" r="0.95" fill="#ff7f0e"/>
<circle cx="40.1" cy="327" r="0.95" fill="#ff7f0e"/>
<circle cx="48" cy="313.5" r="0.95" fill="#ff7f0e"/>
<circle cx="48" cy="315.5" r="0.95" fill="#ff7f0e"/>
<circle cx="50.1" cy="340" r="0.95" fill="#ff7f0e"/>
<circle cx="50.6" cy="343.5" r="0.95" fill="#ff7f0e"/>
<circle cx="52.3" cy="326" r="0.95" fill="#ff7f0e"/>
<circle cx="52.6" cy="323" r="0.95" fill="#ff7f0e"/>
<circle cx="59.8" cy="316.3" r="0.95" fill="#ff7f0e"/>
<circle cx="59.8" cy="323.1" r="0.95" fill="#ff7f0e"/>
<circle cx="67" cy="307.3" r="0.95" fill="#ff7f0e"/>
<circle cx="67" cy="320.3" r="0.95" fill="#ff7f0e"/>
<circle cx="67.9" cy="323.7" r="0.95" fill="#ff7f0e"/>
<circle cx="68.3" cy="328" r="0.95" fill="#ff7f0e"/>
<circle cx="68.1" cy="330.4" r="0.95" fill="#ff7f0e"/>
<circle cx="66.5" cy="340" r="0.95" fill="#ff7f0e"/>
<circle cx="66.2" cy="345.6" r="0.95" fill="#ff7f0e"/>
<circle cx="73.5" cy="345.1" r="0.95" fill="#ff7f0e"/>
<circle cx="79.7" cy="325.9" r="0.95" fill="#ff7f0e"/>
<circle cx="80" cy="336" r="0.95" fill="#ff7f0e"/>
<circle cx="80.3" cy="338.9" r="0.95" fill="#ff7f0e"/>
<circle cx="80.8" cy="342.8" r="0.95" fill="#ff7f0e"/>
<circle cx="83.1" cy="338.5" r="0.95" fill="#ff7f0e"/>
<circle cx="83.1" cy="340.6" r="0.95" fill="#ff7f0e"/>
</g>
<rect x="23.5" y="302.3" width="81.3" height="50.1" fill="none" stroke="#6a6a6a" stroke-width="0.8"/>
<line x1="27.2" y1="352.40000000000003" x2="27.2" y2="354.20000000000005" stroke="#6a6a6a" stroke-width="0.8"/>
<text x="27.2" y="358.8" font-size="5" text-anchor="middle" fill="#262626" class="t">0</text>
<line x1="42.7" y1="352.40000000000003" x2="42.7" y2="354.20000000000005" stroke="#6a6a6a" stroke-width="0.8"/>
<text x="42.7" y="358.8" font-size="5" text-anchor="middle" fill="#262626" class="t">50</text>
<line x1="58.1" y1="352.40000000000003" x2="58.1" y2="354.20000000000005" stroke="#6a6a6a" stroke-width="0.8"/>
<text x="58.1" y="358.8" font-size="5" text-anchor="middle" fill="#262626" class="t">100</text>
<line x1="73.6" y1="352.40000000000003" x2="73.6" y2="354.20000000000005" stroke="#6a6a6a" stroke-width="0.8"/>
<text x="73.6" y="358.8" font-size="5" text-anchor="middle" fill="#262626" class="t">150</text>
<line x1="89.0" y1="352.40000000000003" x2="89.0" y2="354.20000000000005" stroke="#6a6a6a" stroke-width="0.8"/>
<text x="89.0" y="358.8" font-size="5" text-anchor="middle" fill="#262626" class="t">200</text>
<line x1="104.5" y1="352.40000000000003" x2="104.5" y2="354.20000000000005" stroke="#6a6a6a" stroke-width="0.8"/>
<text x="104.5" y="358.8" font-size="5" text-anchor="middle" fill="#262626" class="t">250</text>
<line x1="21.7" y1="307.0" x2="23.5" y2="307.0" stroke="#6a6a6a" stroke-width="0.8"/>
<text x="21.2" y="308.8" font-size="5" text-anchor="end" fill="#262626" class="t">2</text>
<line x1="21.7" y1="319.4" x2="23.5" y2="319.4" stroke="#6a6a6a" stroke-width="0.8"/>
<text x="21.2" y="321.2" font-size="5" text-anchor="end" fill="#262626" class="t">1</text>
<line x1="21.7" y1="332.1" x2="23.5" y2="332.1" stroke="#6a6a6a" stroke-width="0.8"/>
<text x="21.2" y="333.9" font-size="5" text-anchor="end" fill="#262626" class="t">0</text>
<line x1="21.7" y1="344.5" x2="23.5" y2="344.5" stroke="#6a6a6a" stroke-width="0.8"/>
<text x="21.2" y="346.3" font-size="5" text-anchor="end" fill="#262626" class="t">−1</text>
<defs><clipPath id="c11"><rect x="121.4" y="302.3" width="81.3" height="50.1"/></clipPath></defs>
<g clip-path="url(#c11)">
<polyline points="125.1,326.5 125.4,333.8 125.7,336.9 126.0,339.4 126.3,343.1 126.6,346.8 127.0,348.5 127.3,346.0 127.6,340.6 127.9,335.2 128.2,332.7 128.5,336.2 128.8,342.7 129.1,346.2 129.4,345.5 129.7,343.6 130.0,341.4 130.4,339.4 130.7,337.8 131.0,336.0 131.3,333.4 131.6,330.6 131.9,329.3 132.2,330.4 132.5,333.0 132.8,336.0 133.1,340.5 133.4,345.9 133.8,348.5 134.1,336.2 134.4,319.2 134.7,310.1 135.0,305.6 135.3,308.3 135.6,314.3 135.9,320.3 136.2,326.6 136.5,330.4 136.8,330.3 137.2,329.9 137.5,329.3 137.8,327.6 138.1,324.5 138.4,321.6 138.7,320.3 139.0,321.8 139.3,325.4 139.6,329.8 139.9,333.8 140.2,337.8 140.6,342.2 140.9,345.8 141.2,347.3 141.5,342.8 141.8,332.2 142.1,319.6 142.4,309.0 142.7,304.5 143.0,310.0 143.3,320.3 143.7,325.9 144.0,326.0 144.3,326.0 144.6,326.9 144.9,328.5 145.2,329.3 145.5,326.8 145.8,321.4 146.1,316.0 146.4,313.5 146.7,317.8 147.1,326.7 147.4,333.8 147.7,338.0 148.0,342.0 148.3,345.4 148.6,347.6 148.9,348.5 149.2,346.2 149.5,340.5 149.8,333.4 150.1,326.8 150.5,322.5 150.8,320.1 151.1,318.0 151.4,316.2 151.7,315.0 152.0,314.6 152.3,317.2 152.6,323.0 152.9,328.9 153.2,331.5 153.5,328.8 153.9,326.0 154.2,326.7 154.5,328.5 154.8,331.0 155.1,333.8 155.4,338.5 155.7,344.4 156.0,347.3 156.3,342.5 156.6,331.8 156.9,321.1 157.3,316.3 157.6,317.8 157.9,321.2 158.2,324.8 158.5,327.0 158.8,327.9 159.1,328.6 159.4,329.1 159.7,329.3 160.0,325.8 160.3,319.3 160.7,315.8 161.0,317.5 161.3,321.5 161.6,326.3 161.9,330.4 162.2,333.9 162.5,337.6 162.8,341.3 163.1,344.3 163.4,346.5 163.8,347.3 164.1,337.2 164.4,318.6 164.7,308.5 165.0,311.8 165.3,319.2 165.6,326.7 165.9,330.4 166.2,330.9 166.5,331.2 166.8,331.4 167.2,331.5 167.5,329.2 167.8,324.8 168.1,322.5 168.4,323.3 168.7,325.2 169.0,327.8 169.3,330.4 169.6,333.7 169.9,338.1 170.2,342.5 170.6,345.9 170.9,347.3 171.2,344.3 171.5,337.8 171.8,331.2 172.1,328.2 172.4,328.7 172.7,329.8 173.0,331.3 173.3,332.7 173.6,334.4 174.0,336.3 174.3,337.2 174.6,337.1 174.9,336.9 175.2,336.6 175.5,336.1 175.8,335.6 176.1,335.0 176.4,333.4 176.7,331.1 177.0,329.9 177.4,331.2 177.7,334.1 178.0,337.3 178.3,339.4 178.6,340.3 178.9,341.1 179.2,341.7 179.5,342.2 179.8,342.8 180.1,343.5 180.4,344.3 180.8,344.9 181.1,345.1 181.4,344.4 181.7,342.9 182.0,341.0 182.3,339.4 182.6,338.0 182.9,336.6 183.2,335.5 183.5,335.0 183.9,336.2 184.2,339.0 184.5,342.5 184.8,345.6 185.1,347.3 185.4,347.9 185.7,348.3 186.0,348.5 186.3,342.6 186.6,329.6 186.9,316.6 187.3,310.7 187.6,313.2 187.9,318.8 188.2,324.8 188.5,328.2 188.8,329.3 189.1,330.1 189.4,330.4 189.7,327.9 190.0,322.5 190.3,317.1 190.7,314.6 191.0,316.5 191.3,321.1 191.6,326.7 191.9,331.5 192.2,335.8 192.5,340.4 192.8,344.7 193.1,347.8 193.4,349.0 193.7,342.5 194.1,328.2 194.4,313.8 194.7,307.3 195.0,312.7 195.3,322.8 195.6,328.2 195.9,327.7 196.2,326.3 196.5,324.5 196.8,322.5 197.1,319.3 197.5,315.4 197.8,313.5 198.1,317.6 198.4,327.0" fill="none" stroke="#1f77b4" stroke-width="1.0" stroke-linejoin="round"/>
<circle cx="124.9" cy="327" r="2.2" fill="#1f77b4" fill-opacity="0.28"/>
<circle cx="130.2" cy="338" r="2.2" fill="#1f77b4" fill-opacity="0.28"/>
<circle cx="130.8" cy="335.5" r="2.2" fill="#1f77b4" fill-opacity="0.28"/>
<circle cx="134.7" cy="342.8" r="2.2" fill="#1f77b4" fill-opacity="0.28"/>
<circle cx="135.1" cy="307" r="2.2" fill="#1f77b4" fill-opacity="0.28"/>
<circle cx="135.5" cy="316.3" r="2.2" fill="#1f77b4" fill-opacity="0.28"/>
<circle cx="134.7" cy="319.7" r="2.2" fill="#1f77b4" fill-opacity="0.28"/>
<circle cx="135.8" cy="325" r="2.2" fill="#1f77b4" fill-opacity="0.28"/>
<circle cx="138" cy="325" r="2.2" fill="#1f77b4" fill-opacity="0.28"/>
<circle cx="136.5" cy="330" r="2.2" fill="#1f77b4" fill-opacity="0.28"/>
<circle cx="137.1" cy="331.5" r="2.2" fill="#1f77b4" fill-opacity="0.28"/>
<circle cx="150.5" cy="323.1" r="2.2" fill="#1f77b4" fill-opacity="0.28"/>
<circle cx="151" cy="328.7" r="2.2" fill="#1f77b4" fill-opacity="0.28"/>
<circle cx="152" cy="329.6" r="2.2" fill="#1f77b4" fill-opacity="0.28"/>
<circle cx="152.2" cy="333.2" r="2.2" fill="#1f77b4" fill-opacity="0.28"/>
<circle cx="161" cy="316.3" r="2.2" fill="#1f77b4" fill-opacity="0.28"/>
<circle cx="161.2" cy="324.2" r="2.2" fill="#1f77b4" fill-opacity="0.28"/>
<circle cx="161.9" cy="326.5" r="2.2" fill="#1f77b4" fill-opacity="0.28"/>
<circle cx="161.7" cy="329.9" r="2.2" fill="#1f77b4" fill-opacity="0.28"/>
<circle cx="161.3" cy="333.2" r="2.2" fill="#1f77b4" fill-opacity="0.28"/>
<circle cx="164.7" cy="309" r="2.2" fill="#1f77b4" fill-opacity="0.28"/>
<circle cx="172" cy="327" r="2.2" fill="#1f77b4" fill-opacity="0.28"/>
<circle cx="172.1" cy="332.1" r="2.2" fill="#1f77b4" fill-opacity="0.28"/>
<circle cx="172.9" cy="333.8" r="2.2" fill="#1f77b4" fill-opacity="0.28"/>
<circle cx="174.1" cy="336.3" r="2.2" fill="#1f77b4" fill-opacity="0.28"/>
<circle cx="175.4" cy="336" r="2.2" fill="#1f77b4" fill-opacity="0.28"/>
<circle cx="174.3" cy="339" r="2.2" fill="#1f77b4" fill-opacity="0.28"/>
<circle cx="170.9" cy="347.3" r="2.2" fill="#1f77b4" fill-opacity="0.28"/>
<circle cx="183.9" cy="333.8" r="2.2" fill="#1f77b4" fill-opacity="0.28"/>
<circle cx="184.4" cy="335.2" r="2.2" fill="#1f77b4" fill-opacity="0.28"/>
<circle cx="183.9" cy="337.8" r="2.2" fill="#1f77b4" fill-opacity="0.28"/>
<circle cx="185" cy="345.6" r="2.2" fill="#1f77b4" fill-opacity="0.28"/>
<circle cx="187.6" cy="322" r="2.2" fill="#1f77b4" fill-opacity="0.28"/>
<circle cx="198.9" cy="328.7" r="2.2" fill="#1f77b4" fill-opacity="0.28"/>
<circle cx="124.9" cy="327" r="0.95" fill="#ff7f0e"/>
<circle cx="130.2" cy="338" r="0.95" fill="#ff7f0e"/>
<circle cx="130.8" cy="335.5" r="0.95" fill="#ff7f0e"/>
<circle cx="134.7" cy="342.8" r="0.95" fill="#ff7f0e"/>
<circle cx="135.1" cy="307" r="0.95" fill="#ff7f0e"/>
<circle cx="135.5" cy="316.3" r="0.95" fill="#ff7f0e"/>
<circle cx="134.7" cy="319.7" r="0.95" fill="#ff7f0e"/>
<circle cx="135.8" cy="325" r="0.95" fill="#ff7f0e"/>
<circle cx="138" cy="325" r="0.95" fill="#ff7f0e"/>
<circle cx="136.5" cy="330" r="0.95" fill="#ff7f0e"/>
<circle cx="137.1" cy="331.5" r="0.95" fill="#ff7f0e"/>
<circle cx="150.5" cy="323.1" r="0.95" fill="#ff7f0e"/>
<circle cx="151" cy="328.7" r="0.95" fill="#ff7f0e"/>
<circle cx="152" cy="329.6" r="0.95" fill="#ff7f0e"/>
<circle cx="152.2" cy="333.2" r="0.95" fill="#ff7f0e"/>
<circle cx="161" cy="316.3" r="0.95" fill="#ff7f0e"/>
<circle cx="161.2" cy="324.2" r="0.95" fill="#ff7f0e"/>
<circle cx="161.9" cy="326.5" r="0.95" fill="#ff7f0e"/>
<circle cx="161.7" cy="329.9" r="0.95" fill="#ff7f0e"/>
<circle cx="161.3" cy="333.2" r="0.95" fill="#ff7f0e"/>
<circle cx="164.7" cy="309" r="0.95" fill="#ff7f0e"/>
<circle cx="172" cy="327" r="0.95" fill="#ff7f0e"/>
<circle cx="172.1" cy="332.1" r="0.95" fill="#ff7f0e"/>
<circle cx="172.9" cy="333.8" r="0.95" fill="#ff7f0e"/>
<circle cx="174.1" cy="336.3" r="0.95" fill="#ff7f0e"/>
<circle cx="175.4" cy="336" r="0.95" fill="#ff7f0e"/>
<circle cx="174.3" cy="339" r="0.95" fill="#ff7f0e"/>
<circle cx="170.9" cy="347.3" r="0.95" fill="#ff7f0e"/>
<circle cx="183.9" cy="333.8" r="0.95" fill="#ff7f0e"/>
<circle cx="184.4" cy="335.2" r="0.95" fill="#ff7f0e"/>
<circle cx="183.9" cy="337.8" r="0.95" fill="#ff7f0e"/>
<circle cx="185" cy="345.6" r="0.95" fill="#ff7f0e"/>
<circle cx="187.6" cy="322" r="0.95" fill="#ff7f0e"/>
<circle cx="198.9" cy="328.7" r="0.95" fill="#ff7f0e"/>
</g>
<rect x="121.4" y="302.3" width="81.3" height="50.1" fill="none" stroke="#6a6a6a" stroke-width="0.8"/>
<line x1="125.1" y1="352.40000000000003" x2="125.1" y2="354.20000000000005" stroke="#6a6a6a" stroke-width="0.8"/>
<text x="125.1" y="358.8" font-size="5" text-anchor="middle" fill="#262626" class="t">0</text>
<line x1="140.6" y1="352.40000000000003" x2="140.6" y2="354.20000000000005" stroke="#6a6a6a" stroke-width="0.8"/>
<text x="140.6" y="358.8" font-size="5" text-anchor="middle" fill="#262626" class="t">50</text>
<line x1="156.0" y1="352.40000000000003" x2="156.0" y2="354.20000000000005" stroke="#6a6a6a" stroke-width="0.8"/>
<text x="156.0" y="358.8" font-size="5" text-anchor="middle" fill="#262626" class="t">100</text>
<line x1="171.5" y1="352.40000000000003" x2="171.5" y2="354.20000000000005" stroke="#6a6a6a" stroke-width="0.8"/>
<text x="171.5" y="358.8" font-size="5" text-anchor="middle" fill="#262626" class="t">150</text>
<line x1="186.9" y1="352.40000000000003" x2="186.9" y2="354.20000000000005" stroke="#6a6a6a" stroke-width="0.8"/>
<text x="186.9" y="358.8" font-size="5" text-anchor="middle" fill="#262626" class="t">200</text>
<line x1="202.4" y1="352.40000000000003" x2="202.4" y2="354.20000000000005" stroke="#6a6a6a" stroke-width="0.8"/>
<text x="202.4" y="358.8" font-size="5" text-anchor="middle" fill="#262626" class="t">250</text>
<line x1="119.60000000000001" y1="312.4" x2="121.4" y2="312.4" stroke="#6a6a6a" stroke-width="0.8"/>
<text x="119.10000000000001" y="314.2" font-size="5" text-anchor="end" fill="#262626" class="t">2</text>
<line x1="119.60000000000001" y1="323.4" x2="121.4" y2="323.4" stroke="#6a6a6a" stroke-width="0.8"/>
<text x="119.10000000000001" y="325.2" font-size="5" text-anchor="end" fill="#262626" class="t">1</text>
<line x1="119.60000000000001" y1="334.4" x2="121.4" y2="334.4" stroke="#6a6a6a" stroke-width="0.8"/>
<text x="119.10000000000001" y="336.2" font-size="5" text-anchor="end" fill="#262626" class="t">0</text>
<line x1="119.60000000000001" y1="345.4" x2="121.4" y2="345.4" stroke="#6a6a6a" stroke-width="0.8"/>
<text x="119.10000000000001" y="347.2" font-size="5" text-anchor="end" fill="#262626" class="t">−1</text>
<defs><clipPath id="c12"><rect x="219.1" y="302.3" width="81.3" height="50.1"/></clipPath></defs>
<g clip-path="url(#c12)">
<polyline points="222.8,336.1 223.1,329.3 223.4,322.8 223.7,316.2 224.0,311.0 224.3,309.0 224.7,313.0 225.0,320.7 225.3,325.9 225.6,327.6 225.9,328.8 226.2,329.3 226.5,323.2 226.8,311.7 227.1,305.6 227.4,309.4 227.7,316.9 228.1,322.5 228.4,325.1 228.7,327.2 229.0,328.7 229.3,329.3 229.6,328.1 229.9,325.3 230.2,322.5 230.5,319.5 230.8,315.9 231.1,313.0 231.5,311.8 231.8,315.4 232.1,323.3 232.4,331.5 232.7,340.6 233.0,346.2 233.3,343.6 233.6,337.8 233.9,331.9 234.2,329.3 234.5,330.3 234.9,332.5 235.2,334.8 235.5,336.1 235.8,336.5 236.1,336.9 236.4,337.1 236.7,337.2 237.0,335.8 237.3,332.2 237.6,327.8 237.9,323.7 238.3,319.2 238.6,314.5 238.9,312.4 239.2,316.0 239.5,323.9 239.8,331.5 240.1,338.6 240.4,345.4 240.7,348.5 241.0,344.4 241.4,336.8 241.7,332.7 242.0,333.4 242.3,335.3 242.6,337.8 242.9,340.2 243.2,342.1 243.5,342.8 243.8,341.9 244.1,339.6 244.4,336.7 244.8,333.8 245.1,330.4 245.4,326.2 245.7,321.6 246.0,317.6 246.3,314.6 246.6,313.5 246.9,319.6 247.2,331.1 247.5,337.2 247.8,336.3 248.2,334.5 248.5,333.0 248.8,332.0 249.1,331.0 249.4,330.1 249.7,329.5 250.0,329.3 250.3,333.7 250.6,341.8 250.9,346.2 251.2,344.7 251.6,341.2 251.9,337.2 252.2,332.1 252.5,325.4 252.8,318.6 253.1,313.4 253.4,311.3 253.7,313.9 254.0,319.8 254.3,325.9 254.6,332.6 255.0,339.6 255.3,342.8 255.6,341.4 255.9,338.3 256.2,335.2 256.5,333.8 256.8,334.6 257.1,336.6 257.4,338.9 257.7,340.9 258.0,341.7 258.4,340.4 258.7,337.4 259.0,334.0 259.3,331.5 259.6,330.3 259.9,329.4 260.2,328.5 260.5,327.0 260.8,322.7 261.1,316.6 261.5,313.5 261.8,322.6 262.1,339.4 262.4,348.5 262.7,345.0 263.0,338.2 263.3,333.8 263.6,332.7 263.9,331.9 264.2,331.3 264.5,330.9 264.9,330.4 265.2,330.0 265.5,329.7 265.8,329.4 266.1,329.1 266.4,328.7 266.7,328.2 267.0,326.5 267.3,323.4 267.6,319.5 267.9,315.8 268.3,312.9 268.6,311.8 268.9,314.6 269.2,321.1 269.5,329.0 269.8,335.5 270.1,338.3 270.4,336.3 270.7,331.7 271.0,326.5 271.3,322.5 271.7,319.7 272.0,317.3 272.3,316.3 272.6,317.0 272.9,318.9 273.2,321.5 273.5,324.2 273.8,328.5 274.1,333.6 274.4,336.1 274.7,334.8 275.1,331.8 275.4,328.7 275.7,327.0 276.0,326.7 276.3,326.5 276.6,326.3 276.9,325.9 277.2,323.0 277.5,317.7 277.8,313.5 278.1,311.0 278.5,308.8 278.8,306.9 279.1,305.6 279.4,305.1 279.7,306.1 280.0,308.5 280.3,311.3 280.6,314.9 280.9,319.7 281.2,324.6 281.6,328.4 281.9,329.9 282.2,328.7 282.5,325.8 282.8,321.7 283.1,317.2 283.4,313.1 283.7,310.2 284.0,309.0 284.3,318.6 284.6,336.6 285.0,346.2 285.3,344.4 285.6,340.3 285.9,335.2 286.2,331.1 286.5,329.3 286.8,330.6 287.1,333.7 287.4,337.3 287.7,340.4 288.0,341.7 288.4,340.7 288.7,338.2 289.0,334.6 289.3,330.4 289.6,326.2 289.9,322.5 290.2,318.5 290.5,314.1 290.8,310.5 291.1,309.0 291.4,315.2 291.8,328.8 292.1,342.3 292.4,348.5 292.7,347.4 293.0,344.7 293.3,341.4 293.6,338.3 293.9,335.1 294.2,331.9 294.5,330.4 294.8,332.4 295.2,336.3 295.5,338.3 295.8,336.4 296.1,331.5" fill="none" stroke="#1f77b4" stroke-width="1.0" stroke-linejoin="round"/>
<circle cx="234.4" cy="329.3" r="2.2" fill="#1f77b4" fill-opacity="0.28"/>
<circle cx="235" cy="331.5" r="2.2" fill="#1f77b4" fill-opacity="0.28"/>
<circle cx="235.9" cy="334.4" r="2.2" fill="#1f77b4" fill-opacity="0.28"/>
<circle cx="236.1" cy="336.6" r="2.2" fill="#1f77b4" fill-opacity="0.28"/>
<circle cx="253.6" cy="315.2" r="2.2" fill="#1f77b4" fill-opacity="0.28"/>
<circle cx="253.2" cy="322.5" r="2.2" fill="#1f77b4" fill-opacity="0.28"/>
<circle cx="253" cy="330.4" r="2.2" fill="#1f77b4" fill-opacity="0.28"/>
<circle cx="252.6" cy="334.9" r="2.2" fill="#1f77b4" fill-opacity="0.28"/>
<circle cx="254.8" cy="339.4" r="2.2" fill="#1f77b4" fill-opacity="0.28"/>
<circle cx="255.4" cy="343.4" r="2.2" fill="#1f77b4" fill-opacity="0.28"/>
<circle cx="257.6" cy="330.2" r="2.2" fill="#1f77b4" fill-opacity="0.28"/>
<circle cx="258.2" cy="337.2" r="2.2" fill="#1f77b4" fill-opacity="0.28"/>
<circle cx="263.8" cy="331.5" r="2.2" fill="#1f77b4" fill-opacity="0.28"/>
<circle cx="264.3" cy="331.5" r="2.2" fill="#1f77b4" fill-opacity="0.28"/>
<circle cx="270.6" cy="329.1" r="2.2" fill="#1f77b4" fill-opacity="0.28"/>
<circle cx="271.7" cy="318" r="2.2" fill="#1f77b4" fill-opacity="0.28"/>
<circle cx="272.1" cy="321" r="2.2" fill="#1f77b4" fill-opacity="0.28"/>
<circle cx="272.9" cy="322.5" r="2.2" fill="#1f77b4" fill-opacity="0.28"/>
<circle cx="275.1" cy="325.5" r="2.2" fill="#1f77b4" fill-opacity="0.28"/>
<circle cx="275.5" cy="327" r="2.2" fill="#1f77b4" fill-opacity="0.28"/>
<circle cx="275" cy="332.5" r="2.2" fill="#1f77b4" fill-opacity="0.28"/>
<circle cx="275.2" cy="335" r="2.2" fill="#1f77b4" fill-opacity="0.28"/>
<circle cx="285.8" cy="329.9" r="2.2" fill="#1f77b4" fill-opacity="0.28"/>
<circle cx="285.3" cy="334.9" r="2.2" fill="#1f77b4" fill-opacity="0.28"/>
<circle cx="289" cy="330" r="2.2" fill="#1f77b4" fill-opacity="0.28"/>
<circle cx="288.6" cy="333" r="2.2" fill="#1f77b4" fill-opacity="0.28"/>
<circle cx="290.1" cy="322" r="2.2" fill="#1f77b4" fill-opacity="0.28"/>
<circle cx="292" cy="343.4" r="2.2" fill="#1f77b4" fill-opacity="0.28"/>
<circle cx="234.4" cy="329.3" r="0.95" fill="#ff7f0e"/>
<circle cx="235" cy="331.5" r="0.95" fill="#ff7f0e"/>
<circle cx="235.9" cy="334.4" r="0.95" fill="#ff7f0e"/>
<circle cx="236.1" cy="336.6" r="0.95" fill="#ff7f0e"/>
<circle cx="253.6" cy="315.2" r="0.95" fill="#ff7f0e"/>
<circle cx="253.2" cy="322.5" r="0.95" fill="#ff7f0e"/>
<circle cx="253" cy="330.4" r="0.95" fill="#ff7f0e"/>
<circle cx="252.6" cy="334.9" r="0.95" fill="#ff7f0e"/>
<circle cx="254.8" cy="339.4" r="0.95" fill="#ff7f0e"/>
<circle cx="255.4" cy="343.4" r="0.95" fill="#ff7f0e"/>
<circle cx="257.6" cy="330.2" r="0.95" fill="#ff7f0e"/>
<circle cx="258.2" cy="337.2" r="0.95" fill="#ff7f0e"/>
<circle cx="263.8" cy="331.5" r="0.95" fill="#ff7f0e"/>
<circle cx="264.3" cy="331.5" r="0.95" fill="#ff7f0e"/>
<circle cx="270.6" cy="329.1" r="0.95" fill="#ff7f0e"/>
<circle cx="271.7" cy="318" r="0.95" fill="#ff7f0e"/>
<circle cx="272.1" cy="321" r="0.95" fill="#ff7f0e"/>
<circle cx="272.9" cy="322.5" r="0.95" fill="#ff7f0e"/>
<circle cx="275.1" cy="325.5" r="0.95" fill="#ff7f0e"/>
<circle cx="275.5" cy="327" r="0.95" fill="#ff7f0e"/>
<circle cx="275" cy="332.5" r="0.95" fill="#ff7f0e"/>
<circle cx="275.2" cy="335" r="0.95" fill="#ff7f0e"/>
<circle cx="285.8" cy="329.9" r="0.95" fill="#ff7f0e"/>
<circle cx="285.3" cy="334.9" r="0.95" fill="#ff7f0e"/>
<circle cx="289" cy="330" r="0.95" fill="#ff7f0e"/>
<circle cx="288.6" cy="333" r="0.95" fill="#ff7f0e"/>
<circle cx="290.1" cy="322" r="0.95" fill="#ff7f0e"/>
<circle cx="292" cy="343.4" r="0.95" fill="#ff7f0e"/>
</g>
<rect x="219.1" y="302.3" width="81.3" height="50.1" fill="none" stroke="#6a6a6a" stroke-width="0.8"/>
<line x1="222.8" y1="352.40000000000003" x2="222.8" y2="354.20000000000005" stroke="#6a6a6a" stroke-width="0.8"/>
<text x="222.8" y="358.8" font-size="5" text-anchor="middle" fill="#262626" class="t">0</text>
<line x1="238.3" y1="352.40000000000003" x2="238.3" y2="354.20000000000005" stroke="#6a6a6a" stroke-width="0.8"/>
<text x="238.3" y="358.8" font-size="5" text-anchor="middle" fill="#262626" class="t">50</text>
<line x1="253.7" y1="352.40000000000003" x2="253.7" y2="354.20000000000005" stroke="#6a6a6a" stroke-width="0.8"/>
<text x="253.7" y="358.8" font-size="5" text-anchor="middle" fill="#262626" class="t">100</text>
<line x1="269.2" y1="352.40000000000003" x2="269.2" y2="354.20000000000005" stroke="#6a6a6a" stroke-width="0.8"/>
<text x="269.2" y="358.8" font-size="5" text-anchor="middle" fill="#262626" class="t">150</text>
<line x1="284.6" y1="352.40000000000003" x2="284.6" y2="354.20000000000005" stroke="#6a6a6a" stroke-width="0.8"/>
<text x="284.6" y="358.8" font-size="5" text-anchor="middle" fill="#262626" class="t">200</text>
<line x1="300.1" y1="352.40000000000003" x2="300.1" y2="354.20000000000005" stroke="#6a6a6a" stroke-width="0.8"/>
<text x="300.1" y="358.8" font-size="5" text-anchor="middle" fill="#262626" class="t">250</text>
<line x1="217.29999999999998" y1="307.9" x2="219.1" y2="307.9" stroke="#6a6a6a" stroke-width="0.8"/>
<text x="216.79999999999998" y="309.7" font-size="5" text-anchor="end" fill="#262626" class="t">1</text>
<line x1="217.29999999999998" y1="322.3" x2="219.1" y2="322.3" stroke="#6a6a6a" stroke-width="0.8"/>
<text x="216.79999999999998" y="324.1" font-size="5" text-anchor="end" fill="#262626" class="t">0</text>
<line x1="217.29999999999998" y1="336.3" x2="219.1" y2="336.3" stroke="#6a6a6a" stroke-width="0.8"/>
<text x="216.79999999999998" y="338.1" font-size="5" text-anchor="end" fill="#262626" class="t">−1</text>
<line x1="217.29999999999998" y1="351.3" x2="219.1" y2="351.3" stroke="#6a6a6a" stroke-width="0.8"/>
<text x="216.79999999999998" y="353.1" font-size="5" text-anchor="end" fill="#262626" class="t">−2</text>
<defs><clipPath id="c13"><rect x="316.5" y="302.3" width="81.3" height="50.1"/></clipPath></defs>
<g clip-path="url(#c13)">
<polyline points="320.2,327.0 320.5,328.8 320.8,330.8 321.1,332.8 321.4,335.0 321.7,337.9 322.1,340.9 322.4,342.3 322.7,340.9 323.0,337.8 323.3,334.7 323.6,333.3 323.9,337.3 324.2,342.8 324.5,345.7 324.8,348.0 325.1,349.0 325.5,344.4 325.8,338.3 326.1,335.6 326.4,333.5 326.7,332.7 327.0,333.6 327.3,336.0 327.6,338.8 327.9,341.3 328.2,342.8 328.5,343.4 328.9,343.8 329.2,344.0 329.5,339.9 329.8,330.2 330.1,319.2 330.4,306.8 330.7,312.9 331.0,324.5 331.3,331.5 331.6,332.7 331.9,333.5 332.3,333.8 332.6,332.7 332.9,330.0 333.2,326.9 333.5,324.2 333.8,323.1 334.1,324.4 334.4,327.5 334.7,330.7 335.0,332.7 335.3,333.2 335.7,333.8 336.0,336.5 336.3,340.7 336.6,342.8 336.9,336.8 337.2,323.6 337.5,310.5 337.8,304.5 338.1,308.4 338.4,316.9 338.8,325.4 339.1,329.3 339.4,328.8 339.7,327.5 340.0,325.7 340.3,323.7 340.6,320.5 340.9,316.5 341.2,314.6 341.5,317.1 341.8,322.5 342.2,327.9 342.5,330.4 342.8,329.5 343.1,327.9 343.4,327.0 343.7,329.9 344.0,335.4 344.3,338.3 344.6,336.2 344.9,331.6 345.2,326.9 345.6,324.8 345.9,325.4 346.2,326.7 346.5,328.2 346.8,330.2 347.1,332.9 347.4,335.1 347.7,336.1 348.0,322.9 348.3,309.6 348.6,314.5 349.0,324.1 349.3,330.4 349.6,331.9 349.9,332.9 350.2,334.0 350.5,335.7 350.8,337.7 351.1,339.3 351.4,340.0 351.7,336.0 352.0,327.1 352.4,318.1 352.7,314.1 353.0,315.7 353.3,319.4 353.6,323.7 353.9,327.0 354.2,329.3 354.5,331.5 354.8,333.2 355.1,333.8 355.4,330.0 355.8,323.0 356.1,319.2 356.4,320.6 356.7,324.1 357.0,328.1 357.3,331.5 357.6,334.3 357.9,337.1 358.2,339.7 358.5,341.6 358.9,342.3 359.2,338.5 359.5,329.6 359.8,318.9 360.1,310.0 360.4,306.2 360.7,310.7 361.0,319.9 361.3,327.0 361.6,330.6 361.9,333.5 362.3,335.0 362.6,335.6 362.9,335.9 363.2,336.2 363.5,336.4 363.8,336.7 364.1,337.2 364.4,338.4 364.7,340.4 365.0,342.6 365.3,344.4 365.7,345.1 366.0,343.9 366.3,341.0 366.6,337.2 366.9,333.4 367.2,330.5 367.5,329.3 367.8,331.0 368.1,334.9 368.4,339.1 368.7,341.7 369.1,342.8 369.4,343.7 369.7,344.5 370.0,344.9 370.3,345.1 370.6,344.3 370.9,342.3 371.2,339.6 371.5,336.5 371.8,333.8 372.1,331.8 372.5,331.0 372.8,331.6 373.1,333.2 373.4,335.2 373.7,337.2 374.0,338.8 374.3,339.4 374.6,339.1 374.9,338.3 375.2,337.5 375.5,337.2 375.9,338.4 376.2,341.4 376.5,344.8 376.8,347.8 377.1,349.0 377.4,348.5 377.7,347.4 378.0,345.8 378.3,344.2 378.6,342.8 379.0,341.5 379.3,340.0 379.6,338.6 379.9,337.6 380.2,337.2 380.5,338.3 380.8,340.6 381.1,342.9 381.4,344.0 381.7,339.4 382.0,329.3 382.4,319.2 382.7,314.6 383.0,318.1 383.3,325.9 383.6,333.7 383.9,337.2 384.2,335.7 384.5,332.2 384.8,328.1 385.1,324.6 385.4,323.1 385.8,324.4 386.1,327.5 386.4,331.5 386.7,335.4 387.0,338.3 387.3,340.4 387.6,342.4 387.9,343.9 388.2,344.5 388.5,340.9 388.8,332.4 389.2,322.2 389.5,313.7 389.8,310.1 390.1,315.1 390.4,324.9 390.7,331.5 391.0,333.8 391.3,335.6 391.6,336.8 391.9,337.2 392.2,336.1 392.6,333.4 392.9,330.3 393.2,327.6 393.5,326.5 393.8,329.6 394.1,336.1" fill="none" stroke="#1f77b4" stroke-width="1.0" stroke-linejoin="round"/>
<circle cx="325.9" cy="336.6" r="2.2" fill="#1f77b4" fill-opacity="0.28"/>
<circle cx="330" cy="321.2" r="2.2" fill="#1f77b4" fill-opacity="0.28"/>
<circle cx="345.4" cy="324.8" r="2.2" fill="#1f77b4" fill-opacity="0.28"/>
<circle cx="345.1" cy="326.8" r="2.2" fill="#1f77b4" fill-opacity="0.28"/>
<circle cx="344.3" cy="336.6" r="2.2" fill="#1f77b4" fill-opacity="0.28"/>
<circle cx="344.3" cy="338.3" r="2.2" fill="#1f77b4" fill-opacity="0.28"/>
<circle cx="344.8" cy="333.8" r="2.2" fill="#1f77b4" fill-opacity="0.28"/>
<circle cx="356.2" cy="320.3" r="2.2" fill="#1f77b4" fill-opacity="0.28"/>
<circle cx="355.6" cy="326.5" r="2.2" fill="#1f77b4" fill-opacity="0.28"/>
<circle cx="354.5" cy="331" r="2.2" fill="#1f77b4" fill-opacity="0.28"/>
<circle cx="355.4" cy="333.8" r="2.2" fill="#1f77b4" fill-opacity="0.28"/>
<circle cx="357" cy="330.4" r="2.2" fill="#1f77b4" fill-opacity="0.28"/>
<circle cx="357.7" cy="334.4" r="2.2" fill="#1f77b4" fill-opacity="0.28"/>
<circle cx="358.1" cy="336.1" r="2.2" fill="#1f77b4" fill-opacity="0.28"/>
<circle cx="360.7" cy="328" r="2.2" fill="#1f77b4" fill-opacity="0.28"/>
<circle cx="361" cy="332" r="2.2" fill="#1f77b4" fill-opacity="0.28"/>
<circle cx="361.3" cy="333.8" r="2.2" fill="#1f77b4" fill-opacity="0.28"/>
<circle cx="373.9" cy="340" r="2.2" fill="#1f77b4" fill-opacity="0.28"/>
<circle cx="383.6" cy="337" r="2.2" fill="#1f77b4" fill-opacity="0.28"/>
<circle cx="387.2" cy="335.2" r="2.2" fill="#1f77b4" fill-opacity="0.28"/>
<circle cx="387.8" cy="341.1" r="2.2" fill="#1f77b4" fill-opacity="0.28"/>
<circle cx="389.7" cy="311.8" r="2.2" fill="#1f77b4" fill-opacity="0.28"/>
<circle cx="390" cy="328.2" r="2.2" fill="#1f77b4" fill-opacity="0.28"/>
<circle cx="390.4" cy="330.7" r="2.2" fill="#1f77b4" fill-opacity="0.28"/>
<circle cx="325.9" cy="336.6" r="0.95" fill="#ff7f0e"/>
<circle cx="330" cy="321.2" r="0.95" fill="#ff7f0e"/>
<circle cx="345.4" cy="324.8" r="0.95" fill="#ff7f0e"/>
<circle cx="345.1" cy="326.8" r="0.95" fill="#ff7f0e"/>
<circle cx="344.3" cy="336.6" r="0.95" fill="#ff7f0e"/>
<circle cx="344.3" cy="338.3" r="0.95" fill="#ff7f0e"/>
<circle cx="344.8" cy="333.8" r="0.95" fill="#ff7f0e"/>
<circle cx="356.2" cy="320.3" r="0.95" fill="#ff7f0e"/>
<circle cx="355.6" cy="326.5" r="0.95" fill="#ff7f0e"/>
<circle cx="354.5" cy="331" r="0.95" fill="#ff7f0e"/>
<circle cx="355.4" cy="333.8" r="0.95" fill="#ff7f0e"/>
<circle cx="357" cy="330.4" r="0.95" fill="#ff7f0e"/>
<circle cx="357.7" cy="334.4" r="0.95" fill="#ff7f0e"/>
<circle cx="358.1" cy="336.1" r="0.95" fill="#ff7f0e"/>
<circle cx="360.7" cy="328" r="0.95" fill="#ff7f0e"/>
<circle cx="361" cy="332" r="0.95" fill="#ff7f0e"/>
<circle cx="361.3" cy="333.8" r="0.95" fill="#ff7f0e"/>
<circle cx="373.9" cy="340" r="0.95" fill="#ff7f0e"/>
<circle cx="383.6" cy="337" r="0.95" fill="#ff7f0e"/>
<circle cx="387.2" cy="335.2" r="0.95" fill="#ff7f0e"/>
<circle cx="387.8" cy="341.1" r="0.95" fill="#ff7f0e"/>
<circle cx="389.7" cy="311.8" r="0.95" fill="#ff7f0e"/>
<circle cx="390" cy="328.2" r="0.95" fill="#ff7f0e"/>
<circle cx="390.4" cy="330.7" r="0.95" fill="#ff7f0e"/>
</g>
<rect x="316.5" y="302.3" width="81.3" height="50.1" fill="none" stroke="#6a6a6a" stroke-width="0.8"/>
<line x1="320.2" y1="352.40000000000003" x2="320.2" y2="354.20000000000005" stroke="#6a6a6a" stroke-width="0.8"/>
<text x="320.2" y="358.8" font-size="5" text-anchor="middle" fill="#262626" class="t">0</text>
<line x1="335.7" y1="352.40000000000003" x2="335.7" y2="354.20000000000005" stroke="#6a6a6a" stroke-width="0.8"/>
<text x="335.7" y="358.8" font-size="5" text-anchor="middle" fill="#262626" class="t">50</text>
<line x1="351.1" y1="352.40000000000003" x2="351.1" y2="354.20000000000005" stroke="#6a6a6a" stroke-width="0.8"/>
<text x="351.1" y="358.8" font-size="5" text-anchor="middle" fill="#262626" class="t">100</text>
<line x1="366.6" y1="352.40000000000003" x2="366.6" y2="354.20000000000005" stroke="#6a6a6a" stroke-width="0.8"/>
<text x="366.6" y="358.8" font-size="5" text-anchor="middle" fill="#262626" class="t">150</text>
<line x1="382.0" y1="352.40000000000003" x2="382.0" y2="354.20000000000005" stroke="#6a6a6a" stroke-width="0.8"/>
<text x="382.0" y="358.8" font-size="5" text-anchor="middle" fill="#262626" class="t">200</text>
<line x1="397.5" y1="352.40000000000003" x2="397.5" y2="354.20000000000005" stroke="#6a6a6a" stroke-width="0.8"/>
<text x="397.5" y="358.8" font-size="5" text-anchor="middle" fill="#262626" class="t">250</text>
<line x1="314.7" y1="302.5" x2="316.5" y2="302.5" stroke="#6a6a6a" stroke-width="0.8"/>
<text x="314.2" y="304.3" font-size="5" text-anchor="end" fill="#262626" class="t">4</text>
<line x1="314.7" y1="320.5" x2="316.5" y2="320.5" stroke="#6a6a6a" stroke-width="0.8"/>
<text x="314.2" y="322.3" font-size="5" text-anchor="end" fill="#262626" class="t">2</text>
<line x1="314.7" y1="338.1" x2="316.5" y2="338.1" stroke="#6a6a6a" stroke-width="0.8"/>
<text x="314.2" y="339.9" font-size="5" text-anchor="end" fill="#262626" class="t">0</text>
<defs><clipPath id="c14"><rect x="414.2" y="302.3" width="81.3" height="50.1"/></clipPath></defs>
<g clip-path="url(#c14)">
<polyline points="417.9,330.2 418.2,330.4 418.5,331.0 418.8,333.0 419.1,336.5 419.4,339.5 419.8,341.7 420.1,343.7 420.4,344.5 420.7,342.2 421.0,337.8 421.3,335.5 421.6,337.5 421.9,342.0 422.2,346.5 422.5,348.5 422.8,347.4 423.2,344.8 423.5,341.8 423.8,339.5 424.1,337.7 424.4,336.2 424.7,335.5 425.0,337.2 425.3,340.5 425.6,342.8 425.9,343.7 426.2,344.4 426.6,344.9 426.9,345.1 427.2,341.1 427.5,332.4 427.8,323.7 428.1,319.7 428.4,323.0 428.7,329.5 429.0,333.8 429.3,335.2 429.6,336.2 430.0,336.9 430.3,337.2 430.6,336.1 430.9,333.8 431.2,331.5 431.5,330.4 431.8,331.1 432.1,332.9 432.4,335.1 432.7,337.2 433.0,339.4 433.4,341.7 433.7,342.8 434.0,341.0 434.3,336.4 434.6,330.4 434.9,324.4 435.2,319.8 435.5,318.0 435.8,322.0 436.1,329.5 436.5,333.8 436.8,334.1 437.1,334.3 437.4,334.5 437.7,334.5 438.0,332.9 438.3,329.3 438.6,325.8 438.9,324.2 439.2,326.4 439.5,330.5 439.9,332.7 440.2,332.4 440.5,331.8 440.8,331.5 441.1,333.9 441.4,338.2 441.7,340.6 442.0,338.4 442.3,333.1 442.6,326.7 442.9,321.4 443.3,319.2 443.6,321.8 443.9,327.6 444.2,333.5 444.5,336.1 444.8,332.7 445.1,325.4 445.4,318.0 445.7,314.6 446.0,314.6 446.3,314.6 446.7,318.8 447.0,327.3 447.3,333.8 447.6,337.1 447.9,340.0 448.2,342.0 448.5,342.8 448.8,341.4 449.1,337.8 449.4,333.2 449.7,328.7 450.1,325.1 450.4,323.7 450.7,325.3 451.0,329.3 451.3,333.9 451.6,337.9 451.9,339.5 452.2,338.5 452.5,336.1 452.8,333.3 453.1,330.9 453.5,329.9 453.8,330.5 454.1,331.8 454.4,333.5 454.7,335.0 455.0,336.5 455.3,338.2 455.6,339.9 455.9,341.3 456.2,342.4 456.6,342.8 456.9,339.3 457.2,331.6 457.5,323.8 457.8,320.3 458.1,323.2 458.4,329.6 458.7,336.2 459.0,339.5 459.3,340.0 459.6,340.3 460.0,340.5 460.3,340.6 460.6,340.1 460.9,338.7 461.2,336.9 461.5,335.2 461.8,333.8 462.1,333.3 462.4,334.6 462.7,337.7 463.0,341.3 463.4,344.4 463.7,345.7 464.0,344.4 464.3,341.2 464.6,336.9 464.9,332.7 465.2,329.5 465.5,328.2 465.8,331.4 466.1,337.6 466.4,341.7 466.8,342.8 467.1,343.7 467.4,344.3 467.7,344.5 468.0,344.5 468.3,344.3 468.6,344.1 468.9,343.8 469.2,343.4 469.5,342.8 469.8,337.6 470.2,332.7 470.5,333.3 470.8,334.9 471.1,337.0 471.4,339.1 471.7,340.6 472.0,341.6 472.3,342.5 472.6,343.4 472.9,344.2 473.2,345.0 473.6,346.0 473.9,347.2 474.2,348.1 474.5,348.5 474.8,348.2 475.1,347.2 475.4,345.9 475.7,344.5 476.0,343.0 476.3,341.7 476.7,340.4 477.0,338.9 477.3,337.7 477.6,337.2 477.9,337.8 478.2,339.2 478.5,340.8 478.8,342.2 479.1,342.8 479.4,339.7 479.7,333.0 480.1,326.2 480.4,323.1 480.7,324.2 481.0,326.9 481.3,330.0 481.6,332.7 481.9,333.8 482.2,333.0 482.5,331.0 482.8,328.7 483.1,326.7 483.5,325.9 483.8,326.9 484.1,329.3 484.4,332.4 484.7,335.7 485.0,338.3 485.3,340.6 485.6,343.1 485.9,344.9 486.2,345.7 486.5,342.8 486.9,335.9 487.2,327.8 487.5,320.9 487.8,318.0 488.1,320.8 488.4,326.7 488.7,331.5 489.0,334.6 489.3,337.2 489.6,338.3 489.9,329.5 490.3,313.3 490.6,304.5 490.9,311.2 491.2,323.7 491.5,330.4 491.8,325.9" fill="none" stroke="#1f77b4" stroke-width="1.0" stroke-linejoin="round"/>
<circle cx="419.6" cy="342" r="2.2" fill="#1f77b4" fill-opacity="0.28"/>
<circle cx="420.3" cy="344.5" r="2.2" fill="#1f77b4" fill-opacity="0.28"/>
<circle cx="424.2" cy="339" r="2.2" fill="#1f77b4" fill-opacity="0.28"/>
<circle cx="423.7" cy="341.5" r="2.2" fill="#1f77b4" fill-opacity="0.28"/>
<circle cx="427" cy="345.1" r="2.2" fill="#1f77b4" fill-opacity="0.28"/>
<circle cx="431.6" cy="333" r="2.2" fill="#1f77b4" fill-opacity="0.28"/>
<circle cx="432.1" cy="336.1" r="2.2" fill="#1f77b4" fill-opacity="0.28"/>
<circle cx="430.4" cy="339.4" r="2.2" fill="#1f77b4" fill-opacity="0.28"/>
<circle cx="438.9" cy="325.9" r="2.2" fill="#1f77b4" fill-opacity="0.28"/>
<circle cx="438.3" cy="329.1" r="2.2" fill="#1f77b4" fill-opacity="0.28"/>
<circle cx="438.9" cy="333.3" r="2.2" fill="#1f77b4" fill-opacity="0.28"/>
<circle cx="440" cy="332.7" r="2.2" fill="#1f77b4" fill-opacity="0.28"/>
<circle cx="441.5" cy="339.4" r="2.2" fill="#1f77b4" fill-opacity="0.28"/>
<circle cx="441.7" cy="342.8" r="2.2" fill="#1f77b4" fill-opacity="0.28"/>
<circle cx="444.9" cy="336" r="2.2" fill="#1f77b4" fill-opacity="0.28"/>
<circle cx="448.7" cy="342.8" r="2.2" fill="#1f77b4" fill-opacity="0.28"/>
<circle cx="448.6" cy="342.8" r="2.2" fill="#1f77b4" fill-opacity="0.28"/>
<circle cx="460.2" cy="341.1" r="2.2" fill="#1f77b4" fill-opacity="0.28"/>
<circle cx="470.3" cy="332.7" r="2.2" fill="#1f77b4" fill-opacity="0.28"/>
<circle cx="471.1" cy="340" r="2.2" fill="#1f77b4" fill-opacity="0.28"/>
<circle cx="472.2" cy="342.6" r="2.2" fill="#1f77b4" fill-opacity="0.28"/>
<circle cx="473" cy="344.9" r="2.2" fill="#1f77b4" fill-opacity="0.28"/>
<circle cx="473.9" cy="346.8" r="2.2" fill="#1f77b4" fill-opacity="0.28"/>
<circle cx="477.1" cy="338.3" r="2.2" fill="#1f77b4" fill-opacity="0.28"/>
<circle cx="484.6" cy="337.2" r="2.2" fill="#1f77b4" fill-opacity="0.28"/>
<circle cx="488.4" cy="332.1" r="2.2" fill="#1f77b4" fill-opacity="0.28"/>
<circle cx="491.4" cy="319.4" r="2.2" fill="#1f77b4" fill-opacity="0.28"/>
<circle cx="419.6" cy="342" r="0.95" fill="#ff7f0e"/>
<circle cx="420.3" cy="344.5" r="0.95" fill="#ff7f0e"/>
<circle cx="424.2" cy="339" r="0.95" fill="#ff7f0e"/>
<circle cx="423.7" cy="341.5" r="0.95" fill="#ff7f0e"/>
<circle cx="427" cy="345.1" r="0.95" fill="#ff7f0e"/>
<circle cx="431.6" cy="333" r="0.95" fill="#ff7f0e"/>
<circle cx="432.1" cy="336.1" r="0.95" fill="#ff7f0e"/>
<circle cx="430.4" cy="339.4" r="0.95" fill="#ff7f0e"/>
<circle cx="438.9" cy="325.9" r="0.95" fill="#ff7f0e"/>
<circle cx="438.3" cy="329.1" r="0.95" fill="#ff7f0e"/>
<circle cx="438.9" cy="333.3" r="0.95" fill="#ff7f0e"/>
<circle cx="440" cy="332.7" r="0.95" fill="#ff7f0e"/>
<circle cx="441.5" cy="339.4" r="0.95" fill="#ff7f0e"/>
<circle cx="441.7" cy="342.8" r="0.95" fill="#ff7f0e"/>
<circle cx="444.9" cy="336" r="0.95" fill="#ff7f0e"/>
<circle cx="448.7" cy="342.8" r="0.95" fill="#ff7f0e"/>
<circle cx="448.6" cy="342.8" r="0.95" fill="#ff7f0e"/>
<circle cx="460.2" cy="341.1" r="0.95" fill="#ff7f0e"/>
<circle cx="470.3" cy="332.7" r="0.95" fill="#ff7f0e"/>
<circle cx="471.1" cy="340" r="0.95" fill="#ff7f0e"/>
<circle cx="472.2" cy="342.6" r="0.95" fill="#ff7f0e"/>
<circle cx="473" cy="344.9" r="0.95" fill="#ff7f0e"/>
<circle cx="473.9" cy="346.8" r="0.95" fill="#ff7f0e"/>
<circle cx="477.1" cy="338.3" r="0.95" fill="#ff7f0e"/>
<circle cx="484.6" cy="337.2" r="0.95" fill="#ff7f0e"/>
<circle cx="488.4" cy="332.1" r="0.95" fill="#ff7f0e"/>
<circle cx="491.4" cy="319.4" r="0.95" fill="#ff7f0e"/>
</g>
<rect x="414.2" y="302.3" width="81.3" height="50.1" fill="none" stroke="#6a6a6a" stroke-width="0.8"/>
<line x1="417.9" y1="352.40000000000003" x2="417.9" y2="354.20000000000005" stroke="#6a6a6a" stroke-width="0.8"/>
<text x="417.9" y="358.8" font-size="5" text-anchor="middle" fill="#262626" class="t">0</text>
<line x1="433.4" y1="352.40000000000003" x2="433.4" y2="354.20000000000005" stroke="#6a6a6a" stroke-width="0.8"/>
<text x="433.4" y="358.8" font-size="5" text-anchor="middle" fill="#262626" class="t">50</text>
<line x1="448.8" y1="352.40000000000003" x2="448.8" y2="354.20000000000005" stroke="#6a6a6a" stroke-width="0.8"/>
<text x="448.8" y="358.8" font-size="5" text-anchor="middle" fill="#262626" class="t">100</text>
<line x1="464.3" y1="352.40000000000003" x2="464.3" y2="354.20000000000005" stroke="#6a6a6a" stroke-width="0.8"/>
<text x="464.3" y="358.8" font-size="5" text-anchor="middle" fill="#262626" class="t">150</text>
<line x1="479.7" y1="352.40000000000003" x2="479.7" y2="354.20000000000005" stroke="#6a6a6a" stroke-width="0.8"/>
<text x="479.7" y="358.8" font-size="5" text-anchor="middle" fill="#262626" class="t">200</text>
<line x1="495.2" y1="352.40000000000003" x2="495.2" y2="354.20000000000005" stroke="#6a6a6a" stroke-width="0.8"/>
<text x="495.2" y="358.8" font-size="5" text-anchor="middle" fill="#262626" class="t">250</text>
<line x1="412.4" y1="307.7" x2="414.2" y2="307.7" stroke="#6a6a6a" stroke-width="0.8"/>
<text x="411.9" y="309.5" font-size="5" text-anchor="end" fill="#262626" class="t">4</text>
<line x1="412.4" y1="322.8" x2="414.2" y2="322.8" stroke="#6a6a6a" stroke-width="0.8"/>
<text x="411.9" y="324.6" font-size="5" text-anchor="end" fill="#262626" class="t">2</text>
<line x1="412.4" y1="338.3" x2="414.2" y2="338.3" stroke="#6a6a6a" stroke-width="0.8"/>
<text x="411.9" y="340.1" font-size="5" text-anchor="end" fill="#262626" class="t">0</text>
<defs><clipPath id="c20"><rect x="23.5" y="362.1" width="81.3" height="50.1"/></clipPath></defs>
<g clip-path="url(#c20)">
<polyline points="27.2,373.0 27.5,377.8 27.8,381.6 28.1,383.7 28.4,384.4 28.7,384.9 29.1,385.4 29.4,386.3 29.7,387.2 30.0,387.6 30.3,377.4 30.6,367.3 30.9,369.4 31.2,374.4 31.5,380.2 31.8,384.8 32.1,387.7 32.5,390.4 32.8,394.0 33.1,397.7 33.4,399.4 33.7,393.7 34.0,385.9 34.3,381.9 34.6,378.8 34.9,377.5 35.2,378.6 35.5,381.2 35.9,383.7 36.2,384.8 36.5,383.1 36.8,379.2 37.1,374.6 37.4,369.0 37.7,372.8 38.0,379.9 38.3,383.7 38.6,381.4 38.9,379.2 39.3,380.5 39.6,383.4 39.9,386.5 40.2,390.0 40.5,393.8 40.8,395.5 41.1,394.4 41.4,391.9 41.7,389.3 42.0,386.2 42.3,384.2 42.7,385.5 43.0,388.0 43.3,389.3 43.6,387.8 43.9,385.2 44.2,383.7 44.5,385.7 44.8,389.5 45.1,391.5 45.4,391.3 45.8,390.9 46.1,390.6 46.4,390.4 46.7,392.5 47.0,397.1 47.3,401.8 47.6,403.9 47.9,400.4 48.2,392.0 48.5,382.0 48.8,373.6 49.2,370.1 49.5,374.0 49.8,378.0 50.1,377.3 50.4,375.9 50.7,375.2 51.0,375.7 51.3,376.8 51.6,378.5 51.9,380.5 52.2,382.5 52.6,384.9 52.9,387.7 53.2,390.4 53.5,393.0 53.8,395.6 54.1,397.8 54.4,399.4 54.7,400.5 55.0,401.4 55.3,401.7 55.6,392.1 56.0,374.1 56.3,364.5 56.6,366.5 56.9,371.4 57.2,377.3 57.5,382.5 57.8,387.5 58.1,390.4 58.4,389.5 58.7,387.6 59.0,385.7 59.4,384.8 59.7,385.5 60.0,387.1 60.3,389.3 60.6,391.5 60.9,394.1 61.2,397.5 61.5,400.9 61.8,403.5 62.1,404.5 62.4,402.5 62.8,397.6 63.1,391.7 63.4,386.8 63.7,384.8 64.0,386.8 64.3,390.7 64.6,392.7 64.9,392.6 65.2,392.3 65.5,391.9 65.9,391.5 66.2,390.6 66.5,389.3 66.8,388.1 67.1,387.6 67.4,389.8 67.7,393.9 68.0,396.1 68.3,395.5 68.6,394.4 68.9,393.8 69.3,395.6 69.6,399.7 69.9,403.8 70.2,405.6 70.5,400.9 70.8,390.7 71.1,380.5 71.4,375.8 71.7,377.9 72.0,382.3 72.3,385.9 72.7,388.1 73.0,390.1 73.3,391.5 73.6,392.1 73.9,386.7 74.2,376.7 74.5,371.3 74.8,377.7 75.1,389.7 75.4,396.1 75.7,396.1 76.1,396.0 76.4,395.9 76.7,395.7 77.0,395.5 77.3,395.3 77.6,395.1 77.9,394.8 78.2,394.5 78.5,394.3 78.8,394.0 79.1,393.7 79.5,393.4 79.8,393.2 80.1,392.9 80.4,392.7 80.7,392.5 81.0,392.2 81.3,391.9 81.6,391.7 81.9,391.4 82.2,391.1 82.5,390.9 82.9,390.7 83.2,390.5 83.5,390.4 83.8,390.4 84.1,393.6 84.4,399.6 84.7,402.8 85.0,401.1 85.3,397.5 85.6,393.8 86.0,392.1 86.3,392.6 86.6,393.9 86.9,395.4 87.2,396.7 87.5,397.2 87.8,397.1 88.1,396.8 88.4,396.2 88.7,395.5 89.0,394.7 89.4,393.8 89.7,391.6 90.0,388.5 90.3,387.0 90.6,388.6 90.9,392.2 91.2,396.4 91.5,399.4 91.8,401.4 92.1,403.2 92.4,404.6 92.8,405.1 93.1,404.1 93.4,401.6 93.7,398.3 94.0,395.0 94.3,392.5 94.6,391.5 94.9,393.6 95.2,398.3 95.5,403.0 95.8,405.1 96.2,403.7 96.5,400.6 96.8,397.5 97.1,396.1 97.4,396.9 97.7,399.0 98.0,401.7 98.3,404.4 98.6,406.5 98.9,407.3 99.2,406.6 99.6,405.2 99.9,403.7 100.2,402.8 100.5,402.5 100.8,402.4 101.1,402.3" fill="none" stroke="#1f77b4" stroke-width="1.0" stroke-linejoin="round"/>
<circle cx="31.7" cy="380.5" r="2.2" fill="#1f77b4" fill-opacity="0.28"/>
<circle cx="31.9" cy="385.4" r="2.2" fill="#1f77b4" fill-opacity="0.28"/>
<circle cx="32.2" cy="390.4" r="2.2" fill="#1f77b4" fill-opacity="0.28"/>
<circle cx="37.9" cy="369" r="2.2" fill="#1f77b4" fill-opacity="0.28"/>
<circle cx="37.2" cy="377" r="2.2" fill="#1f77b4" fill-opacity="0.28"/>
<circle cx="37" cy="379.5" r="2.2" fill="#1f77b4" fill-opacity="0.28"/>
<circle cx="40.7" cy="395.5" r="2.2" fill="#1f77b4" fill-opacity="0.28"/>
<circle cx="43.5" cy="391.3" r="2.2" fill="#1f77b4" fill-opacity="0.28"/>
<circle cx="46.5" cy="390.6" r="2.2" fill="#1f77b4" fill-opacity="0.28"/>
<circle cx="49.9" cy="378.3" r="2.2" fill="#1f77b4" fill-opacity="0.28"/>
<circle cx="56.7" cy="366.5" r="2.2" fill="#1f77b4" fill-opacity="0.28"/>
<circle cx="56.7" cy="372.6" r="2.2" fill="#1f77b4" fill-opacity="0.28"/>
<circle cx="57" cy="374.6" r="2.2" fill="#1f77b4" fill-opacity="0.28"/>
<circle cx="57.4" cy="382" r="2.2" fill="#1f77b4" fill-opacity="0.28"/>
<circle cx="56.2" cy="388.2" r="2.2" fill="#1f77b4" fill-opacity="0.28"/>
<circle cx="55.9" cy="398.3" r="2.2" fill="#1f77b4" fill-opacity="0.28"/>
<circle cx="55.5" cy="401.5" r="2.2" fill="#1f77b4" fill-opacity="0.28"/>
<circle cx="62.1" cy="403.4" r="2.2" fill="#1f77b4" fill-opacity="0.28"/>
<circle cx="62.2" cy="404.2" r="2.2" fill="#1f77b4" fill-opacity="0.28"/>
<circle cx="64.5" cy="392.1" r="2.2" fill="#1f77b4" fill-opacity="0.28"/>
<circle cx="65.6" cy="393.8" r="2.2" fill="#1f77b4" fill-opacity="0.28"/>
<circle cx="66.8" cy="390.4" r="2.2" fill="#1f77b4" fill-opacity="0.28"/>
<circle cx="67.3" cy="388.7" r="2.2" fill="#1f77b4" fill-opacity="0.28"/>
<circle cx="66.2" cy="398.1" r="2.2" fill="#1f77b4" fill-opacity="0.28"/>
<circle cx="69.9" cy="398.9" r="2.2" fill="#1f77b4" fill-opacity="0.28"/>
<circle cx="70.4" cy="403.4" r="2.2" fill="#1f77b4" fill-opacity="0.28"/>
<circle cx="74.6" cy="373.5" r="2.2" fill="#1f77b4" fill-opacity="0.28"/>
<circle cx="80.5" cy="392.9" r="2.2" fill="#1f77b4" fill-opacity="0.28"/>
<circle cx="87" cy="396.1" r="2.2" fill="#1f77b4" fill-opacity="0.28"/>
<circle cx="88.4" cy="400.6" r="2.2" fill="#1f77b4" fill-opacity="0.28"/>
<circle cx="89" cy="400.6" r="2.2" fill="#1f77b4" fill-opacity="0.28"/>
<circle cx="88.2" cy="402.8" r="2.2" fill="#1f77b4" fill-opacity="0.28"/>
<circle cx="94.9" cy="393.8" r="2.2" fill="#1f77b4" fill-opacity="0.28"/>
<circle cx="31.7" cy="380.5" r="0.95" fill="#ff7f0e"/>
<circle cx="31.9" cy="385.4" r="0.95" fill="#ff7f0e"/>
<circle cx="32.2" cy="390.4" r="0.95" fill="#ff7f0e"/>
<circle cx="37.9" cy="369" r="0.95" fill="#ff7f0e"/>
<circle cx="37.2" cy="377" r="0.95" fill="#ff7f0e"/>
<circle cx="37" cy="379.5" r="0.95" fill="#ff7f0e"/>
<circle cx="40.7" cy="395.5" r="0.95" fill="#ff7f0e"/>
<circle cx="43.5" cy="391.3" r="0.95" fill="#ff7f0e"/>
<circle cx="46.5" cy="390.6" r="0.95" fill="#ff7f0e"/>
<circle cx="49.9" cy="378.3" r="0.95" fill="#ff7f0e"/>
<circle cx="56.7" cy="366.5" r="0.95" fill="#ff7f0e"/>
<circle cx="56.7" cy="372.6" r="0.95" fill="#ff7f0e"/>
<circle cx="57" cy="374.6" r="0.95" fill="#ff7f0e"/>
<circle cx="57.4" cy="382" r="0.95" fill="#ff7f0e"/>
<circle cx="56.2" cy="388.2" r="0.95" fill="#ff7f0e"/>
<circle cx="55.9" cy="398.3" r="0.95" fill="#ff7f0e"/>
<circle cx="55.5" cy="401.5" r="0.95" fill="#ff7f0e"/>
<circle cx="62.1" cy="403.4" r="0.95" fill="#ff7f0e"/>
<circle cx="62.2" cy="404.2" r="0.95" fill="#ff7f0e"/>
<circle cx="64.5" cy="392.1" r="0.95" fill="#ff7f0e"/>
<circle cx="65.6" cy="393.8" r="0.95" fill="#ff7f0e"/>
<circle cx="66.8" cy="390.4" r="0.95" fill="#ff7f0e"/>
<circle cx="67.3" cy="388.7" r="0.95" fill="#ff7f0e"/>
<circle cx="66.2" cy="398.1" r="0.95" fill="#ff7f0e"/>
<circle cx="69.9" cy="398.9" r="0.95" fill="#ff7f0e"/>
<circle cx="70.4" cy="403.4" r="0.95" fill="#ff7f0e"/>
<circle cx="74.6" cy="373.5" r="0.95" fill="#ff7f0e"/>
<circle cx="80.5" cy="392.9" r="0.95" fill="#ff7f0e"/>
<circle cx="87" cy="396.1" r="0.95" fill="#ff7f0e"/>
<circle cx="88.4" cy="400.6" r="0.95" fill="#ff7f0e"/>
<circle cx="89" cy="400.6" r="0.95" fill="#ff7f0e"/>
<circle cx="88.2" cy="402.8" r="0.95" fill="#ff7f0e"/>
<circle cx="94.9" cy="393.8" r="0.95" fill="#ff7f0e"/>
</g>
<rect x="23.5" y="362.1" width="81.3" height="50.1" fill="none" stroke="#6a6a6a" stroke-width="0.8"/>
<line x1="27.2" y1="412.20000000000005" x2="27.2" y2="414.00000000000006" stroke="#6a6a6a" stroke-width="0.8"/>
<text x="27.2" y="418.6" font-size="5" text-anchor="middle" fill="#262626" class="t">0</text>
<line x1="42.7" y1="412.20000000000005" x2="42.7" y2="414.00000000000006" stroke="#6a6a6a" stroke-width="0.8"/>
<text x="42.7" y="418.6" font-size="5" text-anchor="middle" fill="#262626" class="t">50</text>
<line x1="58.1" y1="412.20000000000005" x2="58.1" y2="414.00000000000006" stroke="#6a6a6a" stroke-width="0.8"/>
<text x="58.1" y="418.6" font-size="5" text-anchor="middle" fill="#262626" class="t">100</text>
<line x1="73.6" y1="412.20000000000005" x2="73.6" y2="414.00000000000006" stroke="#6a6a6a" stroke-width="0.8"/>
<text x="73.6" y="418.6" font-size="5" text-anchor="middle" fill="#262626" class="t">150</text>
<line x1="89.0" y1="412.20000000000005" x2="89.0" y2="414.00000000000006" stroke="#6a6a6a" stroke-width="0.8"/>
<text x="89.0" y="418.6" font-size="5" text-anchor="middle" fill="#262626" class="t">200</text>
<line x1="104.5" y1="412.20000000000005" x2="104.5" y2="414.00000000000006" stroke="#6a6a6a" stroke-width="0.8"/>
<text x="104.5" y="418.6" font-size="5" text-anchor="middle" fill="#262626" class="t">250</text>
<line x1="21.7" y1="376.7" x2="23.5" y2="376.7" stroke="#6a6a6a" stroke-width="0.8"/>
<text x="21.2" y="378.5" font-size="5" text-anchor="end" fill="#262626" class="t">2</text>
<line x1="21.7" y1="394.7" x2="23.5" y2="394.7" stroke="#6a6a6a" stroke-width="0.8"/>
<text x="21.2" y="396.5" font-size="5" text-anchor="end" fill="#262626" class="t">0</text>
<defs><clipPath id="c21"><rect x="121.4" y="362.1" width="81.3" height="50.1"/></clipPath></defs>
<g clip-path="url(#c21)">
<polyline points="125.1,376.3 125.4,381.4 125.7,382.7 126.0,383.4 126.3,383.7 126.6,383.7 127.0,383.7 127.3,383.7 127.6,380.6 127.9,374.9 128.2,371.8 128.5,374.8 128.8,380.9 129.1,385.9 129.4,388.3 129.7,390.2 130.0,392.7 130.4,398.0 130.7,401.7 131.0,399.7 131.3,395.5 131.6,391.5 131.9,388.2 132.2,385.1 132.5,383.7 132.8,384.2 133.1,385.4 133.4,386.5 133.8,387.0 134.1,386.5 134.4,385.3 134.7,383.7 135.0,379.5 135.3,373.7 135.6,370.7 135.9,373.2 136.2,378.5 136.5,383.7 136.8,387.9 137.2,391.8 137.5,394.9 137.8,397.3 138.1,399.5 138.4,401.1 138.7,401.7 139.0,400.8 139.3,398.8 139.6,396.5 139.9,394.9 140.2,393.9 140.6,393.0 140.9,392.7 141.2,393.6 141.5,395.2 141.8,396.1 142.1,394.5 142.4,391.0 142.7,387.5 143.0,385.9 143.3,390.2 143.7,396.1 144.0,399.2 144.3,402.1 144.6,404.6 144.9,406.6 145.2,407.9 145.5,408.4 145.8,402.6 146.1,389.8 146.4,377.1 146.7,371.3 147.1,372.9 147.4,376.6 147.7,380.4 148.0,382.5 148.3,383.1 148.6,383.5 148.9,383.9 149.2,384.1 149.5,384.2 149.8,381.1 150.1,378.0 150.5,381.2 150.8,387.9 151.1,393.8 151.4,398.0 151.7,402.0 152.0,405.0 152.3,406.2 152.6,404.9 152.9,401.6 153.2,396.9 153.5,391.4 153.9,385.9 154.2,378.0 154.5,368.9 154.8,364.5 155.1,369.2 155.4,376.9 155.7,384.0 156.0,388.2 156.3,388.2 156.6,388.1 156.9,388.0 157.3,386.5 157.6,383.9 157.9,382.5 158.2,384.7 158.5,389.4 158.8,393.8 159.1,396.9 159.4,399.9 159.7,402.8 160.0,406.7 160.3,409.0 160.7,406.2 161.0,399.7 161.3,391.8 161.6,385.3 161.9,382.5 162.2,385.7 162.5,391.8 162.8,395.0 163.1,393.2 163.4,390.0 163.8,388.2 164.1,391.6 164.4,395.0 164.7,392.1 165.0,386.6 165.3,383.7 165.6,385.3 165.9,389.2 166.2,393.7 166.5,397.2 166.8,399.8 167.2,402.4 167.5,404.3 167.8,405.1 168.1,402.3 168.4,396.0 168.7,389.3 169.0,381.8 169.3,373.8 169.6,370.1 169.9,377.9 170.2,386.0 170.6,386.6 170.9,386.9 171.2,387.0 171.5,385.1 171.8,380.5 172.1,375.0 172.4,370.4 172.7,368.5 173.0,377.1 173.3,388.2 173.6,392.9 174.0,395.0 174.3,395.0 174.6,394.9 174.9,394.9 175.2,394.8 175.5,394.7 175.8,394.6 176.1,394.5 176.4,394.4 176.7,394.2 177.0,394.0 177.4,393.7 177.7,393.3 178.0,393.0 178.3,392.6 178.6,392.3 178.9,392.0 179.2,391.7 179.5,391.6 179.8,391.5 180.1,392.0 180.4,393.2 180.8,394.7 181.1,396.1 181.4,397.4 181.7,398.9 182.0,400.1 182.3,400.6 182.6,399.0 182.9,395.5 183.2,392.0 183.5,390.4 183.9,391.1 184.2,392.5 184.5,393.8 184.8,394.9 185.1,396.0 185.4,396.9 185.7,397.2 186.0,396.9 186.3,396.0 186.6,395.0 186.9,393.4 187.3,391.1 187.6,389.1 187.9,388.2 188.2,390.2 188.5,394.1 188.8,397.2 189.1,398.8 189.4,400.3 189.7,401.3 190.0,401.7 190.3,401.4 190.7,400.5 191.0,399.4 191.3,398.3 191.6,396.9 191.9,395.2 192.2,393.4 192.5,392.0 192.8,391.5 193.1,393.1 193.4,396.6 193.7,400.1 194.1,401.7 194.4,400.5 194.7,398.4 195.0,397.2 195.3,397.9 195.6,399.6 195.9,401.7 196.2,403.4 196.5,404.8 196.8,406.3 197.1,407.7 197.5,408.6 197.8,409.0 198.1,408.7 198.4,408.0 198.7,406.8 199.0,405.1" fill="none" stroke="#1f77b4" stroke-width="1.0" stroke-linejoin="round"/>
<circle cx="124.9" cy="378" r="2.2" fill="#1f77b4" fill-opacity="0.28"/>
<circle cx="125.2" cy="382.5" r="2.2" fill="#1f77b4" fill-opacity="0.28"/>
<circle cx="129.3" cy="386.7" r="2.2" fill="#1f77b4" fill-opacity="0.28"/>
<circle cx="129.1" cy="390.4" r="2.2" fill="#1f77b4" fill-opacity="0.28"/>
<circle cx="129.9" cy="395.5" r="2.2" fill="#1f77b4" fill-opacity="0.28"/>
<circle cx="138.1" cy="397.2" r="2.2" fill="#1f77b4" fill-opacity="0.28"/>
<circle cx="139.6" cy="399.4" r="2.2" fill="#1f77b4" fill-opacity="0.28"/>
<circle cx="140.4" cy="392.1" r="2.2" fill="#1f77b4" fill-opacity="0.28"/>
<circle cx="142.3" cy="390.4" r="2.2" fill="#1f77b4" fill-opacity="0.28"/>
<circle cx="143" cy="386.5" r="2.2" fill="#1f77b4" fill-opacity="0.28"/>
<circle cx="144.9" cy="403.7" r="2.2" fill="#1f77b4" fill-opacity="0.28"/>
<circle cx="155" cy="375.8" r="2.2" fill="#1f77b4" fill-opacity="0.28"/>
<circle cx="155" cy="383.4" r="2.2" fill="#1f77b4" fill-opacity="0.28"/>
<circle cx="155.6" cy="387.6" r="2.2" fill="#1f77b4" fill-opacity="0.28"/>
<circle cx="156" cy="391" r="2.2" fill="#1f77b4" fill-opacity="0.28"/>
<circle cx="157.9" cy="384.2" r="2.2" fill="#1f77b4" fill-opacity="0.28"/>
<circle cx="158.6" cy="393.5" r="2.2" fill="#1f77b4" fill-opacity="0.28"/>
<circle cx="158.9" cy="395.5" r="2.2" fill="#1f77b4" fill-opacity="0.28"/>
<circle cx="177.3" cy="393.8" r="2.2" fill="#1f77b4" fill-opacity="0.28"/>
<circle cx="178.3" cy="393.6" r="2.2" fill="#1f77b4" fill-opacity="0.28"/>
<circle cx="180.2" cy="391.8" r="2.2" fill="#1f77b4" fill-opacity="0.28"/>
<circle cx="198.9" cy="405.1" r="2.2" fill="#1f77b4" fill-opacity="0.28"/>
<circle cx="124.9" cy="378" r="0.95" fill="#ff7f0e"/>
<circle cx="125.2" cy="382.5" r="0.95" fill="#ff7f0e"/>
<circle cx="129.3" cy="386.7" r="0.95" fill="#ff7f0e"/>
<circle cx="129.1" cy="390.4" r="0.95" fill="#ff7f0e"/>
<circle cx="129.9" cy="395.5" r="0.95" fill="#ff7f0e"/>
<circle cx="138.1" cy="397.2" r="0.95" fill="#ff7f0e"/>
<circle cx="139.6" cy="399.4" r="0.95" fill="#ff7f0e"/>
<circle cx="140.4" cy="392.1" r="0.95" fill="#ff7f0e"/>
<circle cx="142.3" cy="390.4" r="0.95" fill="#ff7f0e"/>
<circle cx="143" cy="386.5" r="0.95" fill="#ff7f0e"/>
<circle cx="144.9" cy="403.7" r="0.95" fill="#ff7f0e"/>
<circle cx="155" cy="375.8" r="0.95" fill="#ff7f0e"/>
<circle cx="155" cy="383.4" r="0.95" fill="#ff7f0e"/>
<circle cx="155.6" cy="387.6" r="0.95" fill="#ff7f0e"/>
<circle cx="156" cy="391" r="0.95" fill="#ff7f0e"/>
<circle cx="157.9" cy="384.2" r="0.95" fill="#ff7f0e"/>
<circle cx="158.6" cy="393.5" r="0.95" fill="#ff7f0e"/>
<circle cx="158.9" cy="395.5" r="0.95" fill="#ff7f0e"/>
<circle cx="177.3" cy="393.8" r="0.95" fill="#ff7f0e"/>
<circle cx="178.3" cy="393.6" r="0.95" fill="#ff7f0e"/>
<circle cx="180.2" cy="391.8" r="0.95" fill="#ff7f0e"/>
<circle cx="198.9" cy="405.1" r="0.95" fill="#ff7f0e"/>
</g>
<rect x="121.4" y="362.1" width="81.3" height="50.1" fill="none" stroke="#6a6a6a" stroke-width="0.8"/>
<line x1="125.1" y1="412.20000000000005" x2="125.1" y2="414.00000000000006" stroke="#6a6a6a" stroke-width="0.8"/>
<text x="125.1" y="418.6" font-size="5" text-anchor="middle" fill="#262626" class="t">0</text>
<line x1="140.6" y1="412.20000000000005" x2="140.6" y2="414.00000000000006" stroke="#6a6a6a" stroke-width="0.8"/>
<text x="140.6" y="418.6" font-size="5" text-anchor="middle" fill="#262626" class="t">50</text>
<line x1="156.0" y1="412.20000000000005" x2="156.0" y2="414.00000000000006" stroke="#6a6a6a" stroke-width="0.8"/>
<text x="156.0" y="418.6" font-size="5" text-anchor="middle" fill="#262626" class="t">100</text>
<line x1="171.5" y1="412.20000000000005" x2="171.5" y2="414.00000000000006" stroke="#6a6a6a" stroke-width="0.8"/>
<text x="171.5" y="418.6" font-size="5" text-anchor="middle" fill="#262626" class="t">150</text>
<line x1="186.9" y1="412.20000000000005" x2="186.9" y2="414.00000000000006" stroke="#6a6a6a" stroke-width="0.8"/>
<text x="186.9" y="418.6" font-size="5" text-anchor="middle" fill="#262626" class="t">200</text>
<line x1="202.4" y1="412.20000000000005" x2="202.4" y2="414.00000000000006" stroke="#6a6a6a" stroke-width="0.8"/>
<text x="202.4" y="418.6" font-size="5" text-anchor="middle" fill="#262626" class="t">250</text>
<line x1="119.60000000000001" y1="371.5" x2="121.4" y2="371.5" stroke="#6a6a6a" stroke-width="0.8"/>
<text x="119.10000000000001" y="373.3" font-size="5" text-anchor="end" fill="#262626" class="t">2</text>
<line x1="119.60000000000001" y1="390.4" x2="121.4" y2="390.4" stroke="#6a6a6a" stroke-width="0.8"/>
<text x="119.10000000000001" y="392.2" font-size="5" text-anchor="end" fill="#262626" class="t">0</text>
<line x1="119.60000000000001" y1="409.4" x2="121.4" y2="409.4" stroke="#6a6a6a" stroke-width="0.8"/>
<text x="119.10000000000001" y="411.2" font-size="5" text-anchor="end" fill="#262626" class="t">−2</text>
<defs><clipPath id="c22"><rect x="219.1" y="362.1" width="81.3" height="50.1"/></clipPath></defs>
<g clip-path="url(#c22)">
<polyline points="222.8,405.1 223.1,401.7 223.4,399.5 223.7,398.3 224.0,397.5 224.3,397.2 224.7,397.8 225.0,399.1 225.3,400.6 225.6,402.3 225.9,404.2 226.2,405.1 226.5,404.4 226.8,402.5 227.1,400.0 227.4,397.3 227.7,395.0 228.1,392.7 228.4,390.3 228.7,389.3 229.0,391.0 229.3,394.4 229.6,397.2 229.9,398.8 230.2,400.1 230.5,400.6 230.8,400.0 231.1,398.9 231.5,398.3 231.8,398.6 232.1,399.5 232.4,400.6 232.7,401.7 233.0,403.0 233.3,404.4 233.6,405.1 233.9,403.2 234.2,399.4 234.5,396.1 234.9,393.9 235.2,391.8 235.5,390.0 235.8,388.7 236.1,388.2 236.4,388.9 236.7,390.4 237.0,392.0 237.3,392.7 237.6,392.1 237.9,391.0 238.3,390.4 238.6,391.3 238.9,393.2 239.2,395.0 239.5,396.4 239.8,397.9 240.1,399.0 240.4,399.5 240.7,398.8 241.0,397.1 241.4,394.9 241.7,392.7 242.0,390.1 242.3,386.8 242.6,383.3 242.9,380.1 243.2,377.8 243.5,376.9 243.8,380.2 244.1,387.6 244.4,395.0 244.8,402.7 245.1,407.3 245.4,406.1 245.7,403.4 246.0,400.0 246.3,397.3 246.6,396.1 246.9,396.7 247.2,398.1 247.5,399.7 247.8,401.1 248.2,401.7 248.5,400.3 248.8,397.1 249.1,393.8 249.4,390.5 249.7,386.8 250.0,383.8 250.3,382.5 250.6,385.0 250.9,390.6 251.2,396.1 251.6,401.6 251.9,407.1 252.2,409.6 252.5,407.8 252.8,403.9 253.1,400.1 253.4,398.3 253.7,399.0 254.0,400.6 254.3,402.1 254.6,402.8 255.0,401.6 255.3,398.4 255.6,394.2 255.9,389.7 256.2,385.9 256.5,382.3 256.8,378.2 257.1,374.2 257.4,370.7 257.7,368.2 258.0,367.3 258.4,370.8 258.7,378.7 259.0,387.0 259.3,396.7 259.6,402.8 259.9,401.2 260.2,397.8 260.5,394.3 260.8,392.7 261.1,393.6 261.5,395.5 261.8,397.4 262.1,398.3 262.4,396.5 262.7,392.6 263.0,388.8 263.3,387.0 263.6,388.1 263.9,390.4 264.2,392.7 264.5,393.8 264.9,392.0 265.2,387.9 265.5,383.8 265.8,382.0 266.1,385.0 266.4,391.1 266.7,396.1 267.0,399.2 267.3,402.1 267.6,404.3 267.9,405.1 268.3,403.6 268.6,401.0 268.9,399.5 269.2,400.3 269.5,402.1 269.8,404.2 270.1,406.0 270.4,406.8 270.7,404.8 271.0,400.3 271.3,395.8 271.7,393.8 272.0,393.8 272.3,393.9 272.6,394.0 272.9,394.1 273.2,394.2 273.5,394.4 273.8,394.6 274.1,394.8 274.4,395.1 274.7,395.3 275.1,395.6 275.4,395.8 275.7,396.0 276.0,396.3 276.3,396.5 276.6,396.8 276.9,397.0 277.2,397.2 277.5,397.4 277.8,397.5 278.1,397.6 278.5,397.7 278.8,397.8 279.1,397.8 279.4,396.4 279.7,393.2 280.0,390.1 280.3,388.7 280.6,390.0 280.9,392.9 281.2,395.9 281.6,397.2 281.9,396.4 282.2,394.6 282.5,392.5 282.8,390.7 283.1,389.9 283.4,390.1 283.7,390.8 284.0,391.7 284.3,392.7 284.6,393.8 285.0,395.3 285.3,397.2 285.6,398.8 285.9,399.5 286.2,398.4 286.5,395.7 286.8,392.5 287.1,389.7 287.4,388.2 287.7,387.8 288.0,387.5 288.4,387.2 288.7,387.1 289.0,387.0 289.3,388.1 289.6,390.4 289.9,392.7 290.2,393.8 290.5,390.1 290.8,383.4 291.1,379.7 291.4,381.2 291.8,384.5 292.1,387.8 292.4,389.3 292.7,388.9 293.0,387.9 293.3,386.5 293.6,384.8 293.9,382.0 294.2,378.2 294.5,374.6 294.8,371.4 295.2,368.1 295.5,365.5 295.8,364.5 296.1,369.2 296.4,379.2" fill="none" stroke="#1f77b4" stroke-width="1.0" stroke-linejoin="round"/>
<circle cx="224.3" cy="398.5" r="2.2" fill="#1f77b4" fill-opacity="0.28"/>
<circle cx="225.2" cy="400.4" r="2.2" fill="#1f77b4" fill-opacity="0.28"/>
<circle cx="223.4" cy="402" r="2.2" fill="#1f77b4" fill-opacity="0.28"/>
<circle cx="225.4" cy="405.1" r="2.2" fill="#1f77b4" fill-opacity="0.28"/>
<circle cx="229" cy="392" r="2.2" fill="#1f77b4" fill-opacity="0.28"/>
<circle cx="229.4" cy="402.8" r="2.2" fill="#1f77b4" fill-opacity="0.28"/>
<circle cx="232" cy="398.9" r="2.2" fill="#1f77b4" fill-opacity="0.28"/>
<circle cx="232.7" cy="401.7" r="2.2" fill="#1f77b4" fill-opacity="0.28"/>
<circle cx="237.8" cy="398.3" r="2.2" fill="#1f77b4" fill-opacity="0.28"/>
<circle cx="246.8" cy="399.5" r="2.2" fill="#1f77b4" fill-opacity="0.28"/>
<circle cx="246" cy="403.4" r="2.2" fill="#1f77b4" fill-opacity="0.28"/>
<circle cx="247.4" cy="404" r="2.2" fill="#1f77b4" fill-opacity="0.28"/>
<circle cx="261.6" cy="393.3" r="2.2" fill="#1f77b4" fill-opacity="0.28"/>
<circle cx="261.6" cy="396.1" r="2.2" fill="#1f77b4" fill-opacity="0.28"/>
<circle cx="262.7" cy="398.9" r="2.2" fill="#1f77b4" fill-opacity="0.28"/>
<circle cx="263.3" cy="387.6" r="2.2" fill="#1f77b4" fill-opacity="0.28"/>
<circle cx="267.8" cy="398.3" r="2.2" fill="#1f77b4" fill-opacity="0.28"/>
<circle cx="268.3" cy="399.5" r="2.2" fill="#1f77b4" fill-opacity="0.28"/>
<circle cx="267.2" cy="402.8" r="2.2" fill="#1f77b4" fill-opacity="0.28"/>
<circle cx="266.9" cy="405.6" r="2.2" fill="#1f77b4" fill-opacity="0.28"/>
<circle cx="281.5" cy="397.2" r="2.2" fill="#1f77b4" fill-opacity="0.28"/>
<circle cx="287.9" cy="387" r="2.2" fill="#1f77b4" fill-opacity="0.28"/>
<circle cx="289" cy="388" r="2.2" fill="#1f77b4" fill-opacity="0.28"/>
<circle cx="224.3" cy="398.5" r="0.95" fill="#ff7f0e"/>
<circle cx="225.2" cy="400.4" r="0.95" fill="#ff7f0e"/>
<circle cx="223.4" cy="402" r="0.95" fill="#ff7f0e"/>
<circle cx="225.4" cy="405.1" r="0.95" fill="#ff7f0e"/>
<circle cx="229" cy="392" r="0.95" fill="#ff7f0e"/>
<circle cx="229.4" cy="402.8" r="0.95" fill="#ff7f0e"/>
<circle cx="232" cy="398.9" r="0.95" fill="#ff7f0e"/>
<circle cx="232.7" cy="401.7" r="0.95" fill="#ff7f0e"/>
<circle cx="237.8" cy="398.3" r="0.95" fill="#ff7f0e"/>
<circle cx="246.8" cy="399.5" r="0.95" fill="#ff7f0e"/>
<circle cx="246" cy="403.4" r="0.95" fill="#ff7f0e"/>
<circle cx="247.4" cy="404" r="0.95" fill="#ff7f0e"/>
<circle cx="261.6" cy="393.3" r="0.95" fill="#ff7f0e"/>
<circle cx="261.6" cy="396.1" r="0.95" fill="#ff7f0e"/>
<circle cx="262.7" cy="398.9" r="0.95" fill="#ff7f0e"/>
<circle cx="263.3" cy="387.6" r="0.95" fill="#ff7f0e"/>
<circle cx="267.8" cy="398.3" r="0.95" fill="#ff7f0e"/>
<circle cx="268.3" cy="399.5" r="0.95" fill="#ff7f0e"/>
<circle cx="267.2" cy="402.8" r="0.95" fill="#ff7f0e"/>
<circle cx="266.9" cy="405.6" r="0.95" fill="#ff7f0e"/>
<circle cx="281.5" cy="397.2" r="0.95" fill="#ff7f0e"/>
<circle cx="287.9" cy="387" r="0.95" fill="#ff7f0e"/>
<circle cx="289" cy="388" r="0.95" fill="#ff7f0e"/>
</g>
<rect x="219.1" y="362.1" width="81.3" height="50.1" fill="none" stroke="#6a6a6a" stroke-width="0.8"/>
<line x1="222.8" y1="412.20000000000005" x2="222.8" y2="414.00000000000006" stroke="#6a6a6a" stroke-width="0.8"/>
<text x="222.8" y="418.6" font-size="5" text-anchor="middle" fill="#262626" class="t">0</text>
<line x1="238.3" y1="412.20000000000005" x2="238.3" y2="414.00000000000006" stroke="#6a6a6a" stroke-width="0.8"/>
<text x="238.3" y="418.6" font-size="5" text-anchor="middle" fill="#262626" class="t">50</text>
<line x1="253.7" y1="412.20000000000005" x2="253.7" y2="414.00000000000006" stroke="#6a6a6a" stroke-width="0.8"/>
<text x="253.7" y="418.6" font-size="5" text-anchor="middle" fill="#262626" class="t">100</text>
<line x1="269.2" y1="412.20000000000005" x2="269.2" y2="414.00000000000006" stroke="#6a6a6a" stroke-width="0.8"/>
<text x="269.2" y="418.6" font-size="5" text-anchor="middle" fill="#262626" class="t">150</text>
<line x1="284.6" y1="412.20000000000005" x2="284.6" y2="414.00000000000006" stroke="#6a6a6a" stroke-width="0.8"/>
<text x="284.6" y="418.6" font-size="5" text-anchor="middle" fill="#262626" class="t">200</text>
<line x1="300.1" y1="412.20000000000005" x2="300.1" y2="414.00000000000006" stroke="#6a6a6a" stroke-width="0.8"/>
<text x="300.1" y="418.6" font-size="5" text-anchor="middle" fill="#262626" class="t">250</text>
<line x1="217.29999999999998" y1="367.3" x2="219.1" y2="367.3" stroke="#6a6a6a" stroke-width="0.8"/>
<text x="216.79999999999998" y="369.1" font-size="5" text-anchor="end" fill="#262626" class="t">4</text>
<line x1="217.29999999999998" y1="382.0" x2="219.1" y2="382.0" stroke="#6a6a6a" stroke-width="0.8"/>
<text x="216.79999999999998" y="383.8" font-size="5" text-anchor="end" fill="#262626" class="t">2</text>
<line x1="217.29999999999998" y1="396.6" x2="219.1" y2="396.6" stroke="#6a6a6a" stroke-width="0.8"/>
<text x="216.79999999999998" y="398.4" font-size="5" text-anchor="end" fill="#262626" class="t">0</text>
<line x1="217.29999999999998" y1="411.3" x2="219.1" y2="411.3" stroke="#6a6a6a" stroke-width="0.8"/>
<text x="216.79999999999998" y="413.1" font-size="5" text-anchor="end" fill="#262626" class="t">−2</text>
<defs><clipPath id="c23"><rect x="316.5" y="362.1" width="81.3" height="50.1"/></clipPath></defs>
<g clip-path="url(#c23)">
<polyline points="320.2,378.6 320.5,383.7 320.8,384.9 321.1,385.6 321.4,386.1 321.7,387.0 322.1,389.0 322.4,390.4 322.7,388.5 323.0,384.2 323.3,379.9 323.6,378.0 323.9,380.5 324.2,385.4 324.5,389.3 324.8,391.2 325.1,392.6 325.5,393.9 325.8,395.0 326.1,396.2 326.4,397.3 326.7,397.8 327.0,394.3 327.3,387.7 327.6,384.2 327.9,385.0 328.2,386.8 328.5,388.9 328.9,390.7 329.2,391.5 329.5,390.8 329.8,389.1 330.1,387.0 330.4,383.3 330.7,378.6 331.0,376.3 331.3,378.5 331.6,383.1 331.9,387.0 332.3,389.4 332.6,391.4 332.9,392.7 333.2,393.6 333.5,394.4 333.8,395.1 334.1,395.6 334.4,396.0 334.7,396.1 335.0,394.6 335.3,391.9 335.7,390.4 336.0,390.8 336.3,391.6 336.6,392.3 336.9,392.7 337.2,391.9 337.5,390.1 337.8,388.4 338.1,387.6 338.4,388.9 338.8,391.6 339.1,393.8 339.4,395.3 339.7,396.7 340.0,398.0 340.3,399.0 340.6,399.7 340.9,400.0 341.2,397.1 341.5,390.1 341.8,381.7 342.2,374.7 342.5,371.8 342.8,377.6 343.1,383.7 343.4,384.2 343.7,384.5 344.0,384.7 344.3,384.8 344.6,384.2 344.9,382.9 345.2,381.5 345.6,380.9 345.9,383.2 346.2,387.8 346.5,391.5 346.8,393.7 347.1,395.7 347.4,397.3 347.7,398.5 348.0,398.9 348.3,395.3 348.6,386.8 349.0,376.6 349.3,368.1 349.6,364.5 349.9,369.2 350.2,378.5 350.5,384.8 350.8,387.0 351.1,388.8 351.4,390.0 351.7,390.4 352.0,389.9 352.4,388.8 352.7,387.5 353.0,386.4 353.3,385.9 353.6,388.1 353.9,391.6 354.2,394.5 354.5,397.6 354.8,400.5 355.1,402.6 355.4,403.4 355.8,402.1 356.1,398.9 356.4,394.6 356.7,390.4 357.0,387.2 357.3,385.9 357.6,388.3 357.9,392.6 358.2,395.0 358.5,394.5 358.9,393.5 359.2,392.1 359.5,391.0 359.8,390.0 360.1,388.8 360.4,388.0 360.7,387.6 361.0,389.4 361.3,393.4 361.6,397.5 361.9,399.5 362.3,399.7 362.6,399.8 362.9,399.9 363.2,400.0 363.5,400.0 363.8,396.0 364.1,387.3 364.4,378.7 364.7,374.7 365.0,378.5 365.3,385.9 365.7,390.4 366.0,391.4 366.3,392.1 366.6,392.5 366.9,392.7 367.2,390.1 367.5,384.2 367.8,378.4 368.1,375.8 368.4,384.4 368.7,393.8 369.1,395.3 369.4,396.3 369.7,396.6 370.0,396.6 370.3,396.5 370.6,396.3 370.9,396.1 371.2,395.9 371.5,395.7 371.8,395.4 372.1,395.1 372.5,394.8 372.8,394.5 373.1,394.3 373.4,394.0 373.7,393.8 374.0,393.6 374.3,393.3 374.6,393.1 374.9,392.8 375.2,392.6 375.5,392.4 375.9,392.2 376.2,392.1 376.5,392.1 376.8,392.6 377.1,393.5 377.4,394.5 377.7,395.0 378.0,394.7 378.3,393.8 378.6,392.7 379.0,391.6 379.3,390.7 379.6,390.4 379.9,391.2 380.2,393.2 380.5,395.5 380.8,397.5 381.1,398.3 381.4,398.1 381.7,397.6 382.0,396.9 382.4,396.1 382.7,394.8 383.0,392.9 383.3,391.1 383.6,390.4 383.9,392.3 384.2,396.0 384.5,398.3 384.8,398.7 385.1,399.1 385.4,399.3 385.8,399.5 386.1,399.5 386.4,399.4 386.7,399.0 387.0,398.6 387.3,398.1 387.6,397.7 387.9,397.3 388.2,397.2 388.5,399.5 388.8,403.9 389.2,406.2 389.5,405.7 389.8,404.6 390.1,403.3 390.4,402.2 390.7,401.7 391.0,402.2 391.3,403.5 391.6,405.1 391.9,406.7 392.2,408.0 392.6,408.5 392.9,408.2 393.2,407.3 393.5,405.9 393.8,404.0 394.1,401.7" fill="none" stroke="#1f77b4" stroke-width="1.0" stroke-linejoin="round"/>
<circle cx="324.3" cy="387.6" r="2.2" fill="#1f77b4" fill-opacity="0.28"/>
<circle cx="335.8" cy="390.6" r="2.2" fill="#1f77b4" fill-opacity="0.28"/>
<circle cx="336.9" cy="391.2" r="2.2" fill="#1f77b4" fill-opacity="0.28"/>
<circle cx="338" cy="391.2" r="2.2" fill="#1f77b4" fill-opacity="0.28"/>
<circle cx="346.5" cy="391.6" r="2.2" fill="#1f77b4" fill-opacity="0.28"/>
<circle cx="350.3" cy="385" r="2.2" fill="#1f77b4" fill-opacity="0.28"/>
<circle cx="350.6" cy="385.4" r="2.2" fill="#1f77b4" fill-opacity="0.28"/>
<circle cx="355.6" cy="401.9" r="2.2" fill="#1f77b4" fill-opacity="0.28"/>
<circle cx="365.6" cy="390.2" r="2.2" fill="#1f77b4" fill-opacity="0.28"/>
<circle cx="375" cy="392.9" r="2.2" fill="#1f77b4" fill-opacity="0.28"/>
<circle cx="376.5" cy="392.5" r="2.2" fill="#1f77b4" fill-opacity="0.28"/>
<circle cx="377.1" cy="395.5" r="2.2" fill="#1f77b4" fill-opacity="0.28"/>
<circle cx="383.8" cy="390.6" r="2.2" fill="#1f77b4" fill-opacity="0.28"/>
<circle cx="383.8" cy="393.2" r="2.2" fill="#1f77b4" fill-opacity="0.28"/>
<circle cx="382.7" cy="396.3" r="2.2" fill="#1f77b4" fill-opacity="0.28"/>
<circle cx="382.1" cy="398.9" r="2.2" fill="#1f77b4" fill-opacity="0.28"/>
<circle cx="384.4" cy="397.8" r="2.2" fill="#1f77b4" fill-opacity="0.28"/>
<circle cx="324.3" cy="387.6" r="0.95" fill="#ff7f0e"/>
<circle cx="335.8" cy="390.6" r="0.95" fill="#ff7f0e"/>
<circle cx="336.9" cy="391.2" r="0.95" fill="#ff7f0e"/>
<circle cx="338" cy="391.2" r="0.95" fill="#ff7f0e"/>
<circle cx="346.5" cy="391.6" r="0.95" fill="#ff7f0e"/>
<circle cx="350.3" cy="385" r="0.95" fill="#ff7f0e"/>
<circle cx="350.6" cy="385.4" r="0.95" fill="#ff7f0e"/>
<circle cx="355.6" cy="401.9" r="0.95" fill="#ff7f0e"/>
<circle cx="365.6" cy="390.2" r="0.95" fill="#ff7f0e"/>
<circle cx="375" cy="392.9" r="0.95" fill="#ff7f0e"/>
<circle cx="376.5" cy="392.5" r="0.95" fill="#ff7f0e"/>
<circle cx="377.1" cy="395.5" r="0.95" fill="#ff7f0e"/>
<circle cx="383.8" cy="390.6" r="0.95" fill="#ff7f0e"/>
<circle cx="383.8" cy="393.2" r="0.95" fill="#ff7f0e"/>
<circle cx="382.7" cy="396.3" r="0.95" fill="#ff7f0e"/>
<circle cx="382.1" cy="398.9" r="0.95" fill="#ff7f0e"/>
<circle cx="384.4" cy="397.8" r="0.95" fill="#ff7f0e"/>
</g>
<rect x="316.5" y="362.1" width="81.3" height="50.1" fill="none" stroke="#6a6a6a" stroke-width="0.8"/>
<line x1="320.2" y1="412.20000000000005" x2="320.2" y2="414.00000000000006" stroke="#6a6a6a" stroke-width="0.8"/>
<text x="320.2" y="418.6" font-size="5" text-anchor="middle" fill="#262626" class="t">0</text>
<line x1="335.7" y1="412.20000000000005" x2="335.7" y2="414.00000000000006" stroke="#6a6a6a" stroke-width="0.8"/>
<text x="335.7" y="418.6" font-size="5" text-anchor="middle" fill="#262626" class="t">50</text>
<line x1="351.1" y1="412.20000000000005" x2="351.1" y2="414.00000000000006" stroke="#6a6a6a" stroke-width="0.8"/>
<text x="351.1" y="418.6" font-size="5" text-anchor="middle" fill="#262626" class="t">100</text>
<line x1="366.6" y1="412.20000000000005" x2="366.6" y2="414.00000000000006" stroke="#6a6a6a" stroke-width="0.8"/>
<text x="366.6" y="418.6" font-size="5" text-anchor="middle" fill="#262626" class="t">150</text>
<line x1="382.0" y1="412.20000000000005" x2="382.0" y2="414.00000000000006" stroke="#6a6a6a" stroke-width="0.8"/>
<text x="382.0" y="418.6" font-size="5" text-anchor="middle" fill="#262626" class="t">200</text>
<line x1="397.5" y1="412.20000000000005" x2="397.5" y2="414.00000000000006" stroke="#6a6a6a" stroke-width="0.8"/>
<text x="397.5" y="418.6" font-size="5" text-anchor="middle" fill="#262626" class="t">250</text>
<line x1="314.7" y1="376.3" x2="316.5" y2="376.3" stroke="#6a6a6a" stroke-width="0.8"/>
<text x="314.2" y="378.1" font-size="5" text-anchor="end" fill="#262626" class="t">2</text>
<line x1="314.7" y1="390.7" x2="316.5" y2="390.7" stroke="#6a6a6a" stroke-width="0.8"/>
<text x="314.2" y="392.5" font-size="5" text-anchor="end" fill="#262626" class="t">0</text>
<line x1="314.7" y1="405.7" x2="316.5" y2="405.7" stroke="#6a6a6a" stroke-width="0.8"/>
<text x="314.2" y="407.5" font-size="5" text-anchor="end" fill="#262626" class="t">−2</text>
<defs><clipPath id="c24"><rect x="414.2" y="362.1" width="81.3" height="50.1"/></clipPath></defs>
<g clip-path="url(#c24)">
<polyline points="417.9,373.0 418.2,376.2 418.5,378.6 418.8,380.1 419.1,381.3 419.4,382.5 419.8,384.3 420.1,386.1 420.4,387.0 420.7,381.8 421.0,372.0 421.3,366.8 421.6,368.9 421.9,373.6 422.2,378.9 422.5,382.5 422.8,384.2 423.2,385.5 423.5,387.0 423.8,389.8 424.1,391.6 424.4,389.8 424.7,385.7 425.0,380.6 425.3,376.5 425.6,374.7 425.9,375.9 426.2,378.9 426.6,382.6 426.9,385.9 427.2,389.5 427.5,391.6 427.8,390.4 428.1,387.6 428.4,384.3 428.7,381.5 429.0,380.3 429.3,381.5 429.6,384.4 430.0,387.8 430.3,390.4 430.6,392.4 430.9,394.2 431.2,395.0 431.5,394.2 431.8,392.2 432.1,389.8 432.4,387.8 432.7,387.0 433.0,389.4 433.4,393.7 433.7,396.1 434.0,395.9 434.3,395.5 434.6,395.0 434.9,393.8 435.2,391.8 435.5,389.5 435.8,387.7 436.1,387.0 436.5,388.5 436.8,391.8 437.1,395.0 437.4,397.8 437.7,400.7 438.0,403.1 438.3,404.0 438.6,402.9 438.9,400.0 439.2,396.0 439.5,391.6 439.9,384.1 440.2,374.7 440.5,370.1 440.8,371.1 441.1,373.1 441.4,374.7 441.7,375.3 442.0,375.8 442.3,376.2 442.6,376.9 442.9,378.8 443.3,381.8 443.6,384.7 443.9,385.9 444.2,384.4 444.5,381.8 444.8,380.3 445.1,383.6 445.4,391.0 445.7,398.4 446.0,401.7 446.3,397.8 446.7,388.6 447.0,377.6 447.3,368.4 447.6,364.5 447.9,366.0 448.2,369.6 448.5,374.0 448.8,381.7 449.1,391.4 449.4,396.1 449.7,394.2 450.1,389.9 450.4,385.6 450.7,383.7 451.0,385.5 451.3,389.7 451.6,394.6 451.9,398.3 452.2,400.9 452.5,403.5 452.8,405.7 453.1,407.3 453.5,407.9 453.8,405.9 454.1,401.0 454.4,395.1 454.7,390.2 455.0,388.2 455.3,389.4 455.6,392.1 455.9,394.9 456.2,396.1 456.6,395.5 456.9,395.0 457.2,395.7 457.5,397.2 457.8,398.8 458.1,399.5 458.4,397.9 458.7,394.4 459.0,390.9 459.3,389.3 459.6,390.0 460.0,391.6 460.3,393.1 460.6,393.8 460.9,392.0 461.2,387.7 461.5,382.0 461.8,376.2 462.1,371.9 462.4,370.1 462.7,371.9 463.0,376.1 463.4,381.0 463.7,384.8 464.0,387.7 464.3,389.3 464.6,385.5 464.9,377.2 465.2,368.9 465.5,365.1 465.8,370.5 466.1,380.8 466.4,387.0 466.8,388.0 467.1,388.7 467.4,389.1 467.7,389.3 468.0,389.2 468.3,389.0 468.6,388.7 468.9,388.4 469.2,388.0 469.5,387.5 469.8,387.1 470.2,386.8 470.5,386.5 470.8,386.3 471.1,386.0 471.4,385.7 471.7,385.5 472.0,385.3 472.3,385.1 472.6,384.9 472.9,384.8 473.2,384.8 473.6,385.0 473.9,385.6 474.2,386.4 474.5,387.3 474.8,388.2 475.1,389.4 475.4,390.9 475.7,392.2 476.0,392.7 476.3,391.6 476.7,389.3 477.0,387.0 477.3,385.9 477.6,387.2 477.9,390.3 478.2,394.3 478.5,398.4 478.8,401.5 479.1,402.8 479.4,401.1 479.7,397.3 480.1,393.8 480.4,390.9 480.7,387.7 481.0,384.9 481.3,382.8 481.6,382.0 481.9,384.0 482.2,388.3 482.5,392.8 482.8,395.0 483.1,395.3 483.5,395.6 483.8,395.8 484.1,396.0 484.4,396.1 484.7,396.1 485.0,395.9 485.3,395.3 485.6,394.6 485.9,394.0 486.2,393.8 486.5,399.5 486.9,405.1 487.2,404.6 487.5,403.5 487.8,402.2 488.1,401.1 488.4,400.6 488.7,401.1 489.0,402.3 489.3,403.9 489.6,405.7 489.9,407.3 490.3,408.5 490.6,409.0 490.9,408.7 491.2,407.9 491.5,406.7 491.8,405.1" fill="none" stroke="#1f77b4" stroke-width="1.0" stroke-linejoin="round"/>
<circle cx="419.4" cy="384.2" r="2.2" fill="#1f77b4" fill-opacity="0.28"/>
<circle cx="422.3" cy="376.9" r="2.2" fill="#1f77b4" fill-opacity="0.28"/>
<circle cx="422.8" cy="380.9" r="2.2" fill="#1f77b4" fill-opacity="0.28"/>
<circle cx="422" cy="383.7" r="2.2" fill="#1f77b4" fill-opacity="0.28"/>
<circle cx="428" cy="386.8" r="2.2" fill="#1f77b4" fill-opacity="0.28"/>
<circle cx="433.8" cy="398.6" r="2.2" fill="#1f77b4" fill-opacity="0.28"/>
<circle cx="447.9" cy="373" r="2.2" fill="#1f77b4" fill-opacity="0.28"/>
<circle cx="448" cy="373" r="2.2" fill="#1f77b4" fill-opacity="0.28"/>
<circle cx="458.4" cy="388.7" r="2.2" fill="#1f77b4" fill-opacity="0.28"/>
<circle cx="459.1" cy="391.6" r="2.2" fill="#1f77b4" fill-opacity="0.28"/>
<circle cx="459.8" cy="394.4" r="2.2" fill="#1f77b4" fill-opacity="0.28"/>
<circle cx="461.3" cy="395" r="2.2" fill="#1f77b4" fill-opacity="0.28"/>
<circle cx="460.2" cy="398.9" r="2.2" fill="#1f77b4" fill-opacity="0.28"/>
<circle cx="461" cy="401.1" r="2.2" fill="#1f77b4" fill-opacity="0.28"/>
<circle cx="458.7" cy="402.8" r="2.2" fill="#1f77b4" fill-opacity="0.28"/>
<circle cx="470.5" cy="386.5" r="2.2" fill="#1f77b4" fill-opacity="0.28"/>
<circle cx="473.7" cy="385.7" r="2.2" fill="#1f77b4" fill-opacity="0.28"/>
<circle cx="486.1" cy="392.9" r="2.2" fill="#1f77b4" fill-opacity="0.28"/>
<circle cx="486.9" cy="404.5" r="2.2" fill="#1f77b4" fill-opacity="0.28"/>
<circle cx="486.3" cy="406.2" r="2.2" fill="#1f77b4" fill-opacity="0.28"/>
<circle cx="419.4" cy="384.2" r="0.95" fill="#ff7f0e"/>
<circle cx="422.3" cy="376.9" r="0.95" fill="#ff7f0e"/>
<circle cx="422.8" cy="380.9" r="0.95" fill="#ff7f0e"/>
<circle cx="422" cy="383.7" r="0.95" fill="#ff7f0e"/>
<circle cx="428" cy="386.8" r="0.95" fill="#ff7f0e"/>
<circle cx="433.8" cy="398.6" r="0.95" fill="#ff7f0e"/>
<circle cx="447.9" cy="373" r="0.95" fill="#ff7f0e"/>
<circle cx="448" cy="373" r="0.95" fill="#ff7f0e"/>
<circle cx="458.4" cy="388.7" r="0.95" fill="#ff7f0e"/>
<circle cx="459.1" cy="391.6" r="0.95" fill="#ff7f0e"/>
<circle cx="459.8" cy="394.4" r="0.95" fill="#ff7f0e"/>
<circle cx="461.3" cy="395" r="0.95" fill="#ff7f0e"/>
<circle cx="460.2" cy="398.9" r="0.95" fill="#ff7f0e"/>
<circle cx="461" cy="401.1" r="0.95" fill="#ff7f0e"/>
<circle cx="458.7" cy="402.8" r="0.95" fill="#ff7f0e"/>
<circle cx="470.5" cy="386.5" r="0.95" fill="#ff7f0e"/>
<circle cx="473.7" cy="385.7" r="0.95" fill="#ff7f0e"/>
<circle cx="486.1" cy="392.9" r="0.95" fill="#ff7f0e"/>
<circle cx="486.9" cy="404.5" r="0.95" fill="#ff7f0e"/>
<circle cx="486.3" cy="406.2" r="0.95" fill="#ff7f0e"/>
</g>
<rect x="414.2" y="362.1" width="81.3" height="50.1" fill="none" stroke="#6a6a6a" stroke-width="0.8"/>
<line x1="417.9" y1="412.20000000000005" x2="417.9" y2="414.00000000000006" stroke="#6a6a6a" stroke-width="0.8"/>
<text x="417.9" y="418.6" font-size="5" text-anchor="middle" fill="#262626" class="t">0</text>
<line x1="433.4" y1="412.20000000000005" x2="433.4" y2="414.00000000000006" stroke="#6a6a6a" stroke-width="0.8"/>
<text x="433.4" y="418.6" font-size="5" text-anchor="middle" fill="#262626" class="t">50</text>
<line x1="448.8" y1="412.20000000000005" x2="448.8" y2="414.00000000000006" stroke="#6a6a6a" stroke-width="0.8"/>
<text x="448.8" y="418.6" font-size="5" text-anchor="middle" fill="#262626" class="t">100</text>
<line x1="464.3" y1="412.20000000000005" x2="464.3" y2="414.00000000000006" stroke="#6a6a6a" stroke-width="0.8"/>
<text x="464.3" y="418.6" font-size="5" text-anchor="middle" fill="#262626" class="t">150</text>
<line x1="479.7" y1="412.20000000000005" x2="479.7" y2="414.00000000000006" stroke="#6a6a6a" stroke-width="0.8"/>
<text x="479.7" y="418.6" font-size="5" text-anchor="middle" fill="#262626" class="t">200</text>
<line x1="495.2" y1="412.20000000000005" x2="495.2" y2="414.00000000000006" stroke="#6a6a6a" stroke-width="0.8"/>
<text x="495.2" y="418.6" font-size="5" text-anchor="middle" fill="#262626" class="t">250</text>
<line x1="412.4" y1="368.8" x2="414.2" y2="368.8" stroke="#6a6a6a" stroke-width="0.8"/>
<text x="411.9" y="370.6" font-size="5" text-anchor="end" fill="#262626" class="t">2</text>
<line x1="412.4" y1="378.9" x2="414.2" y2="378.9" stroke="#6a6a6a" stroke-width="0.8"/>
<text x="411.9" y="380.7" font-size="5" text-anchor="end" fill="#262626" class="t">1</text>
<line x1="412.4" y1="389.3" x2="414.2" y2="389.3" stroke="#6a6a6a" stroke-width="0.8"/>
<text x="411.9" y="391.1" font-size="5" text-anchor="end" fill="#262626" class="t">0</text>
<line x1="412.4" y1="399.5" x2="414.2" y2="399.5" stroke="#6a6a6a" stroke-width="0.8"/>
<text x="411.9" y="401.3" font-size="5" text-anchor="end" fill="#262626" class="t">−1</text>
<line x1="412.4" y1="409.6" x2="414.2" y2="409.6" stroke="#6a6a6a" stroke-width="0.8"/>
<text x="411.9" y="411.4" font-size="5" text-anchor="end" fill="#262626" class="t">−2</text>
<defs><clipPath id="c30"><rect x="23.5" y="422.0" width="81.3" height="50.1"/></clipPath></defs>
<g clip-path="url(#c30)">
<polyline points="27.2,466.2 27.5,465.9 27.8,464.8 28.1,462.8 28.4,425.1 28.7,430.8 29.1,441.6 29.4,448.2 29.7,449.4 30.0,450.1 30.3,450.4 30.6,449.7 30.9,448.0 31.2,445.9 31.5,442.0 31.8,439.2 32.1,441.8 32.5,447.1 32.8,451.5 33.1,453.9 33.4,455.8 33.7,457.6 34.0,459.4 34.3,461.7 34.6,464.1 34.9,465.1 35.2,459.1 35.5,445.9 35.9,432.8 36.2,426.8 36.5,431.4 36.8,440.3 37.1,445.9 37.4,447.3 37.7,448.4 38.0,449.1 38.3,449.3 38.6,445.9 38.9,442.5 39.3,442.9 39.6,443.9 39.9,445.4 40.2,447.0 40.5,449.2 40.8,452.2 41.1,454.9 41.4,457.6 41.7,460.3 42.0,462.5 42.3,463.4 42.7,459.4 43.0,449.7 43.3,438.2 43.6,428.5 43.9,424.5 44.2,431.0 44.5,439.2 44.8,442.3 45.1,444.7 45.4,446.4 45.8,447.0 46.1,445.6 46.4,442.5 46.7,439.4 47.0,438.0 47.3,439.9 47.6,444.2 47.9,448.2 48.2,451.7 48.5,455.6 48.8,459.2 49.2,461.8 49.5,462.8 49.8,458.5 50.1,449.0 50.4,439.5 50.7,435.2 51.0,437.0 51.3,441.1 51.6,445.2 51.9,447.0 52.2,446.6 52.6,445.7 52.9,444.7 53.2,443.7 53.5,442.8 53.8,442.0 54.1,441.4 54.4,441.0 54.7,440.6 55.0,440.4 55.3,440.3 55.6,440.9 56.0,442.4 56.3,444.5 56.6,447.0 56.9,451.6 57.2,457.6 57.5,460.6 57.8,458.7 58.1,454.5 58.4,449.9 58.7,447.0 59.0,445.9 59.4,445.2 59.7,444.5 60.0,443.7 60.3,442.5 60.6,441.0 60.9,439.5 61.2,438.4 61.5,438.0 61.8,441.5 62.1,448.0 62.4,451.5 62.8,447.4 63.1,439.9 63.4,435.8 63.7,437.2 64.0,440.6 64.3,445.0 64.6,449.3 64.9,454.5 65.2,460.2 65.5,462.8 65.9,461.6 66.2,459.5 66.5,458.3 66.8,458.5 67.1,458.9 67.4,459.2 67.7,459.4 68.0,458.3 68.3,456.2 68.6,454.9 68.9,454.5 69.3,454.2 69.6,454.0 69.9,453.8 70.2,453.8 70.5,454.6 70.8,456.7 71.1,459.2 71.4,461.7 71.7,464.6 72.0,467.6 72.3,469.0 72.7,467.3 73.0,463.7 73.3,460.0 73.6,458.3 73.9,460.1 74.2,463.3 74.5,465.1 74.8,464.7 75.1,463.8 75.4,462.7 75.7,461.7 76.1,460.6 76.4,459.4 76.7,458.4 77.0,458.0 77.3,459.8 77.6,463.3 77.9,465.9 78.2,467.2 78.5,468.3 78.8,469.3 79.1,469.9 79.5,470.1 79.8,464.7 80.1,454.7 80.4,449.3 80.7,450.5 81.0,452.6 81.3,453.8 81.6,453.6 81.9,453.1 82.2,452.4 82.5,451.5 82.9,449.9 83.2,447.4 83.5,445.2 83.8,444.2 84.1,444.2 84.4,444.2 84.7,444.2 85.0,444.2 85.3,444.2 85.6,444.2 86.0,444.2 86.3,444.2 86.6,444.2 86.9,444.2 87.2,444.2 87.5,444.2 87.8,444.7 88.1,446.0 88.4,447.6 88.7,449.3 89.0,451.3 89.4,453.8 89.7,456.3 90.0,458.1 90.3,458.9 90.6,458.5 90.9,457.6 91.2,456.3 91.5,455.1 91.8,454.2 92.1,453.8 92.4,455.1 92.8,458.2 93.1,461.8 93.4,464.9 93.7,466.2 94.0,464.0 94.3,458.6 94.6,451.5 94.9,444.5 95.2,439.1 95.5,436.9 95.8,438.9 96.2,443.6 96.5,449.3 96.8,454.0 97.1,456.0 97.4,454.8 97.7,451.8 98.0,448.4 98.3,445.4 98.6,444.2 98.9,445.4 99.2,448.4 99.6,451.9 99.9,454.9 100.2,457.1 100.5,459.2 100.8,461.1 101.1,462.8" fill="none" stroke="#1f77b4" stroke-width="1.0" stroke-linejoin="round"/>
<circle cx="39.3" cy="440.8" r="2.2" fill="#1f77b4" fill-opacity="0.28"/>
<circle cx="39" cy="443.7" r="2.2" fill="#1f77b4" fill-opacity="0.28"/>
<circle cx="38.4" cy="447.5" r="2.2" fill="#1f77b4" fill-opacity="0.28"/>
<circle cx="37.6" cy="449.2" r="2.2" fill="#1f77b4" fill-opacity="0.28"/>
<circle cx="41.2" cy="450.4" r="2.2" fill="#1f77b4" fill-opacity="0.28"/>
<circle cx="41.6" cy="455.2" r="2.2" fill="#1f77b4" fill-opacity="0.28"/>
<circle cx="41.8" cy="458.9" r="2.2" fill="#1f77b4" fill-opacity="0.28"/>
<circle cx="44.1" cy="438.9" r="2.2" fill="#1f77b4" fill-opacity="0.28"/>
<circle cx="44.9" cy="448.2" r="2.2" fill="#1f77b4" fill-opacity="0.28"/>
<circle cx="45.5" cy="449.6" r="2.2" fill="#1f77b4" fill-opacity="0.28"/>
<circle cx="52.2" cy="449.9" r="2.2" fill="#1f77b4" fill-opacity="0.28"/>
<circle cx="63.5" cy="436.9" r="2.2" fill="#1f77b4" fill-opacity="0.28"/>
<circle cx="76.3" cy="457.2" r="2.2" fill="#1f77b4" fill-opacity="0.28"/>
<circle cx="75.8" cy="461.7" r="2.2" fill="#1f77b4" fill-opacity="0.28"/>
<circle cx="77.8" cy="464" r="2.2" fill="#1f77b4" fill-opacity="0.28"/>
<circle cx="78.6" cy="465.6" r="2.2" fill="#1f77b4" fill-opacity="0.28"/>
<circle cx="79.4" cy="468.7" r="2.2" fill="#1f77b4" fill-opacity="0.28"/>
<circle cx="81.4" cy="454.9" r="2.2" fill="#1f77b4" fill-opacity="0.28"/>
<circle cx="92.6" cy="454" r="2.2" fill="#1f77b4" fill-opacity="0.28"/>
<circle cx="92.9" cy="456.3" r="2.2" fill="#1f77b4" fill-opacity="0.28"/>
<circle cx="93.8" cy="466.2" r="2.2" fill="#1f77b4" fill-opacity="0.28"/>
<circle cx="39.3" cy="440.8" r="0.95" fill="#ff7f0e"/>
<circle cx="39" cy="443.7" r="0.95" fill="#ff7f0e"/>
<circle cx="38.4" cy="447.5" r="0.95" fill="#ff7f0e"/>
<circle cx="37.6" cy="449.2" r="0.95" fill="#ff7f0e"/>
<circle cx="41.2" cy="450.4" r="0.95" fill="#ff7f0e"/>
<circle cx="41.6" cy="455.2" r="0.95" fill="#ff7f0e"/>
<circle cx="41.8" cy="458.9" r="0.95" fill="#ff7f0e"/>
<circle cx="44.1" cy="438.9" r="0.95" fill="#ff7f0e"/>
<circle cx="44.9" cy="448.2" r="0.95" fill="#ff7f0e"/>
<circle cx="45.5" cy="449.6" r="0.95" fill="#ff7f0e"/>
<circle cx="52.2" cy="449.9" r="0.95" fill="#ff7f0e"/>
<circle cx="63.5" cy="436.9" r="0.95" fill="#ff7f0e"/>
<circle cx="76.3" cy="457.2" r="0.95" fill="#ff7f0e"/>
<circle cx="75.8" cy="461.7" r="0.95" fill="#ff7f0e"/>
<circle cx="77.8" cy="464" r="0.95" fill="#ff7f0e"/>
<circle cx="78.6" cy="465.6" r="0.95" fill="#ff7f0e"/>
<circle cx="79.4" cy="468.7" r="0.95" fill="#ff7f0e"/>
<circle cx="81.4" cy="454.9" r="0.95" fill="#ff7f0e"/>
<circle cx="92.6" cy="454" r="0.95" fill="#ff7f0e"/>
<circle cx="92.9" cy="456.3" r="0.95" fill="#ff7f0e"/>
<circle cx="93.8" cy="466.2" r="0.95" fill="#ff7f0e"/>
</g>
<rect x="23.5" y="422.0" width="81.3" height="50.1" fill="none" stroke="#6a6a6a" stroke-width="0.8"/>
<line x1="27.2" y1="472.1" x2="27.2" y2="473.90000000000003" stroke="#6a6a6a" stroke-width="0.8"/>
<text x="27.2" y="478.5" font-size="5" text-anchor="middle" fill="#262626" class="t">0</text>
<line x1="42.7" y1="472.1" x2="42.7" y2="473.90000000000003" stroke="#6a6a6a" stroke-width="0.8"/>
<text x="42.7" y="478.5" font-size="5" text-anchor="middle" fill="#262626" class="t">50</text>
<line x1="58.1" y1="472.1" x2="58.1" y2="473.90000000000003" stroke="#6a6a6a" stroke-width="0.8"/>
<text x="58.1" y="478.5" font-size="5" text-anchor="middle" fill="#262626" class="t">100</text>
<line x1="73.6" y1="472.1" x2="73.6" y2="473.90000000000003" stroke="#6a6a6a" stroke-width="0.8"/>
<text x="73.6" y="478.5" font-size="5" text-anchor="middle" fill="#262626" class="t">150</text>
<line x1="89.0" y1="472.1" x2="89.0" y2="473.90000000000003" stroke="#6a6a6a" stroke-width="0.8"/>
<text x="89.0" y="478.5" font-size="5" text-anchor="middle" fill="#262626" class="t">200</text>
<line x1="104.5" y1="472.1" x2="104.5" y2="473.90000000000003" stroke="#6a6a6a" stroke-width="0.8"/>
<text x="104.5" y="478.5" font-size="5" text-anchor="middle" fill="#262626" class="t">250</text>
<line x1="21.7" y1="436.7" x2="23.5" y2="436.7" stroke="#6a6a6a" stroke-width="0.8"/>
<text x="21.2" y="438.5" font-size="5" text-anchor="end" fill="#262626" class="t">2</text>
<line x1="21.7" y1="454.4" x2="23.5" y2="454.4" stroke="#6a6a6a" stroke-width="0.8"/>
<text x="21.2" y="456.2" font-size="5" text-anchor="end" fill="#262626" class="t">0</text>
<defs><clipPath id="c31"><rect x="121.4" y="422.0" width="81.3" height="50.1"/></clipPath></defs>
<g clip-path="url(#c31)">
<polyline points="125.1,466.2 125.4,464.5 125.7,460.6 126.0,449.9 126.3,434.6 126.6,426.8 127.0,436.2 127.3,445.9 127.6,446.5 127.9,446.9 128.2,447.0 128.5,444.4 128.8,439.5 129.1,436.9 129.4,438.9 129.7,443.2 130.0,447.0 130.4,449.4 130.7,451.5 131.0,454.0 131.3,456.8 131.6,459.7 131.9,462.1 132.2,463.8 132.5,464.5 132.8,458.9 133.1,446.5 133.4,434.1 133.8,428.5 134.1,432.9 134.4,441.1 134.7,445.9 135.0,446.4 135.3,446.7 135.6,446.9 135.9,447.0 136.2,445.3 136.5,442.0 136.8,440.3 137.2,441.5 137.5,444.4 137.8,447.8 138.1,450.4 138.4,451.9 138.7,453.2 139.0,454.9 139.3,458.5 139.6,462.9 139.9,465.1 140.2,461.6 140.6,453.2 140.9,443.2 141.2,434.8 141.5,431.3 141.8,433.4 142.1,438.0 142.4,442.9 142.7,445.9 143.0,447.0 143.3,447.9 143.7,448.2 144.0,445.7 144.3,441.1 144.6,438.6 144.9,439.6 145.2,442.1 145.5,445.2 145.8,448.2 146.1,451.5 146.4,455.5 146.7,459.3 147.1,462.2 147.4,463.4 147.7,460.4 148.0,453.3 148.3,444.7 148.6,437.6 148.9,434.6 149.2,437.9 149.5,444.2 149.8,448.2 150.1,449.1 150.5,449.8 150.8,450.2 151.1,450.4 151.4,448.1 151.7,443.7 152.0,441.4 152.3,441.6 152.6,442.2 152.9,443.0 153.2,443.7 153.5,444.3 153.9,445.0 154.2,446.0 154.5,449.2 154.8,454.5 155.1,459.5 155.4,461.7 155.7,459.9 156.0,456.0 156.3,452.2 156.6,450.4 156.9,450.8 157.3,451.6 157.6,452.3 157.9,452.7 158.2,451.6 158.5,449.3 158.8,447.0 159.1,445.9 159.4,446.8 159.7,448.7 160.0,450.6 160.3,451.5 160.7,448.8 161.0,443.6 161.3,440.9 161.6,444.0 161.9,450.5 162.2,456.0 162.5,459.6 162.8,462.7 163.1,464.0 163.4,463.6 163.8,462.7 164.1,461.5 164.4,460.3 164.7,459.4 165.0,458.7 165.3,457.9 165.6,457.2 165.9,456.6 166.2,456.2 166.5,456.0 166.8,456.1 167.2,456.5 167.5,457.0 167.8,457.6 168.1,458.3 168.4,459.6 168.7,461.9 169.0,464.5 169.3,467.0 169.6,468.9 169.9,469.6 170.2,465.2 170.6,457.1 170.9,452.7 171.2,453.2 171.5,454.4 171.8,455.5 172.1,456.0 172.4,455.9 172.7,455.7 173.0,455.4 173.3,455.0 173.6,453.7 174.0,451.4 174.3,449.2 174.6,448.2 174.9,450.4 175.2,455.1 175.5,459.4 175.8,462.8 176.1,465.9 176.4,467.3 176.7,466.6 177.0,464.9 177.4,462.4 177.7,459.4 178.0,452.9 178.3,444.1 178.6,439.7 178.9,440.5 179.2,442.3 179.5,444.4 179.8,445.9 180.1,446.9 180.4,447.8 180.8,448.2 181.1,445.6 181.4,440.5 181.7,436.9 182.0,435.6 182.3,434.6 182.6,433.8 182.9,433.1 183.2,432.4 183.5,431.6 183.9,430.9 184.2,430.2 184.5,429.5 184.8,428.8 185.1,427.9 185.4,426.6 185.7,425.2 186.0,424.5 186.3,430.2 186.6,440.9 186.9,447.0 187.3,447.4 187.6,447.8 187.9,448.0 188.2,448.2 188.5,448.2 188.8,447.3 189.1,445.0 189.4,442.4 189.7,440.1 190.0,439.2 190.3,442.2 190.7,448.4 191.0,453.8 191.3,457.6 191.6,461.3 191.9,464.0 192.2,465.1 192.5,459.6 192.8,447.6 193.1,435.6 193.4,430.1 193.7,435.1 194.1,444.7 194.4,450.4 194.7,451.2 195.0,451.5 195.3,450.0 195.6,446.6 195.9,442.4 196.2,439.0 196.5,437.5 196.8,438.6 197.1,441.4 197.5,445.0 197.8,448.6 198.1,451.5 198.4,453.6 198.7,455.5 199.0,457.2" fill="none" stroke="#1f77b4" stroke-width="1.0" stroke-linejoin="round"/>
<circle cx="132.5" cy="464.2" r="2.2" fill="#1f77b4" fill-opacity="0.28"/>
<circle cx="151.1" cy="449.5" r="2.2" fill="#1f77b4" fill-opacity="0.28"/>
<circle cx="152.4" cy="444.8" r="2.2" fill="#1f77b4" fill-opacity="0.28"/>
<circle cx="157.2" cy="451.8" r="2.2" fill="#1f77b4" fill-opacity="0.28"/>
<circle cx="160.8" cy="449.5" r="2.2" fill="#1f77b4" fill-opacity="0.28"/>
<circle cx="177.9" cy="452.9" r="2.2" fill="#1f77b4" fill-opacity="0.28"/>
<circle cx="177.6" cy="463.4" r="2.2" fill="#1f77b4" fill-opacity="0.28"/>
<circle cx="177.2" cy="465" r="2.2" fill="#1f77b4" fill-opacity="0.28"/>
<circle cx="183.5" cy="431.8" r="2.2" fill="#1f77b4" fill-opacity="0.28"/>
<circle cx="185" cy="427.9" r="2.2" fill="#1f77b4" fill-opacity="0.28"/>
<circle cx="186.1" cy="424.7" r="2.2" fill="#1f77b4" fill-opacity="0.28"/>
<circle cx="186.7" cy="447" r="2.2" fill="#1f77b4" fill-opacity="0.28"/>
<circle cx="195.9" cy="443.1" r="2.2" fill="#1f77b4" fill-opacity="0.28"/>
<circle cx="132.5" cy="464.2" r="0.95" fill="#ff7f0e"/>
<circle cx="151.1" cy="449.5" r="0.95" fill="#ff7f0e"/>
<circle cx="152.4" cy="444.8" r="0.95" fill="#ff7f0e"/>
<circle cx="157.2" cy="451.8" r="0.95" fill="#ff7f0e"/>
<circle cx="160.8" cy="449.5" r="0.95" fill="#ff7f0e"/>
<circle cx="177.9" cy="452.9" r="0.95" fill="#ff7f0e"/>
<circle cx="177.6" cy="463.4" r="0.95" fill="#ff7f0e"/>
<circle cx="177.2" cy="465" r="0.95" fill="#ff7f0e"/>
<circle cx="183.5" cy="431.8" r="0.95" fill="#ff7f0e"/>
<circle cx="185" cy="427.9" r="0.95" fill="#ff7f0e"/>
<circle cx="186.1" cy="424.7" r="0.95" fill="#ff7f0e"/>
<circle cx="186.7" cy="447" r="0.95" fill="#ff7f0e"/>
<circle cx="195.9" cy="443.1" r="0.95" fill="#ff7f0e"/>
</g>
<rect x="121.4" y="422.0" width="81.3" height="50.1" fill="none" stroke="#6a6a6a" stroke-width="0.8"/>
<line x1="125.1" y1="472.1" x2="125.1" y2="473.90000000000003" stroke="#6a6a6a" stroke-width="0.8"/>
<text x="125.1" y="478.5" font-size="5" text-anchor="middle" fill="#262626" class="t">0</text>
<line x1="140.6" y1="472.1" x2="140.6" y2="473.90000000000003" stroke="#6a6a6a" stroke-width="0.8"/>
<text x="140.6" y="478.5" font-size="5" text-anchor="middle" fill="#262626" class="t">50</text>
<line x1="156.0" y1="472.1" x2="156.0" y2="473.90000000000003" stroke="#6a6a6a" stroke-width="0.8"/>
<text x="156.0" y="478.5" font-size="5" text-anchor="middle" fill="#262626" class="t">100</text>
<line x1="171.5" y1="472.1" x2="171.5" y2="473.90000000000003" stroke="#6a6a6a" stroke-width="0.8"/>
<text x="171.5" y="478.5" font-size="5" text-anchor="middle" fill="#262626" class="t">150</text>
<line x1="186.9" y1="472.1" x2="186.9" y2="473.90000000000003" stroke="#6a6a6a" stroke-width="0.8"/>
<text x="186.9" y="478.5" font-size="5" text-anchor="middle" fill="#262626" class="t">200</text>
<line x1="202.4" y1="472.1" x2="202.4" y2="473.90000000000003" stroke="#6a6a6a" stroke-width="0.8"/>
<text x="202.4" y="478.5" font-size="5" text-anchor="middle" fill="#262626" class="t">250</text>
<line x1="119.60000000000001" y1="436.7" x2="121.4" y2="436.7" stroke="#6a6a6a" stroke-width="0.8"/>
<text x="119.10000000000001" y="438.5" font-size="5" text-anchor="end" fill="#262626" class="t">2</text>
<line x1="119.60000000000001" y1="452.9" x2="121.4" y2="452.9" stroke="#6a6a6a" stroke-width="0.8"/>
<text x="119.10000000000001" y="454.7" font-size="5" text-anchor="end" fill="#262626" class="t">0</text>
<line x1="119.60000000000001" y1="469.2" x2="121.4" y2="469.2" stroke="#6a6a6a" stroke-width="0.8"/>
<text x="119.10000000000001" y="471.0" font-size="5" text-anchor="end" fill="#262626" class="t">−2</text>
<defs><clipPath id="c32"><rect x="219.1" y="422.0" width="81.3" height="50.1"/></clipPath></defs>
<g clip-path="url(#c32)">
<polyline points="222.8,439.7 223.1,442.7 223.4,447.0 223.7,455.0 224.0,464.8 224.3,469.6 224.7,466.7 225.0,461.2 225.3,458.3 225.6,459.0 225.9,460.5 226.2,461.7 226.5,462.5 226.8,463.2 227.1,463.8 227.4,464.0 227.7,463.2 228.1,461.3 228.4,458.7 228.7,456.0 229.0,453.8 229.3,451.8 229.6,449.7 229.9,447.8 230.2,446.4 230.5,445.9 230.8,448.8 231.1,454.4 231.5,458.3 231.8,459.7 232.1,460.9 232.4,461.8 232.7,462.4 233.0,462.8 233.3,463.0 233.6,463.2 233.9,463.3 234.2,463.4 234.5,463.4 234.9,463.1 235.2,462.3 235.5,461.2 235.8,459.8 236.1,458.3 236.4,455.9 236.7,452.5 237.0,448.8 237.3,446.0 237.6,444.8 237.9,448.7 238.3,456.7 238.6,462.8 238.9,466.0 239.2,468.6 239.5,469.6 239.8,469.0 240.1,467.6 240.4,465.8 240.7,464.0 241.0,462.8 241.4,462.1 241.7,461.6 242.0,461.2 242.3,460.7 242.6,460.2 242.9,459.4 243.2,457.9 243.5,455.4 243.8,452.5 244.1,449.8 244.4,447.8 244.8,447.0 245.1,448.8 245.4,453.1 245.7,458.0 246.0,461.7 246.3,464.2 246.6,466.4 246.9,467.3 247.2,466.1 247.5,463.4 247.8,460.6 248.2,459.4 248.5,459.5 248.8,459.7 249.1,460.0 249.4,460.3 249.7,460.6 250.0,461.0 250.3,461.6 250.6,462.2 250.9,462.6 251.2,462.8 251.6,460.5 251.9,456.1 252.2,453.8 252.5,456.1 252.8,460.5 253.1,462.8 253.4,462.3 253.7,461.2 254.0,459.9 254.3,458.8 254.6,458.3 255.0,458.7 255.3,459.5 255.6,460.2 255.9,460.6 256.2,460.2 256.5,459.4 256.8,458.4 257.1,457.6 257.4,457.2 257.7,458.4 258.0,461.1 258.4,463.9 258.7,465.1 259.0,463.9 259.3,460.9 259.6,457.1 259.9,453.8 260.2,450.4 260.5,447.0 260.8,445.4 261.1,447.3 261.5,449.3 261.8,448.8 262.1,447.6 262.4,446.4 262.7,445.9 263.0,446.8 263.3,448.9 263.6,451.2 263.9,452.7 264.2,453.4 264.5,454.0 264.9,454.5 265.2,454.9 265.5,455.0 265.8,453.8 266.1,450.8 266.4,446.8 266.7,442.5 267.0,436.0 267.3,428.2 267.6,424.5 267.9,431.7 268.3,442.5 268.6,450.6 268.9,455.0 269.2,453.9 269.5,451.6 269.8,449.3 270.1,448.2 270.4,449.4 270.7,452.1 271.0,454.8 271.3,456.0 271.7,454.8 272.0,452.1 272.3,449.4 272.6,448.2 272.9,448.5 273.2,449.0 273.5,449.3 273.8,447.2 274.1,442.6 274.4,437.9 274.7,435.8 275.1,437.1 275.4,440.4 275.7,444.8 276.0,455.6 276.3,464.0 276.6,462.8 276.9,460.0 277.2,457.2 277.5,456.0 277.8,456.6 278.1,458.0 278.5,459.7 278.8,461.1 279.1,461.7 279.4,461.6 279.7,461.2 280.0,460.7 280.3,460.1 280.6,459.4 280.9,458.8 281.2,458.3 281.6,457.9 281.9,457.5 282.2,457.2 282.5,456.9 282.8,456.5 283.1,456.1 283.4,455.6 283.7,455.0 284.0,454.0 284.3,452.3 284.6,450.3 285.0,448.3 285.3,446.6 285.6,445.3 285.9,444.8 286.2,446.2 286.5,449.3 286.8,452.4 287.1,453.8 287.4,453.2 287.7,451.9 288.0,450.4 288.4,448.3 288.7,445.4 289.0,442.4 289.3,440.1 289.6,439.2 289.9,443.2 290.2,451.9 290.5,460.5 290.8,464.5 291.1,462.5 291.4,458.0 291.8,453.5 292.1,451.5 292.4,452.0 292.7,453.2 293.0,454.8 293.3,456.7 293.6,458.3 293.9,459.5 294.2,460.0 294.5,459.1 294.8,456.9 295.2,454.4 295.5,452.7 295.8,451.7 296.1,450.9 296.4,450.4" fill="none" stroke="#1f77b4" stroke-width="1.0" stroke-linejoin="round"/>
<circle cx="233.1" cy="460.4" r="2.2" fill="#1f77b4" fill-opacity="0.28"/>
<circle cx="236.5" cy="458.9" r="2.2" fill="#1f77b4" fill-opacity="0.28"/>
<circle cx="237.8" cy="446.5" r="2.2" fill="#1f77b4" fill-opacity="0.28"/>
<circle cx="238" cy="449.5" r="2.2" fill="#1f77b4" fill-opacity="0.28"/>
<circle cx="239.9" cy="460" r="2.2" fill="#1f77b4" fill-opacity="0.28"/>
<circle cx="239.5" cy="464.5" r="2.2" fill="#1f77b4" fill-opacity="0.28"/>
<circle cx="239.2" cy="469.6" r="2.2" fill="#1f77b4" fill-opacity="0.28"/>
<circle cx="242" cy="463.8" r="2.2" fill="#1f77b4" fill-opacity="0.28"/>
<circle cx="242.9" cy="463.2" r="2.2" fill="#1f77b4" fill-opacity="0.28"/>
<circle cx="243.5" cy="460" r="2.2" fill="#1f77b4" fill-opacity="0.28"/>
<circle cx="244" cy="457.2" r="2.2" fill="#1f77b4" fill-opacity="0.28"/>
<circle cx="244.4" cy="453.3" r="2.2" fill="#1f77b4" fill-opacity="0.28"/>
<circle cx="244.8" cy="450.4" r="2.2" fill="#1f77b4" fill-opacity="0.28"/>
<circle cx="257.6" cy="456.6" r="2.2" fill="#1f77b4" fill-opacity="0.28"/>
<circle cx="257.6" cy="460.6" r="2.2" fill="#1f77b4" fill-opacity="0.28"/>
<circle cx="257.1" cy="462.3" r="2.2" fill="#1f77b4" fill-opacity="0.28"/>
<circle cx="258.2" cy="463.4" r="2.2" fill="#1f77b4" fill-opacity="0.28"/>
<circle cx="261.9" cy="452.7" r="2.2" fill="#1f77b4" fill-opacity="0.28"/>
<circle cx="262.7" cy="452.9" r="2.2" fill="#1f77b4" fill-opacity="0.28"/>
<circle cx="269.5" cy="448.7" r="2.2" fill="#1f77b4" fill-opacity="0.28"/>
<circle cx="275.1" cy="443.7" r="2.2" fill="#1f77b4" fill-opacity="0.28"/>
<circle cx="275.7" cy="445" r="2.2" fill="#1f77b4" fill-opacity="0.28"/>
<circle cx="275.7" cy="455.5" r="2.2" fill="#1f77b4" fill-opacity="0.28"/>
<circle cx="277.7" cy="457" r="2.2" fill="#1f77b4" fill-opacity="0.28"/>
<circle cx="284.7" cy="448.7" r="2.2" fill="#1f77b4" fill-opacity="0.28"/>
<circle cx="292.6" cy="452.2" r="2.2" fill="#1f77b4" fill-opacity="0.28"/>
<circle cx="292.4" cy="453.3" r="2.2" fill="#1f77b4" fill-opacity="0.28"/>
<circle cx="233.1" cy="460.4" r="0.95" fill="#ff7f0e"/>
<circle cx="236.5" cy="458.9" r="0.95" fill="#ff7f0e"/>
<circle cx="237.8" cy="446.5" r="0.95" fill="#ff7f0e"/>
<circle cx="238" cy="449.5" r="0.95" fill="#ff7f0e"/>
<circle cx="239.9" cy="460" r="0.95" fill="#ff7f0e"/>
<circle cx="239.5" cy="464.5" r="0.95" fill="#ff7f0e"/>
<circle cx="239.2" cy="469.6" r="0.95" fill="#ff7f0e"/>
<circle cx="242" cy="463.8" r="0.95" fill="#ff7f0e"/>
<circle cx="242.9" cy="463.2" r="0.95" fill="#ff7f0e"/>
<circle cx="243.5" cy="460" r="0.95" fill="#ff7f0e"/>
<circle cx="244" cy="457.2" r="0.95" fill="#ff7f0e"/>
<circle cx="244.4" cy="453.3" r="0.95" fill="#ff7f0e"/>
<circle cx="244.8" cy="450.4" r="0.95" fill="#ff7f0e"/>
<circle cx="257.6" cy="456.6" r="0.95" fill="#ff7f0e"/>
<circle cx="257.6" cy="460.6" r="0.95" fill="#ff7f0e"/>
<circle cx="257.1" cy="462.3" r="0.95" fill="#ff7f0e"/>
<circle cx="258.2" cy="463.4" r="0.95" fill="#ff7f0e"/>
<circle cx="261.9" cy="452.7" r="0.95" fill="#ff7f0e"/>
<circle cx="262.7" cy="452.9" r="0.95" fill="#ff7f0e"/>
<circle cx="269.5" cy="448.7" r="0.95" fill="#ff7f0e"/>
<circle cx="275.1" cy="443.7" r="0.95" fill="#ff7f0e"/>
<circle cx="275.7" cy="445" r="0.95" fill="#ff7f0e"/>
<circle cx="275.7" cy="455.5" r="0.95" fill="#ff7f0e"/>
<circle cx="277.7" cy="457" r="0.95" fill="#ff7f0e"/>
<circle cx="284.7" cy="448.7" r="0.95" fill="#ff7f0e"/>
<circle cx="292.6" cy="452.2" r="0.95" fill="#ff7f0e"/>
<circle cx="292.4" cy="453.3" r="0.95" fill="#ff7f0e"/>
</g>
<rect x="219.1" y="422.0" width="81.3" height="50.1" fill="none" stroke="#6a6a6a" stroke-width="0.8"/>
<line x1="222.8" y1="472.1" x2="222.8" y2="473.90000000000003" stroke="#6a6a6a" stroke-width="0.8"/>
<text x="222.8" y="478.5" font-size="5" text-anchor="middle" fill="#262626" class="t">0</text>
<line x1="238.3" y1="472.1" x2="238.3" y2="473.90000000000003" stroke="#6a6a6a" stroke-width="0.8"/>
<text x="238.3" y="478.5" font-size="5" text-anchor="middle" fill="#262626" class="t">50</text>
<line x1="253.7" y1="472.1" x2="253.7" y2="473.90000000000003" stroke="#6a6a6a" stroke-width="0.8"/>
<text x="253.7" y="478.5" font-size="5" text-anchor="middle" fill="#262626" class="t">100</text>
<line x1="269.2" y1="472.1" x2="269.2" y2="473.90000000000003" stroke="#6a6a6a" stroke-width="0.8"/>
<text x="269.2" y="478.5" font-size="5" text-anchor="middle" fill="#262626" class="t">150</text>
<line x1="284.6" y1="472.1" x2="284.6" y2="473.90000000000003" stroke="#6a6a6a" stroke-width="0.8"/>
<text x="284.6" y="478.5" font-size="5" text-anchor="middle" fill="#262626" class="t">200</text>
<line x1="300.1" y1="472.1" x2="300.1" y2="473.90000000000003" stroke="#6a6a6a" stroke-width="0.8"/>
<text x="300.1" y="478.5" font-size="5" text-anchor="middle" fill="#262626" class="t">250</text>
<line x1="217.29999999999998" y1="426.5" x2="219.1" y2="426.5" stroke="#6a6a6a" stroke-width="0.8"/>
<text x="216.79999999999998" y="428.3" font-size="5" text-anchor="end" fill="#262626" class="t">4</text>
<line x1="217.29999999999998" y1="441.4" x2="219.1" y2="441.4" stroke="#6a6a6a" stroke-width="0.8"/>
<text x="216.79999999999998" y="443.2" font-size="5" text-anchor="end" fill="#262626" class="t">2</text>
<line x1="217.29999999999998" y1="456.3" x2="219.1" y2="456.3" stroke="#6a6a6a" stroke-width="0.8"/>
<text x="216.79999999999998" y="458.1" font-size="5" text-anchor="end" fill="#262626" class="t">0</text>
<line x1="217.29999999999998" y1="471.3" x2="219.1" y2="471.3" stroke="#6a6a6a" stroke-width="0.8"/>
<text x="216.79999999999998" y="473.1" font-size="5" text-anchor="end" fill="#262626" class="t">−2</text>
<defs><clipPath id="c33"><rect x="316.5" y="422.0" width="81.3" height="50.1"/></clipPath></defs>
<g clip-path="url(#c33)">
<polyline points="320.2,464.0 320.5,463.2 320.8,461.2 321.1,458.3 321.4,448.1 321.7,432.5 322.1,424.5 322.4,430.3 322.7,441.5 323.0,448.2 323.3,449.4 323.6,450.1 323.9,450.4 324.2,449.3 324.5,446.6 324.8,443.5 325.1,440.8 325.5,439.7 325.8,446.0 326.1,453.8 326.4,456.4 326.7,458.6 327.0,460.3 327.3,461.3 327.6,461.7 327.9,460.3 328.2,456.6 328.5,451.5 328.9,437.5 329.2,426.2 329.5,432.2 329.8,443.3 330.1,449.3 330.4,449.3 330.7,449.1 331.0,448.9 331.3,448.6 331.6,448.2 331.9,445.8 332.3,443.7 332.6,444.6 332.9,446.7 333.2,449.3 333.5,451.5 333.8,453.4 334.1,455.5 334.4,457.5 334.7,458.9 335.0,459.4 335.3,454.4 335.7,443.3 336.0,432.3 336.3,427.3 336.6,430.9 336.9,438.9 337.2,446.8 337.5,450.4 337.8,449.0 338.1,445.9 338.4,442.8 338.8,441.4 339.1,444.0 339.4,448.9 339.7,451.5 340.0,450.1 340.3,447.0 340.6,443.9 340.9,442.5 341.2,444.2 341.5,447.9 341.8,451.5 342.2,454.7 342.5,458.0 342.8,460.6 343.1,461.7 343.4,454.8 343.7,442.1 344.0,435.2 344.3,439.1 344.6,446.5 344.9,450.4 345.2,450.4 345.6,450.4 345.9,450.4 346.2,450.4 346.5,449.8 346.8,448.2 347.1,446.4 347.4,444.8 347.7,444.2 348.0,444.7 348.3,445.9 348.6,447.7 349.0,449.6 349.3,451.5 349.6,453.8 349.9,456.6 350.2,459.0 350.5,460.0 350.8,458.3 351.1,454.6 351.4,450.6 351.7,448.2 352.0,447.5 352.4,447.0 352.7,446.6 353.0,446.1 353.3,445.8 353.6,445.5 353.9,445.4 354.2,445.8 354.5,446.8 354.8,447.9 355.1,448.9 355.4,449.3 355.8,446.7 356.1,441.8 356.4,439.2 356.7,440.2 357.0,442.8 357.3,446.1 357.6,449.3 357.9,453.1 358.2,456.0 358.5,457.0 358.9,457.7 359.2,458.3 359.5,458.9 359.8,459.5 360.1,460.1 360.4,460.5 360.7,460.6 361.0,460.1 361.3,458.8 361.6,457.2 361.9,455.8 362.3,455.0 362.6,454.7 362.9,454.5 363.2,454.4 363.5,455.7 363.8,458.9 364.1,462.8 364.4,466.0 364.7,467.3 365.0,465.3 365.3,461.4 365.7,459.4 366.0,460.5 366.3,462.8 366.6,465.1 366.9,466.2 367.2,465.8 367.5,464.9 367.8,463.8 368.1,462.8 368.4,461.8 368.7,460.7 369.1,459.8 369.4,459.4 369.7,460.1 370.0,461.7 370.3,463.6 370.6,465.1 370.9,466.3 371.2,467.5 371.5,468.6 371.8,469.3 372.1,469.6 372.5,468.0 372.8,464.1 373.1,458.9 373.4,453.7 373.7,449.8 374.0,448.2 374.3,451.0 374.6,456.1 374.9,458.9 375.2,458.0 375.5,455.7 375.9,452.7 376.2,449.7 376.5,447.4 376.8,446.5 377.1,446.6 377.4,446.9 377.7,447.3 378.0,447.9 378.3,448.6 378.6,449.4 379.0,450.2 379.3,451.2 379.6,452.1 379.9,453.1 380.2,454.1 380.5,455.1 380.8,456.0 381.1,456.8 381.4,457.6 381.7,458.3 382.0,459.0 382.4,459.7 382.7,460.4 383.0,460.9 383.3,461.1 383.6,459.4 383.9,455.8 384.2,452.1 384.5,450.4 384.8,450.9 385.1,452.0 385.4,453.5 385.8,455.0 386.1,456.7 386.4,458.9 386.7,461.1 387.0,462.7 387.3,463.4 387.6,460.2 387.9,452.5 388.2,443.3 388.5,435.6 388.8,432.4 389.2,436.1 389.5,444.2 389.8,452.3 390.1,456.0 390.4,455.0 390.7,452.5 391.0,449.2 391.3,446.0 391.6,443.5 391.9,442.5 392.2,443.9 392.6,447.3 392.9,451.4 393.2,455.1 393.5,457.2 393.8,458.0 394.1,458.3" fill="none" stroke="#1f77b4" stroke-width="1.0" stroke-linejoin="round"/>
<circle cx="355" cy="444.8" r="2.2" fill="#1f77b4" fill-opacity="0.28"/>
<circle cx="356.3" cy="444.4" r="2.2" fill="#1f77b4" fill-opacity="0.28"/>
<circle cx="356.7" cy="445.7" r="2.2" fill="#1f77b4" fill-opacity="0.28"/>
<circle cx="356.3" cy="447.5" r="2.2" fill="#1f77b4" fill-opacity="0.28"/>
<circle cx="355" cy="447.5" r="2.2" fill="#1f77b4" fill-opacity="0.28"/>
<circle cx="349.2" cy="449.3" r="2.2" fill="#1f77b4" fill-opacity="0.28"/>
<circle cx="349.5" cy="450.7" r="2.2" fill="#1f77b4" fill-opacity="0.28"/>
<circle cx="353.3" cy="453.8" r="2.2" fill="#1f77b4" fill-opacity="0.28"/>
<circle cx="355.4" cy="454.2" r="2.2" fill="#1f77b4" fill-opacity="0.28"/>
<circle cx="320" cy="464" r="2.2" fill="#1f77b4" fill-opacity="0.28"/>
<circle cx="320.5" cy="461.5" r="2.2" fill="#1f77b4" fill-opacity="0.28"/>
<circle cx="321.2" cy="457" r="2.2" fill="#1f77b4" fill-opacity="0.28"/>
<circle cx="323.6" cy="452.1" r="2.2" fill="#1f77b4" fill-opacity="0.28"/>
<circle cx="326.2" cy="455.9" r="2.2" fill="#1f77b4" fill-opacity="0.28"/>
<circle cx="330.9" cy="449.6" r="2.2" fill="#1f77b4" fill-opacity="0.28"/>
<circle cx="331.5" cy="448.7" r="2.2" fill="#1f77b4" fill-opacity="0.28"/>
<circle cx="335.6" cy="442" r="2.2" fill="#1f77b4" fill-opacity="0.28"/>
<circle cx="336.7" cy="429.2" r="2.2" fill="#1f77b4" fill-opacity="0.28"/>
<circle cx="335.8" cy="455.2" r="2.2" fill="#1f77b4" fill-opacity="0.28"/>
<circle cx="335.3" cy="460" r="2.2" fill="#1f77b4" fill-opacity="0.28"/>
<circle cx="341.2" cy="451.3" r="2.2" fill="#1f77b4" fill-opacity="0.28"/>
<circle cx="343.7" cy="437.8" r="2.2" fill="#1f77b4" fill-opacity="0.28"/>
<circle cx="345.3" cy="451" r="2.2" fill="#1f77b4" fill-opacity="0.28"/>
<circle cx="346.2" cy="451.6" r="2.2" fill="#1f77b4" fill-opacity="0.28"/>
<circle cx="348.8" cy="447" r="2.2" fill="#1f77b4" fill-opacity="0.28"/>
<circle cx="348.8" cy="450.4" r="2.2" fill="#1f77b4" fill-opacity="0.28"/>
<circle cx="352.7" cy="449.9" r="2.2" fill="#1f77b4" fill-opacity="0.28"/>
<circle cx="352.3" cy="450" r="2.2" fill="#1f77b4" fill-opacity="0.28"/>
<circle cx="353.4" cy="449.5" r="2.2" fill="#1f77b4" fill-opacity="0.28"/>
<circle cx="352.8" cy="451" r="2.2" fill="#1f77b4" fill-opacity="0.28"/>
<circle cx="354.5" cy="444.2" r="2.2" fill="#1f77b4" fill-opacity="0.28"/>
<circle cx="355.4" cy="444.2" r="2.2" fill="#1f77b4" fill-opacity="0.28"/>
<circle cx="356.2" cy="446" r="2.2" fill="#1f77b4" fill-opacity="0.28"/>
<circle cx="356.5" cy="440.5" r="2.2" fill="#1f77b4" fill-opacity="0.28"/>
<circle cx="353.9" cy="453.8" r="2.2" fill="#1f77b4" fill-opacity="0.28"/>
<circle cx="355.4" cy="454.4" r="2.2" fill="#1f77b4" fill-opacity="0.28"/>
<circle cx="357.9" cy="460" r="2.2" fill="#1f77b4" fill-opacity="0.28"/>
<circle cx="360.7" cy="461.5" r="2.2" fill="#1f77b4" fill-opacity="0.28"/>
<circle cx="361.3" cy="457.2" r="2.2" fill="#1f77b4" fill-opacity="0.28"/>
<circle cx="362.2" cy="455.8" r="2.2" fill="#1f77b4" fill-opacity="0.28"/>
<circle cx="384.4" cy="450.4" r="2.2" fill="#1f77b4" fill-opacity="0.28"/>
<circle cx="384" cy="452.7" r="2.2" fill="#1f77b4" fill-opacity="0.28"/>
<circle cx="389.5" cy="453.8" r="2.2" fill="#1f77b4" fill-opacity="0.28"/>
<circle cx="388.9" cy="458.1" r="2.2" fill="#1f77b4" fill-opacity="0.28"/>
<circle cx="388.1" cy="460.4" r="2.2" fill="#1f77b4" fill-opacity="0.28"/>
<circle cx="394.5" cy="458.1" r="2.2" fill="#1f77b4" fill-opacity="0.28"/>
<circle cx="355" cy="444.8" r="0.95" fill="#ff7f0e"/>
<circle cx="356.3" cy="444.4" r="0.95" fill="#ff7f0e"/>
<circle cx="356.7" cy="445.7" r="0.95" fill="#ff7f0e"/>
<circle cx="356.3" cy="447.5" r="0.95" fill="#ff7f0e"/>
<circle cx="355" cy="447.5" r="0.95" fill="#ff7f0e"/>
<circle cx="349.2" cy="449.3" r="0.95" fill="#ff7f0e"/>
<circle cx="349.5" cy="450.7" r="0.95" fill="#ff7f0e"/>
<circle cx="353.3" cy="453.8" r="0.95" fill="#ff7f0e"/>
<circle cx="355.4" cy="454.2" r="0.95" fill="#ff7f0e"/>
<circle cx="320" cy="464" r="0.95" fill="#ff7f0e"/>
<circle cx="320.5" cy="461.5" r="0.95" fill="#ff7f0e"/>
<circle cx="321.2" cy="457" r="0.95" fill="#ff7f0e"/>
<circle cx="323.6" cy="452.1" r="0.95" fill="#ff7f0e"/>
<circle cx="326.2" cy="455.9" r="0.95" fill="#ff7f0e"/>
<circle cx="330.9" cy="449.6" r="0.95" fill="#ff7f0e"/>
<circle cx="331.5" cy="448.7" r="0.95" fill="#ff7f0e"/>
<circle cx="335.6" cy="442" r="0.95" fill="#ff7f0e"/>
<circle cx="336.7" cy="429.2" r="0.95" fill="#ff7f0e"/>
<circle cx="335.8" cy="455.2" r="0.95" fill="#ff7f0e"/>
<circle cx="335.3" cy="460" r="0.95" fill="#ff7f0e"/>
<circle cx="341.2" cy="451.3" r="0.95" fill="#ff7f0e"/>
<circle cx="343.7" cy="437.8" r="0.95" fill="#ff7f0e"/>
<circle cx="345.3" cy="451" r="0.95" fill="#ff7f0e"/>
<circle cx="346.2" cy="451.6" r="0.95" fill="#ff7f0e"/>
<circle cx="348.8" cy="447" r="0.95" fill="#ff7f0e"/>
<circle cx="348.8" cy="450.4" r="0.95" fill="#ff7f0e"/>
<circle cx="352.7" cy="449.9" r="0.95" fill="#ff7f0e"/>
<circle cx="352.3" cy="450" r="0.95" fill="#ff7f0e"/>
<circle cx="353.4" cy="449.5" r="0.95" fill="#ff7f0e"/>
<circle cx="352.8" cy="451" r="0.95" fill="#ff7f0e"/>
<circle cx="354.5" cy="444.2" r="0.95" fill="#ff7f0e"/>
<circle cx="355.4" cy="444.2" r="0.95" fill="#ff7f0e"/>
<circle cx="356.2" cy="446" r="0.95" fill="#ff7f0e"/>
<circle cx="356.5" cy="440.5" r="0.95" fill="#ff7f0e"/>
<circle cx="353.9" cy="453.8" r="0.95" fill="#ff7f0e"/>
<circle cx="355.4" cy="454.4" r="0.95" fill="#ff7f0e"/>
<circle cx="357.9" cy="460" r="0.95" fill="#ff7f0e"/>
<circle cx="360.7" cy="461.5" r="0.95" fill="#ff7f0e"/>
<circle cx="361.3" cy="457.2" r="0.95" fill="#ff7f0e"/>
<circle cx="362.2" cy="455.8" r="0.95" fill="#ff7f0e"/>
<circle cx="384.4" cy="450.4" r="0.95" fill="#ff7f0e"/>
<circle cx="384" cy="452.7" r="0.95" fill="#ff7f0e"/>
<circle cx="389.5" cy="453.8" r="0.95" fill="#ff7f0e"/>
<circle cx="388.9" cy="458.1" r="0.95" fill="#ff7f0e"/>
<circle cx="388.1" cy="460.4" r="0.95" fill="#ff7f0e"/>
<circle cx="394.5" cy="458.1" r="0.95" fill="#ff7f0e"/>
</g>
<rect x="316.5" y="422.0" width="81.3" height="50.1" fill="none" stroke="#6a6a6a" stroke-width="0.8"/>
<line x1="320.2" y1="472.1" x2="320.2" y2="473.90000000000003" stroke="#6a6a6a" stroke-width="0.8"/>
<text x="320.2" y="478.5" font-size="5" text-anchor="middle" fill="#262626" class="t">0</text>
<line x1="335.7" y1="472.1" x2="335.7" y2="473.90000000000003" stroke="#6a6a6a" stroke-width="0.8"/>
<text x="335.7" y="478.5" font-size="5" text-anchor="middle" fill="#262626" class="t">50</text>
<line x1="351.1" y1="472.1" x2="351.1" y2="473.90000000000003" stroke="#6a6a6a" stroke-width="0.8"/>
<text x="351.1" y="478.5" font-size="5" text-anchor="middle" fill="#262626" class="t">100</text>
<line x1="366.6" y1="472.1" x2="366.6" y2="473.90000000000003" stroke="#6a6a6a" stroke-width="0.8"/>
<text x="366.6" y="478.5" font-size="5" text-anchor="middle" fill="#262626" class="t">150</text>
<line x1="382.0" y1="472.1" x2="382.0" y2="473.90000000000003" stroke="#6a6a6a" stroke-width="0.8"/>
<text x="382.0" y="478.5" font-size="5" text-anchor="middle" fill="#262626" class="t">200</text>
<line x1="397.5" y1="472.1" x2="397.5" y2="473.90000000000003" stroke="#6a6a6a" stroke-width="0.8"/>
<text x="397.5" y="478.5" font-size="5" text-anchor="middle" fill="#262626" class="t">250</text>
<line x1="314.7" y1="422.5" x2="316.5" y2="422.5" stroke="#6a6a6a" stroke-width="0.8"/>
<text x="314.2" y="424.3" font-size="5" text-anchor="end" fill="#262626" class="t">4</text>
<line x1="314.7" y1="437.5" x2="316.5" y2="437.5" stroke="#6a6a6a" stroke-width="0.8"/>
<text x="314.2" y="439.3" font-size="5" text-anchor="end" fill="#262626" class="t">2</text>
<line x1="314.7" y1="452.7" x2="316.5" y2="452.7" stroke="#6a6a6a" stroke-width="0.8"/>
<text x="314.2" y="454.5" font-size="5" text-anchor="end" fill="#262626" class="t">0</text>
<line x1="314.7" y1="467.9" x2="316.5" y2="467.9" stroke="#6a6a6a" stroke-width="0.8"/>
<text x="314.2" y="469.7" font-size="5" text-anchor="end" fill="#262626" class="t">−2</text>
<defs><clipPath id="c34"><rect x="414.2" y="422.0" width="81.3" height="50.1"/></clipPath></defs>
<g clip-path="url(#c34)">
<polyline points="417.9,465.1 418.2,460.2 418.5,453.8 418.8,443.1 419.1,430.5 419.4,424.5 419.8,429.2 420.1,438.4 420.4,444.8 420.7,446.6 421.0,447.8 421.3,449.3 421.6,452.2 421.9,455.6 422.2,457.2 422.5,451.8 422.8,441.7 423.2,436.3 423.5,439.3 423.8,445.3 424.1,450.4 424.4,453.6 424.7,456.6 425.0,459.2 425.3,461.0 425.6,461.7 425.9,456.0 426.2,443.4 426.6,430.8 426.9,425.1 427.2,428.3 427.5,435.5 427.8,443.3 428.1,448.2 428.4,450.4 428.7,452.0 429.0,452.7 429.3,451.1 429.6,447.6 430.0,444.1 430.3,442.5 430.6,443.8 430.9,446.9 431.2,450.6 431.5,453.8 431.8,456.7 432.1,459.9 432.4,462.8 432.7,464.9 433.0,465.7 433.4,460.1 433.7,447.9 434.0,435.7 434.3,430.1 434.6,433.0 434.9,439.6 435.2,446.5 435.5,450.4 435.8,451.6 436.1,452.4 436.5,452.7 436.8,450.9 437.1,447.0 437.4,443.2 437.7,441.4 438.0,442.1 438.3,444.0 438.6,446.6 438.9,449.3 439.2,453.4 439.5,458.3 439.9,460.6 440.2,458.9 440.5,454.6 440.8,448.6 441.1,442.1 441.4,436.1 441.7,431.8 442.0,430.1 442.3,434.1 442.6,441.8 442.9,447.0 443.3,448.7 443.6,449.9 443.9,450.4 444.2,449.7 444.5,448.1 444.8,446.6 445.1,445.9 445.4,446.6 445.7,448.1 446.0,449.7 446.3,450.4 446.7,447.8 447.0,442.9 447.3,440.3 447.6,442.8 447.9,448.1 448.2,453.5 448.5,456.0 448.8,452.8 449.1,446.9 449.4,443.7 449.7,446.9 450.1,452.8 450.4,456.0 450.7,454.4 451.0,450.9 451.3,447.5 451.6,445.9 451.9,447.9 452.2,451.8 452.5,453.8 452.8,452.0 453.1,448.2 453.5,444.8 453.8,442.1 454.1,439.7 454.4,438.6 454.7,440.9 455.0,446.4 455.3,452.6 455.6,457.2 455.9,460.3 456.2,462.9 456.6,464.0 456.9,462.8 457.2,460.6 457.5,459.4 457.8,460.3 458.1,462.2 458.4,464.2 458.7,465.1 459.0,464.4 459.3,462.6 459.6,460.3 460.0,458.3 460.3,457.2 460.6,456.7 460.9,456.4 461.2,456.1 461.5,456.0 461.8,458.0 462.1,462.2 462.4,466.5 462.7,468.5 463.0,466.2 463.4,461.2 463.7,456.1 464.0,453.8 464.3,454.6 464.6,456.6 464.9,458.9 465.2,460.9 465.5,461.7 465.8,460.8 466.1,458.5 466.4,455.9 466.8,453.6 467.1,452.7 467.4,453.2 467.7,454.3 468.0,456.0 468.3,457.7 468.6,459.4 468.9,461.3 469.2,463.6 469.5,465.4 469.8,466.2 470.2,464.2 470.5,459.2 470.8,452.7 471.1,446.2 471.4,441.2 471.7,439.2 472.0,440.2 472.3,442.4 472.6,445.0 472.9,447.0 473.2,448.5 473.6,449.8 473.9,450.4 474.2,447.9 474.5,443.2 474.8,440.3 475.1,439.7 475.4,439.2 475.7,438.8 476.0,438.4 476.3,438.0 476.7,437.7 477.0,437.4 477.3,437.1 477.6,436.9 477.9,436.8 478.2,436.6 478.5,436.5 478.8,436.4 479.1,436.3 479.4,436.3 479.7,436.3 480.1,438.4 480.4,442.9 480.7,447.0 481.0,450.3 481.3,453.6 481.6,456.2 481.9,457.2 482.2,454.0 482.5,448.0 482.8,444.8 483.1,445.0 483.5,445.6 483.8,446.6 484.1,447.8 484.4,449.3 484.7,453.4 485.0,459.3 485.3,462.3 485.6,457.5 485.9,446.8 486.2,436.1 486.5,431.3 486.9,434.3 487.2,440.6 487.5,445.9 487.8,449.4 488.1,452.6 488.4,455.1 488.7,456.0 489.0,453.8 489.3,449.0 489.6,444.2 489.9,442.0 490.3,443.5 490.6,446.6 490.9,449.3 491.2,451.1 491.5,452.6 491.8,453.8" fill="none" stroke="#1f77b4" stroke-width="1.0" stroke-linejoin="round"/>
<circle cx="429.5" cy="447.6" r="2.2" fill="#1f77b4" fill-opacity="0.28"/>
<circle cx="429.5" cy="451.8" r="2.2" fill="#1f77b4" fill-opacity="0.28"/>
<circle cx="435.9" cy="451.8" r="2.2" fill="#1f77b4" fill-opacity="0.28"/>
<circle cx="435.7" cy="453.6" r="2.2" fill="#1f77b4" fill-opacity="0.28"/>
<circle cx="436.5" cy="455.5" r="2.2" fill="#1f77b4" fill-opacity="0.28"/>
<circle cx="437.8" cy="442" r="2.2" fill="#1f77b4" fill-opacity="0.28"/>
<circle cx="438.3" cy="445.4" r="2.2" fill="#1f77b4" fill-opacity="0.28"/>
<circle cx="437.2" cy="445.9" r="2.2" fill="#1f77b4" fill-opacity="0.28"/>
<circle cx="446.2" cy="446.2" r="2.2" fill="#1f77b4" fill-opacity="0.28"/>
<circle cx="457.2" cy="462.3" r="2.2" fill="#1f77b4" fill-opacity="0.28"/>
<circle cx="459.5" cy="458.9" r="2.2" fill="#1f77b4" fill-opacity="0.28"/>
<circle cx="463.2" cy="469.4" r="2.2" fill="#1f77b4" fill-opacity="0.28"/>
<circle cx="467.4" cy="452.9" r="2.2" fill="#1f77b4" fill-opacity="0.28"/>
<circle cx="491.4" cy="454" r="2.2" fill="#1f77b4" fill-opacity="0.28"/>
<circle cx="491.7" cy="456.6" r="2.2" fill="#1f77b4" fill-opacity="0.28"/>
<circle cx="429.5" cy="447.6" r="0.95" fill="#ff7f0e"/>
<circle cx="429.5" cy="451.8" r="0.95" fill="#ff7f0e"/>
<circle cx="435.9" cy="451.8" r="0.95" fill="#ff7f0e"/>
<circle cx="435.7" cy="453.6" r="0.95" fill="#ff7f0e"/>
<circle cx="436.5" cy="455.5" r="0.95" fill="#ff7f0e"/>
<circle cx="437.8" cy="442" r="0.95" fill="#ff7f0e"/>
<circle cx="438.3" cy="445.4" r="0.95" fill="#ff7f0e"/>
<circle cx="437.2" cy="445.9" r="0.95" fill="#ff7f0e"/>
<circle cx="446.2" cy="446.2" r="0.95" fill="#ff7f0e"/>
<circle cx="457.2" cy="462.3" r="0.95" fill="#ff7f0e"/>
<circle cx="459.5" cy="458.9" r="0.95" fill="#ff7f0e"/>
<circle cx="463.2" cy="469.4" r="0.95" fill="#ff7f0e"/>
<circle cx="467.4" cy="452.9" r="0.95" fill="#ff7f0e"/>
<circle cx="491.4" cy="454" r="0.95" fill="#ff7f0e"/>
<circle cx="491.7" cy="456.6" r="0.95" fill="#ff7f0e"/>
</g>
<rect x="414.2" y="422.0" width="81.3" height="50.1" fill="none" stroke="#6a6a6a" stroke-width="0.8"/>
<line x1="417.9" y1="472.1" x2="417.9" y2="473.90000000000003" stroke="#6a6a6a" stroke-width="0.8"/>
<text x="417.9" y="478.5" font-size="5" text-anchor="middle" fill="#262626" class="t">0</text>
<line x1="433.4" y1="472.1" x2="433.4" y2="473.90000000000003" stroke="#6a6a6a" stroke-width="0.8"/>
<text x="433.4" y="478.5" font-size="5" text-anchor="middle" fill="#262626" class="t">50</text>
<line x1="448.8" y1="472.1" x2="448.8" y2="473.90000000000003" stroke="#6a6a6a" stroke-width="0.8"/>
<text x="448.8" y="478.5" font-size="5" text-anchor="middle" fill="#262626" class="t">100</text>
<line x1="464.3" y1="472.1" x2="464.3" y2="473.90000000000003" stroke="#6a6a6a" stroke-width="0.8"/>
<text x="464.3" y="478.5" font-size="5" text-anchor="middle" fill="#262626" class="t">150</text>
<line x1="479.7" y1="472.1" x2="479.7" y2="473.90000000000003" stroke="#6a6a6a" stroke-width="0.8"/>
<text x="479.7" y="478.5" font-size="5" text-anchor="middle" fill="#262626" class="t">200</text>
<line x1="495.2" y1="472.1" x2="495.2" y2="473.90000000000003" stroke="#6a6a6a" stroke-width="0.8"/>
<text x="495.2" y="478.5" font-size="5" text-anchor="middle" fill="#262626" class="t">250</text>
<line x1="412.4" y1="434.4" x2="414.2" y2="434.4" stroke="#6a6a6a" stroke-width="0.8"/>
<text x="411.9" y="436.2" font-size="5" text-anchor="end" fill="#262626" class="t">2</text>
<line x1="412.4" y1="452.7" x2="414.2" y2="452.7" stroke="#6a6a6a" stroke-width="0.8"/>
<text x="411.9" y="454.5" font-size="5" text-anchor="end" fill="#262626" class="t">0</text>
<line x1="412.4" y1="470.7" x2="414.2" y2="470.7" stroke="#6a6a6a" stroke-width="0.8"/>
<text x="411.9" y="472.5" font-size="5" text-anchor="end" fill="#262626" class="t">−2</text>
</svg></body></html>
